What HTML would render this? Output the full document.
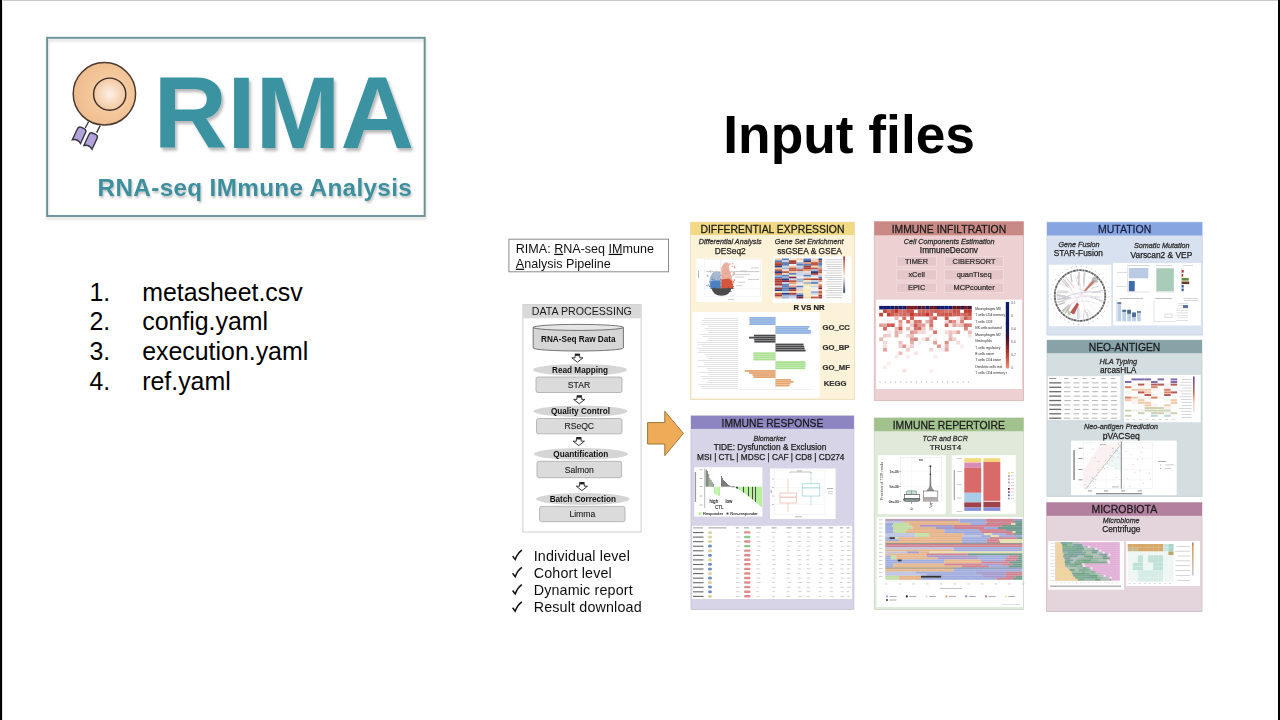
<!DOCTYPE html>
<html><head><meta charset="utf-8"><title>Input files</title>
<style>
html,body{margin:0;padding:0;background:#fff;width:1280px;height:720px;overflow:hidden}
svg{display:block;font-family:"Liberation Sans", sans-serif}
</style></head><body>
<svg width="1280" height="720" viewBox="0 0 1280 720">
<defs>
<filter id="soft" x="0" y="0" width="100%" height="100%"><feGaussianBlur stdDeviation="0.3"/></filter>
<radialGradient id="cellg" cx="0.6" cy="0.5" r="0.6"><stop offset="0" stop-color="#f8dcc0"/><stop offset="0.5" stop-color="#f4c89c"/><stop offset="1" stop-color="#eebb8c"/></radialGradient>
<radialGradient id="nucg" cx="0.5" cy="0.5" r="0.55"><stop offset="0" stop-color="#fdf0e6"/><stop offset="1" stop-color="#f2c49a"/></radialGradient>
<filter id="tsh" x="-10%" y="-10%" width="130%" height="140%"><feGaussianBlur in="SourceAlpha" stdDeviation="1.6"/><feOffset dx="1.5" dy="3" result="b"/><feFlood flood-color="#000" flood-opacity="0.28"/><feComposite in2="b" operator="in"/><feMerge><feMergeNode/><feMergeNode in="SourceGraphic"/></feMerge></filter>
<filter id="tsh2" x="-10%" y="-20%" width="130%" height="160%"><feGaussianBlur in="SourceAlpha" stdDeviation="0.9"/><feOffset dx="0.8" dy="1.8" result="b"/><feFlood flood-color="#000" flood-opacity="0.25"/><feComposite in2="b" operator="in"/><feMerge><feMergeNode/><feMergeNode in="SourceGraphic"/></feMerge></filter>
<filter id="bsh" x="-5%" y="-5%" width="110%" height="115%"><feGaussianBlur stdDeviation="1.6"/></filter>
</defs>
<rect x="0" y="0" width="1280" height="720" fill="#fff"/>
<rect x="0" y="0" width="1280" height="1" fill="#c9c9c9"/>
<rect x="0" y="0" width="2" height="720" fill="#000"/>
<rect x="2" y="0" width="1" height="720" fill="#e6e6e6"/>
<rect x="1278" y="0" width="2" height="720" fill="#000"/>
<rect x="47.1" y="37.8" width="377.6" height="178.2" fill="none" stroke="#000" stroke-opacity="0.13" stroke-width="2.5" filter="url(#bsh)" transform="translate(0.6,2.2)"/><rect x="47.1" y="37.8" width="377.6" height="178.2" fill="none" stroke="#6d9296" stroke-width="1.9"/>
<circle cx="104.4" cy="93.8" r="31.2" fill="url(#cellg)" stroke="#4a3a30" stroke-width="1.5"/>
<circle cx="109.7" cy="94.2" r="16.1" fill="url(#nucg)" stroke="#3e302a" stroke-width="1.4"/>
<line x1="88.6" y1="121.8" x2="85.2" y2="128" stroke="#333338" stroke-width="1.3"/>
<line x1="100.2" y1="125.6" x2="96.6" y2="132.6" stroke="#333338" stroke-width="1.3"/>
<path d="M-4.5,7.5 L-4.5,-4.3 Q-4.5,-7.5 -1.3,-7.5 L1.3,-7.5 Q4.5,-7.5 4.5,-4.3 L4.5,7.5 Q0,4.3 -4.5,7.5 Z" transform="translate(79.6,134.8) rotate(25)" fill="#b3a3dc" stroke="#37343f" stroke-width="1.4"/>
<path d="M-4.5,7.5 L-4.5,-4.3 Q-4.5,-7.5 -1.3,-7.5 L1.3,-7.5 Q4.5,-7.5 4.5,-4.3 L4.5,7.5 Q0,4.3 -4.5,7.5 Z" transform="translate(91.1,140.6) rotate(25)" fill="#b3a3dc" stroke="#37343f" stroke-width="1.4"/>
<text x="153.6" y="148" font-size="102" font-weight="700" fill="#3a93a2" filter="url(#tsh)">RIMA</text>
<text x="97.6" y="196" font-size="24.3" font-weight="700" fill="#3d8f9e" letter-spacing="0.33" filter="url(#tsh2)">RNA-seq IMmune Analysis</text>
<text x="89.50" y="300.60" font-size="24.9" fill="#000" text-anchor="start" >1.</text>
<text x="142.20" y="300.60" font-size="24.9" fill="#000" text-anchor="start" >metasheet.csv</text>
<text x="89.50" y="330.30" font-size="24.9" fill="#000" text-anchor="start" >2.</text>
<text x="142.20" y="330.30" font-size="24.9" fill="#000" text-anchor="start" >config.yaml</text>
<text x="89.50" y="360.00" font-size="24.9" fill="#000" text-anchor="start" >3.</text>
<text x="142.20" y="360.00" font-size="24.9" fill="#000" text-anchor="start" >execution.yaml</text>
<text x="89.50" y="389.70" font-size="24.9" fill="#000" text-anchor="start" >4.</text>
<text x="142.20" y="389.70" font-size="24.9" fill="#000" text-anchor="start" >ref.yaml</text>
<text x="723.30" y="152.70" font-size="53.3" fill="#000" font-weight="700" text-anchor="start" >Input files</text>
<g filter="url(#soft)">
<rect x="508.9" y="239.2" width="159.6" height="32.6" fill="#fff" stroke="#8a8a8a" stroke-width="1"/>
<text x="515.8" y="252.8" font-size="12.55" fill="#111">RIMA: <tspan text-decoration="underline">R</tspan>NA-seq <tspan text-decoration="underline">IM</tspan>mune</text>
<text x="515.8" y="267.7" font-size="12.55" fill="#111"><tspan text-decoration="underline">A</tspan>nalysis Pipeline</text>
<rect x="522.9" y="304.5" width="118.2" height="227.5" fill="#fff" stroke="#cfcfcf" stroke-width="1"/>
<rect x="522.9" y="304.5" width="118.2" height="13.8" fill="#d9d9d9"/>
<text x="581.80" y="315.10" font-size="10.65" fill="#1a1a1a" text-anchor="middle" >DATA PROCESSING</text>
<path d="M533.2,327.4 L533.2,348 A45.1,3 0 0 0 623.4,348 L623.4,327.4" fill="#d6d6d6" stroke="#555" stroke-width="0.8"/>
<ellipse cx="578.3" cy="327.4" rx="45.099999999999966" ry="3" fill="#e6e6e6" stroke="#555" stroke-width="0.8"/>
<text x="578.30" y="342.40" font-size="8.2" fill="#111" font-weight="700" text-anchor="middle" >RNA-Seq Raw Data</text>
<rect x="574.80" y="353.60" width="5.2" height="2" fill="#222"/>
<path d="M575.00,355.60 L579.80,355.60 L579.80,357.80 L583.00,357.80 L577.40,362.20 L571.80,357.80 L575.00,357.80 Z" fill="#fff" stroke="#222" stroke-width="0.9"/>
<ellipse cx="580.00" cy="369.80" rx="47.00" ry="5.80" fill="#d5d5d5"/>
<text x="580.00" y="372.70" font-size="8.2" fill="#111" font-weight="700" text-anchor="middle" >Read Mapping</text>
<rect x="536.00" y="377.00" width="86.00" height="15.50" rx="2" fill="#dbdbdb" stroke="#a9a9a9" stroke-width="0.8"/>
<text x="579.00" y="387.85" font-size="8.6" fill="#222" text-anchor="middle" stroke="#222" stroke-width="0.12">STAR</text>
<rect x="576.70" y="395.20" width="5.2" height="2" fill="#222"/>
<path d="M576.90,397.20 L581.70,397.20 L581.70,399.40 L584.90,399.40 L579.30,403.80 L573.70,399.40 L576.90,399.40 Z" fill="#fff" stroke="#222" stroke-width="0.9"/>
<ellipse cx="580.50" cy="411.25" rx="47.00" ry="5.65" fill="#d5d5d5"/>
<text x="580.50" y="414.15" font-size="8.2" fill="#111" font-weight="700" text-anchor="middle" >Quality Control</text>
<rect x="536.50" y="418.50" width="85.50" height="15.30" rx="2" fill="#dbdbdb" stroke="#a9a9a9" stroke-width="0.8"/>
<text x="579.25" y="429.25" font-size="8.6" fill="#222" text-anchor="middle" stroke="#222" stroke-width="0.12">RSeQC</text>
<rect x="576.20" y="437.00" width="5.2" height="2" fill="#222"/>
<path d="M576.40,439.00 L581.20,439.00 L581.20,441.20 L584.40,441.20 L578.80,445.60 L573.20,441.20 L576.40,441.20 Z" fill="#fff" stroke="#222" stroke-width="0.9"/>
<ellipse cx="580.85" cy="453.90" rx="47.15" ry="5.90" fill="#d5d5d5"/>
<text x="580.85" y="456.80" font-size="8.2" fill="#111" font-weight="700" text-anchor="middle" >Quantification</text>
<rect x="537.00" y="461.30" width="84.60" height="16.40" rx="2" fill="#dbdbdb" stroke="#a9a9a9" stroke-width="0.8"/>
<text x="579.30" y="472.60" font-size="8.6" fill="#222" text-anchor="middle" stroke="#222" stroke-width="0.12">Salmon</text>
<rect x="579.30" y="482.00" width="5.2" height="2" fill="#222"/>
<path d="M579.50,484.00 L584.30,484.00 L584.30,486.20 L587.50,486.20 L581.90,490.60 L576.30,486.20 L579.50,486.20 Z" fill="#fff" stroke="#222" stroke-width="0.9"/>
<ellipse cx="582.85" cy="498.95" rx="46.85" ry="5.95" fill="#d5d5d5"/>
<text x="582.85" y="501.85" font-size="8.2" fill="#111" font-weight="700" text-anchor="middle" >Batch Correction</text>
<rect x="539.60" y="506.40" width="85.40" height="15.30" rx="2" fill="#dbdbdb" stroke="#a9a9a9" stroke-width="0.8"/>
<text x="582.30" y="517.15" font-size="8.6" fill="#222" text-anchor="middle" stroke="#222" stroke-width="0.12">Limma</text>
<path d="M512.6,556.10 L515.2,559.50 Q517.5,553.20 521.9,550.20" fill="none" stroke="#111" stroke-width="1.5"/>
<text x="533.70" y="560.70" font-size="14.3" fill="#111" text-anchor="start" letter-spacing="0.16">Individual level</text>
<path d="M512.6,573.30 L515.2,576.70 Q517.5,570.40 521.9,567.40" fill="none" stroke="#111" stroke-width="1.5"/>
<text x="533.70" y="577.90" font-size="14.3" fill="#111" text-anchor="start" letter-spacing="0.16">Cohort level</text>
<path d="M512.6,590.50 L515.2,593.90 Q517.5,587.60 521.9,584.60" fill="none" stroke="#111" stroke-width="1.5"/>
<text x="533.70" y="595.10" font-size="14.3" fill="#111" text-anchor="start" letter-spacing="0.16">Dynamic report</text>
<path d="M512.6,607.70 L515.2,611.10 Q517.5,604.80 521.9,601.80" fill="none" stroke="#111" stroke-width="1.5"/>
<text x="533.70" y="612.30" font-size="14.3" fill="#111" text-anchor="start" letter-spacing="0.16">Result download</text>
<path d="M647.6,422.6 L664.8,422.6 L664.8,411.2 L683.4,433.4 L664.8,455.7 L664.8,444 L647.6,444 Z" fill="#eeac58" stroke="#9e7638" stroke-width="1"/>
<rect x="690.50" y="222.20" width="163.90" height="177.40" fill="#fcf1d9" stroke="#eadcb8" stroke-width="0.8"/>
<rect x="690.50" y="222.20" width="163.90" height="12.80" fill="#f1d984"/>
<text x="772.45" y="232.60" font-size="10.4" fill="#1c1c1c" stroke="#1c1c1c" stroke-width="0.26" text-anchor="middle" >DIFFERENTIAL EXPRESSION</text>
<text x="730.20" y="244.20" font-size="7.2" fill="#333" font-style="italic" stroke="#333" stroke-width="0.29" text-anchor="middle" >Differential Analysis</text>
<text x="730.20" y="253.90" font-size="8.3" fill="#222" stroke="#222" stroke-width="0.25" text-anchor="middle" >DESeq2</text>
<text x="809.20" y="244.10" font-size="7.2" fill="#333" font-style="italic" stroke="#333" stroke-width="0.29" text-anchor="middle" >Gene Set Enrichment</text>
<text x="809.50" y="253.90" font-size="8.4" fill="#222" stroke="#222" stroke-width="0.25" text-anchor="middle" >ssGSEA &amp; GSEA</text>
<rect x="696.40" y="258.70" width="65.30" height="43.30" fill="#fff"/>
<rect x="704.3" y="259.3" width="56.4" height="37.4" fill="none" stroke="#e6e6e6" stroke-width="0.4"/>
<line x1="704.3" y1="271.7" x2="760.7" y2="271.7" stroke="#d0d0d0" stroke-width="0.4" stroke-dasharray="1 1"/>
<line x1="704.3" y1="288.7" x2="760.7" y2="288.7" stroke="#d0d0d0" stroke-width="0.4" stroke-dasharray="1 1"/>
<line x1="720.8" y1="259.3" x2="720.8" y2="296.7" stroke="#c8c8c8" stroke-width="0.4"/>
<path d="M711,289 L709,282 L710.5,276 L713.5,272 L716.5,271 L720.5,272 L720.5,289 Z" fill="#a9bad0"/>
<path d="M710.5,289 L710.2,281.5 L715,280.5 L720.5,280.5 L720.5,289 Z" fill="#4c80c2"/>
<path d="M721.3,289 L721.3,268 L723.5,263.5 L726.5,262 L729,264 L729.5,271 L732,278 L733.5,284 L732,289 Z" fill="#eab0a2"/>
<path d="M721.3,289 L721.3,279.5 L729,278.5 L732,281 L733.5,289 Z" fill="#d4553a"/>
<path d="M711.5,288.3 L731.5,288.3 Q730,295.6 721.5,295.8 Q713,295.6 711.5,288.3 Z" fill="#4b4b4d"/>
<circle cx="734.3" cy="273.8" r="0.7" fill="#e8a090"/>
<circle cx="720.0" cy="278.1" r="0.7" fill="#93aacb"/>
<circle cx="729.2" cy="289.3" r="0.7" fill="#4b4b4d"/>
<circle cx="720.5" cy="275.0" r="0.7" fill="#93aacb"/>
<circle cx="717.6" cy="278.5" r="0.7" fill="#93aacb"/>
<circle cx="712.2" cy="279.5" r="0.7" fill="#4c80c2"/>
<circle cx="712.9" cy="273.9" r="0.7" fill="#93aacb"/>
<circle cx="720.3" cy="287.8" r="0.7" fill="#4c80c2"/>
<circle cx="726.9" cy="278.2" r="0.7" fill="#e8a090"/>
<circle cx="728.8" cy="282.5" r="0.7" fill="#d4553a"/>
<circle cx="712.9" cy="281.2" r="0.7" fill="#4c80c2"/>
<circle cx="722.4" cy="283.4" r="0.7" fill="#d4553a"/>
<circle cx="712.3" cy="276.9" r="0.7" fill="#93aacb"/>
<circle cx="731.9" cy="276.0" r="0.7" fill="#e8a090"/>
<circle cx="726.1" cy="269.5" r="0.7" fill="#e8a090"/>
<circle cx="728.4" cy="288.3" r="0.7" fill="#4b4b4d"/>
<circle cx="725.0" cy="291.4" r="0.7" fill="#4b4b4d"/>
<circle cx="723.1" cy="276.7" r="0.7" fill="#e8a090"/>
<circle cx="725.8" cy="272.5" r="0.7" fill="#e8a090"/>
<circle cx="729.1" cy="275.7" r="0.7" fill="#e8a090"/>
<circle cx="707.8" cy="276.2" r="0.7" fill="#93aacb"/>
<circle cx="720.2" cy="283.0" r="0.7" fill="#4c80c2"/>
<circle cx="725.0" cy="273.6" r="0.7" fill="#e8a090"/>
<circle cx="721.3" cy="275.9" r="0.7" fill="#e8a090"/>
<circle cx="712.4" cy="276.8" r="0.7" fill="#93aacb"/>
<circle cx="715.4" cy="289.5" r="0.7" fill="#4b4b4d"/>
<circle cx="722.1" cy="275.5" r="0.7" fill="#e8a090"/>
<circle cx="733.4" cy="286.6" r="0.7" fill="#d4553a"/>
<circle cx="730.9" cy="291.6" r="0.7" fill="#4b4b4d"/>
<circle cx="734.4" cy="266.5" r="0.7" fill="#e8a090"/>
<circle cx="718.9" cy="281.8" r="0.7" fill="#4c80c2"/>
<circle cx="714.2" cy="279.7" r="0.7" fill="#4c80c2"/>
<circle cx="724.9" cy="266.4" r="0.7" fill="#e8a090"/>
<circle cx="729.5" cy="271.6" r="0.7" fill="#e8a090"/>
<circle cx="711.3" cy="277.5" r="0.7" fill="#93aacb"/>
<circle cx="714.6" cy="288.1" r="0.7" fill="#4b4b4d"/>
<circle cx="726.6" cy="273.8" r="0.7" fill="#e8a090"/>
<circle cx="729.9" cy="263.9" r="0.7" fill="#e8a090"/>
<circle cx="707.2" cy="275.2" r="0.7" fill="#93aacb"/>
<circle cx="713.1" cy="278.1" r="0.7" fill="#93aacb"/>
<circle cx="729.6" cy="264.1" r="0.7" fill="#e8a090"/>
<circle cx="734.4" cy="280.1" r="0.7" fill="#d4553a"/>
<circle cx="722.7" cy="287.5" r="0.7" fill="#d4553a"/>
<circle cx="727.7" cy="271.4" r="0.7" fill="#e8a090"/>
<circle cx="719.6" cy="272.3" r="0.7" fill="#93aacb"/>
<circle cx="727.7" cy="282.8" r="0.7" fill="#d4553a"/>
<circle cx="718.1" cy="290.6" r="0.7" fill="#4b4b4d"/>
<circle cx="723.1" cy="278.3" r="0.7" fill="#e8a090"/>
<circle cx="710.4" cy="270.9" r="0.7" fill="#93aacb"/>
<circle cx="733.7" cy="272.7" r="0.7" fill="#e8a090"/>
<circle cx="713.5" cy="285.4" r="0.7" fill="#4c80c2"/>
<circle cx="729.9" cy="280.4" r="0.7" fill="#d4553a"/>
<circle cx="709.7" cy="286.5" r="0.7" fill="#4c80c2"/>
<circle cx="718.2" cy="276.8" r="0.7" fill="#93aacb"/>
<circle cx="707.1" cy="285.7" r="0.7" fill="#4c80c2"/>
<circle cx="724.6" cy="282.8" r="0.7" fill="#d4553a"/>
<circle cx="727.3" cy="290.1" r="0.7" fill="#4b4b4d"/>
<circle cx="734.4" cy="272.9" r="0.7" fill="#e8a090"/>
<circle cx="719.6" cy="276.1" r="0.7" fill="#93aacb"/>
<circle cx="723.9" cy="280.7" r="0.7" fill="#d4553a"/>
<circle cx="714.3" cy="281.6" r="0.7" fill="#4c80c2"/>
<circle cx="732.0" cy="284.5" r="0.7" fill="#d4553a"/>
<circle cx="733.4" cy="275.0" r="0.7" fill="#e8a090"/>
<circle cx="722.2" cy="290.4" r="0.7" fill="#4b4b4d"/>
<circle cx="727.5" cy="284.3" r="0.7" fill="#d4553a"/>
<circle cx="720.6" cy="279.7" r="0.7" fill="#4c80c2"/>
<circle cx="732.3" cy="266.4" r="0.7" fill="#e8a090"/>
<circle cx="730.2" cy="272.5" r="0.7" fill="#e8a090"/>
<circle cx="720.7" cy="286.0" r="0.7" fill="#4c80c2"/>
<circle cx="713.6" cy="290.0" r="0.7" fill="#4b4b4d"/>
<circle cx="734.8" cy="267.8" r="0.7" fill="#e8a090"/>
<circle cx="710.3" cy="271.8" r="0.7" fill="#93aacb"/>
<circle cx="732.7" cy="263.8" r="0.7" fill="#e8a090"/>
<circle cx="733.6" cy="281.9" r="0.7" fill="#d4553a"/>
<circle cx="732.6" cy="288.3" r="0.7" fill="#4b4b4d"/>
<circle cx="713.6" cy="277.7" r="0.7" fill="#93aacb"/>
<circle cx="708.8" cy="285.3" r="0.7" fill="#4c80c2"/>
<circle cx="714.4" cy="283.8" r="0.7" fill="#4c80c2"/>
<rect x="731.3" y="271.3" width="28" height="0.8" fill="#bdbdbd"/>
<rect x="751" y="267.5" width="8" height="0.8" fill="#c4c4c4"/>
<rect x="740" y="270.6" width="7" height="0.8" fill="#c4c4c4"/>
<rect x="732" y="274.2" width="18" height="0.8" fill="#c4c4c4"/>
<rect x="735" y="276.6" width="9" height="0.8" fill="#c4c4c4"/>
<rect x="748" y="279.2" width="11" height="0.8" fill="#c4c4c4"/>
<rect x="738" y="281.8" width="7" height="0.8" fill="#c4c4c4"/>
<rect x="736" y="285.3" width="6" height="0.8" fill="#c4c4c4"/>
<rect x="706" y="271" width="8" height="0.8" fill="#c4c4c4"/>
<rect x="706" y="285.3" width="4" height="0.8" fill="#c4c4c4"/>
<rect x="698" y="271" width="1" height="7" fill="#bbb"/>
<rect x="728" y="299.2" width="6" height="0.7" fill="#c4c4c4"/>
<rect x="773.00" y="256.50" width="78.30" height="46.50" fill="#fff"/>
<rect x="774.80" y="258.50" width="7.25" height="1.86" fill="#f2c6a6"/>
<rect x="774.80" y="260.31" width="7.25" height="1.86" fill="#5a7fb8"/>
<rect x="774.80" y="262.13" width="7.25" height="1.86" fill="#c05a42"/>
<rect x="774.80" y="263.94" width="7.25" height="1.86" fill="#a83a30"/>
<rect x="774.80" y="265.75" width="7.25" height="1.86" fill="#2b3f82"/>
<rect x="774.80" y="267.57" width="7.25" height="1.86" fill="#f2c6a6"/>
<rect x="774.80" y="269.38" width="7.25" height="1.86" fill="#c05a42"/>
<rect x="774.80" y="271.20" width="7.25" height="1.86" fill="#2b3f82"/>
<rect x="774.80" y="273.01" width="7.25" height="1.86" fill="#c05a42"/>
<rect x="774.80" y="274.82" width="7.25" height="1.86" fill="#9cb2d6"/>
<rect x="774.80" y="276.64" width="7.25" height="1.86" fill="#5a7fb8"/>
<rect x="774.80" y="278.45" width="7.25" height="1.86" fill="#a83a30"/>
<rect x="774.80" y="280.26" width="7.25" height="1.86" fill="#a83a30"/>
<rect x="774.80" y="282.08" width="7.25" height="1.86" fill="#c05a42"/>
<rect x="774.80" y="283.89" width="7.25" height="1.86" fill="#a83a30"/>
<rect x="774.80" y="285.70" width="7.25" height="1.86" fill="#c9d3e6"/>
<rect x="774.80" y="287.52" width="7.25" height="1.86" fill="#a83a30"/>
<rect x="774.80" y="289.33" width="7.25" height="1.86" fill="#2b3f82"/>
<rect x="774.80" y="291.15" width="7.25" height="1.86" fill="#f4e7c4"/>
<rect x="774.80" y="292.96" width="7.25" height="1.86" fill="#c05a42"/>
<rect x="774.80" y="294.77" width="7.25" height="1.86" fill="#a83a30"/>
<rect x="774.80" y="296.59" width="7.25" height="1.86" fill="#f2c6a6"/>
<rect x="782.00" y="258.50" width="7.05" height="1.86" fill="#5a7fb8"/>
<rect x="782.00" y="260.31" width="7.05" height="1.86" fill="#c9d3e6"/>
<rect x="782.00" y="262.13" width="7.05" height="1.86" fill="#5a7fb8"/>
<rect x="782.00" y="263.94" width="7.05" height="1.86" fill="#5a7fb8"/>
<rect x="782.00" y="265.75" width="7.05" height="1.86" fill="#c9d3e6"/>
<rect x="782.00" y="267.57" width="7.05" height="1.86" fill="#9cb2d6"/>
<rect x="782.00" y="269.38" width="7.05" height="1.86" fill="#eadbd0"/>
<rect x="782.00" y="271.20" width="7.05" height="1.86" fill="#c05a42"/>
<rect x="782.00" y="273.01" width="7.05" height="1.86" fill="#eadbd0"/>
<rect x="782.00" y="274.82" width="7.05" height="1.86" fill="#5a7fb8"/>
<rect x="782.00" y="276.64" width="7.05" height="1.86" fill="#9cb2d6"/>
<rect x="782.00" y="278.45" width="7.05" height="1.86" fill="#2b3f82"/>
<rect x="782.00" y="280.26" width="7.05" height="1.86" fill="#7f2444"/>
<rect x="782.00" y="282.08" width="7.05" height="1.86" fill="#c9d3e6"/>
<rect x="782.00" y="283.89" width="7.05" height="1.86" fill="#5a7fb8"/>
<rect x="782.00" y="285.70" width="7.05" height="1.86" fill="#5a7fb8"/>
<rect x="782.00" y="287.52" width="7.05" height="1.86" fill="#5a7fb8"/>
<rect x="782.00" y="289.33" width="7.05" height="1.86" fill="#5a7fb8"/>
<rect x="782.00" y="291.15" width="7.05" height="1.86" fill="#c9d3e6"/>
<rect x="782.00" y="292.96" width="7.05" height="1.86" fill="#2b3f82"/>
<rect x="782.00" y="294.77" width="7.05" height="1.86" fill="#9cb2d6"/>
<rect x="782.00" y="296.59" width="7.05" height="1.86" fill="#9cb2d6"/>
<rect x="789.00" y="258.50" width="7.55" height="1.86" fill="#f4e7c4"/>
<rect x="789.00" y="260.31" width="7.55" height="1.86" fill="#a83a30"/>
<rect x="789.00" y="262.13" width="7.55" height="1.86" fill="#a83a30"/>
<rect x="789.00" y="263.94" width="7.55" height="1.86" fill="#f5efe6"/>
<rect x="789.00" y="265.75" width="7.55" height="1.86" fill="#f2c6a6"/>
<rect x="789.00" y="267.57" width="7.55" height="1.86" fill="#c05a42"/>
<rect x="789.00" y="269.38" width="7.55" height="1.86" fill="#c05a42"/>
<rect x="789.00" y="271.20" width="7.55" height="1.86" fill="#f2c6a6"/>
<rect x="789.00" y="273.01" width="7.55" height="1.86" fill="#5a7fb8"/>
<rect x="789.00" y="274.82" width="7.55" height="1.86" fill="#f4e7c4"/>
<rect x="789.00" y="276.64" width="7.55" height="1.86" fill="#7f2444"/>
<rect x="789.00" y="278.45" width="7.55" height="1.86" fill="#c9d3e6"/>
<rect x="789.00" y="280.26" width="7.55" height="1.86" fill="#c05a42"/>
<rect x="789.00" y="282.08" width="7.55" height="1.86" fill="#e39a7a"/>
<rect x="789.00" y="283.89" width="7.55" height="1.86" fill="#eadbd0"/>
<rect x="789.00" y="285.70" width="7.55" height="1.86" fill="#e39a7a"/>
<rect x="789.00" y="287.52" width="7.55" height="1.86" fill="#2b3f82"/>
<rect x="789.00" y="289.33" width="7.55" height="1.86" fill="#a83a30"/>
<rect x="789.00" y="291.15" width="7.55" height="1.86" fill="#f2c6a6"/>
<rect x="789.00" y="292.96" width="7.55" height="1.86" fill="#a83a30"/>
<rect x="789.00" y="294.77" width="7.55" height="1.86" fill="#9cb2d6"/>
<rect x="789.00" y="296.59" width="7.55" height="1.86" fill="#c9d3e6"/>
<rect x="796.50" y="258.50" width="7.05" height="1.86" fill="#f2c6a6"/>
<rect x="796.50" y="260.31" width="7.05" height="1.86" fill="#f5efe6"/>
<rect x="796.50" y="262.13" width="7.05" height="1.86" fill="#9cb2d6"/>
<rect x="796.50" y="263.94" width="7.05" height="1.86" fill="#5a7fb8"/>
<rect x="796.50" y="265.75" width="7.05" height="1.86" fill="#c9d3e6"/>
<rect x="796.50" y="267.57" width="7.05" height="1.86" fill="#9cb2d6"/>
<rect x="796.50" y="269.38" width="7.05" height="1.86" fill="#c05a42"/>
<rect x="796.50" y="271.20" width="7.05" height="1.86" fill="#c9d3e6"/>
<rect x="796.50" y="273.01" width="7.05" height="1.86" fill="#c9d3e6"/>
<rect x="796.50" y="274.82" width="7.05" height="1.86" fill="#c9d3e6"/>
<rect x="796.50" y="276.64" width="7.05" height="1.86" fill="#f5efe6"/>
<rect x="796.50" y="278.45" width="7.05" height="1.86" fill="#9cb2d6"/>
<rect x="796.50" y="280.26" width="7.05" height="1.86" fill="#9cb2d6"/>
<rect x="796.50" y="282.08" width="7.05" height="1.86" fill="#eadbd0"/>
<rect x="796.50" y="283.89" width="7.05" height="1.86" fill="#f5efe6"/>
<rect x="796.50" y="285.70" width="7.05" height="1.86" fill="#5a7fb8"/>
<rect x="796.50" y="287.52" width="7.05" height="1.86" fill="#c9d3e6"/>
<rect x="796.50" y="289.33" width="7.05" height="1.86" fill="#f2c6a6"/>
<rect x="796.50" y="291.15" width="7.05" height="1.86" fill="#f4e7c4"/>
<rect x="796.50" y="292.96" width="7.05" height="1.86" fill="#9cb2d6"/>
<rect x="796.50" y="294.77" width="7.05" height="1.86" fill="#2b3f82"/>
<rect x="796.50" y="296.59" width="7.05" height="1.86" fill="#7f2444"/>
<rect x="803.50" y="258.50" width="7.55" height="1.86" fill="#5a7fb8"/>
<rect x="803.50" y="260.31" width="7.55" height="1.86" fill="#2b3f82"/>
<rect x="803.50" y="262.13" width="7.55" height="1.86" fill="#e39a7a"/>
<rect x="803.50" y="263.94" width="7.55" height="1.86" fill="#5a7fb8"/>
<rect x="803.50" y="265.75" width="7.55" height="1.86" fill="#a83a30"/>
<rect x="803.50" y="267.57" width="7.55" height="1.86" fill="#a83a30"/>
<rect x="803.50" y="269.38" width="7.55" height="1.86" fill="#e39a7a"/>
<rect x="803.50" y="271.20" width="7.55" height="1.86" fill="#eadbd0"/>
<rect x="803.50" y="273.01" width="7.55" height="1.86" fill="#c9d3e6"/>
<rect x="803.50" y="274.82" width="7.55" height="1.86" fill="#5a7fb8"/>
<rect x="803.50" y="276.64" width="7.55" height="1.86" fill="#eadbd0"/>
<rect x="803.50" y="278.45" width="7.55" height="1.86" fill="#c05a42"/>
<rect x="803.50" y="280.26" width="7.55" height="1.86" fill="#f4e7c4"/>
<rect x="803.50" y="282.08" width="7.55" height="1.86" fill="#9cb2d6"/>
<rect x="803.50" y="283.89" width="7.55" height="1.86" fill="#eedfa8"/>
<rect x="803.50" y="285.70" width="7.55" height="1.86" fill="#f6edc8"/>
<rect x="803.50" y="287.52" width="7.55" height="1.86" fill="#f6edc8"/>
<rect x="803.50" y="289.33" width="7.55" height="1.86" fill="#f4e7b8"/>
<rect x="803.50" y="291.15" width="7.55" height="1.86" fill="#f6edc8"/>
<rect x="803.50" y="292.96" width="7.55" height="1.86" fill="#f4e7b8"/>
<rect x="803.50" y="294.77" width="7.55" height="1.86" fill="#f6edc8"/>
<rect x="803.50" y="296.59" width="7.55" height="1.86" fill="#eedfa8"/>
<rect x="811.00" y="258.50" width="7.55" height="1.86" fill="#eadbd0"/>
<rect x="811.00" y="260.31" width="7.55" height="1.86" fill="#f2c6a6"/>
<rect x="811.00" y="262.13" width="7.55" height="1.86" fill="#c05a42"/>
<rect x="811.00" y="263.94" width="7.55" height="1.86" fill="#c05a42"/>
<rect x="811.00" y="265.75" width="7.55" height="1.86" fill="#eadbd0"/>
<rect x="811.00" y="267.57" width="7.55" height="1.86" fill="#c05a42"/>
<rect x="811.00" y="269.38" width="7.55" height="1.86" fill="#9cb2d6"/>
<rect x="811.00" y="271.20" width="7.55" height="1.86" fill="#2b3f82"/>
<rect x="811.00" y="273.01" width="7.55" height="1.86" fill="#a83a30"/>
<rect x="811.00" y="274.82" width="7.55" height="1.86" fill="#c9d3e6"/>
<rect x="811.00" y="276.64" width="7.55" height="1.86" fill="#f5efe6"/>
<rect x="811.00" y="278.45" width="7.55" height="1.86" fill="#a83a30"/>
<rect x="811.00" y="280.26" width="7.55" height="1.86" fill="#c9d3e6"/>
<rect x="811.00" y="282.08" width="7.55" height="1.86" fill="#5a7fb8"/>
<rect x="811.00" y="283.89" width="7.55" height="1.86" fill="#f4e7c4"/>
<rect x="811.00" y="285.70" width="7.55" height="1.86" fill="#c9d3e6"/>
<rect x="811.00" y="287.52" width="7.55" height="1.86" fill="#f5efe6"/>
<rect x="811.00" y="289.33" width="7.55" height="1.86" fill="#f5efe6"/>
<rect x="811.00" y="291.15" width="7.55" height="1.86" fill="#9cb2d6"/>
<rect x="811.00" y="292.96" width="7.55" height="1.86" fill="#c9d3e6"/>
<rect x="811.00" y="294.77" width="7.55" height="1.86" fill="#f5efe6"/>
<rect x="811.00" y="296.59" width="7.55" height="1.86" fill="#c05a42"/>
<rect x="818.50" y="258.50" width="3.55" height="1.86" fill="#2b3f82"/>
<rect x="818.50" y="260.31" width="3.55" height="1.86" fill="#c05a42"/>
<rect x="818.50" y="262.13" width="3.55" height="1.86" fill="#5a7fb8"/>
<rect x="818.50" y="263.94" width="3.55" height="1.86" fill="#5a7fb8"/>
<rect x="818.50" y="265.75" width="3.55" height="1.86" fill="#9cb2d6"/>
<rect x="818.50" y="267.57" width="3.55" height="1.86" fill="#e39a7a"/>
<rect x="818.50" y="269.38" width="3.55" height="1.86" fill="#c05a42"/>
<rect x="818.50" y="271.20" width="3.55" height="1.86" fill="#c05a42"/>
<rect x="818.50" y="273.01" width="3.55" height="1.86" fill="#f2c6a6"/>
<rect x="818.50" y="274.82" width="3.55" height="1.86" fill="#c9d3e6"/>
<rect x="818.50" y="276.64" width="3.55" height="1.86" fill="#5a7fb8"/>
<rect x="818.50" y="278.45" width="3.55" height="1.86" fill="#a83a30"/>
<rect x="818.50" y="280.26" width="3.55" height="1.86" fill="#e39a7a"/>
<rect x="818.50" y="282.08" width="3.55" height="1.86" fill="#f5efe6"/>
<rect x="818.50" y="283.89" width="3.55" height="1.86" fill="#e39a7a"/>
<rect x="818.50" y="285.70" width="3.55" height="1.86" fill="#c05a42"/>
<rect x="818.50" y="287.52" width="3.55" height="1.86" fill="#7f2444"/>
<rect x="818.50" y="289.33" width="3.55" height="1.86" fill="#f2c6a6"/>
<rect x="818.50" y="291.15" width="3.55" height="1.86" fill="#c05a42"/>
<rect x="818.50" y="292.96" width="3.55" height="1.86" fill="#e39a7a"/>
<rect x="818.50" y="294.77" width="3.55" height="1.86" fill="#a83a30"/>
<rect x="818.50" y="296.59" width="3.55" height="1.86" fill="#a83a30"/>
<rect x="826.17" y="259.50" width="15.83" height="0.6" fill="#b4b4b4"/>
<rect x="824.86" y="261.71" width="17.14" height="0.6" fill="#b4b4b4"/>
<rect x="825.95" y="263.91" width="16.05" height="0.6" fill="#b4b4b4"/>
<rect x="826.17" y="266.12" width="15.83" height="0.6" fill="#b4b4b4"/>
<rect x="827.47" y="268.32" width="14.53" height="0.6" fill="#b4b4b4"/>
<rect x="823.60" y="270.53" width="18.40" height="0.6" fill="#b4b4b4"/>
<rect x="826.19" y="272.74" width="15.81" height="0.6" fill="#b4b4b4"/>
<rect x="824.42" y="274.94" width="17.58" height="0.6" fill="#b4b4b4"/>
<rect x="824.58" y="277.15" width="17.42" height="0.6" fill="#b4b4b4"/>
<rect x="827.40" y="279.35" width="14.60" height="0.6" fill="#b4b4b4"/>
<rect x="825.89" y="281.56" width="16.11" height="0.6" fill="#b4b4b4"/>
<rect x="826.20" y="283.76" width="15.80" height="0.6" fill="#b4b4b4"/>
<rect x="827.33" y="285.97" width="14.67" height="0.6" fill="#b4b4b4"/>
<rect x="828.20" y="288.18" width="13.80" height="0.6" fill="#b4b4b4"/>
<rect x="825.53" y="290.38" width="16.47" height="0.6" fill="#b4b4b4"/>
<rect x="826.49" y="292.59" width="15.51" height="0.6" fill="#b4b4b4"/>
<rect x="825.88" y="294.79" width="16.12" height="0.6" fill="#b4b4b4"/>
<rect x="825.92" y="297.00" width="16.08" height="0.6" fill="#b4b4b4"/>
<defs><linearGradient id="cbar1" x1="0" y1="0" x2="0" y2="1"><stop offset="0" stop-color="#8e4a48"/><stop offset="0.35" stop-color="#e8b090"/><stop offset="0.55" stop-color="#f7f3ee"/><stop offset="1" stop-color="#2e3a66"/></linearGradient></defs>
<rect x="843.20" y="256.40" width="1.90" height="36.40" fill="url(#cbar1)" />
<text x="809.00" y="310.40" font-size="7.7" fill="#222" font-weight="700" stroke="#222" stroke-width="0.23" text-anchor="middle" >R VS NR</text>
<rect x="692.20" y="312.00" width="127.50" height="85.70" fill="#fff"/>
<rect x="704.73" y="318.00" width="33.27" height="0.5" fill="#c6c6c6"/>
<rect x="701.70" y="320.00" width="36.30" height="0.5" fill="#c6c6c6"/>
<rect x="702.72" y="322.00" width="35.28" height="0.5" fill="#c6c6c6"/>
<rect x="702.02" y="324.00" width="35.98" height="0.5" fill="#c6c6c6"/>
<rect x="707.86" y="326.00" width="30.14" height="0.5" fill="#c6c6c6"/>
<rect x="704.81" y="328.00" width="33.19" height="0.5" fill="#c6c6c6"/>
<rect x="707.04" y="330.00" width="30.96" height="0.5" fill="#c6c6c6"/>
<rect x="707.87" y="332.00" width="30.13" height="0.5" fill="#c6c6c6"/>
<rect x="699.27" y="334.00" width="38.73" height="0.5" fill="#c6c6c6"/>
<rect x="703.05" y="336.00" width="34.95" height="0.5" fill="#c6c6c6"/>
<rect x="707.89" y="338.00" width="30.11" height="0.5" fill="#c6c6c6"/>
<rect x="706.58" y="340.00" width="31.42" height="0.5" fill="#c6c6c6"/>
<rect x="697.73" y="342.00" width="40.27" height="0.5" fill="#c6c6c6"/>
<rect x="697.53" y="344.00" width="40.47" height="0.5" fill="#c6c6c6"/>
<rect x="701.57" y="346.00" width="36.43" height="0.5" fill="#c6c6c6"/>
<rect x="696.91" y="348.00" width="41.09" height="0.5" fill="#c6c6c6"/>
<rect x="699.03" y="350.00" width="38.97" height="0.5" fill="#c6c6c6"/>
<rect x="696.92" y="352.00" width="41.08" height="0.5" fill="#c6c6c6"/>
<rect x="704.44" y="354.00" width="33.56" height="0.5" fill="#c6c6c6"/>
<rect x="705.88" y="356.00" width="32.12" height="0.5" fill="#c6c6c6"/>
<rect x="707.30" y="358.00" width="30.70" height="0.5" fill="#c6c6c6"/>
<rect x="697.95" y="360.00" width="40.05" height="0.5" fill="#c6c6c6"/>
<rect x="705.02" y="362.00" width="32.98" height="0.5" fill="#c6c6c6"/>
<rect x="704.32" y="364.00" width="33.68" height="0.5" fill="#c6c6c6"/>
<rect x="697.80" y="366.00" width="40.20" height="0.5" fill="#c6c6c6"/>
<rect x="707.12" y="368.00" width="30.88" height="0.5" fill="#c6c6c6"/>
<rect x="708.19" y="370.00" width="29.81" height="0.5" fill="#c6c6c6"/>
<rect x="698.77" y="372.00" width="39.23" height="0.5" fill="#c6c6c6"/>
<rect x="708.00" y="374.00" width="30.00" height="0.5" fill="#c6c6c6"/>
<rect x="701.02" y="376.00" width="36.98" height="0.5" fill="#c6c6c6"/>
<rect x="702.14" y="378.00" width="35.86" height="0.5" fill="#c6c6c6"/>
<rect x="708.47" y="380.00" width="29.53" height="0.5" fill="#c6c6c6"/>
<rect x="706.49" y="382.00" width="31.51" height="0.5" fill="#c6c6c6"/>
<rect x="698.03" y="384.00" width="39.97" height="0.5" fill="#c6c6c6"/>
<rect x="701.44" y="386.00" width="36.56" height="0.5" fill="#c6c6c6"/>
<rect x="702.50" y="388.00" width="35.50" height="0.5" fill="#c6c6c6"/>
<line x1="775.5" y1="316" x2="775.5" y2="389" stroke="#ddd" stroke-width="0.4"/>
<rect x="749.50" y="317.00" width="26.00" height="1.84" fill="#8fb2e3"/>
<rect x="749.20" y="319.05" width="26.30" height="1.84" fill="#8fb2e3"/>
<rect x="749.60" y="321.10" width="25.90" height="1.84" fill="#8fb2e3"/>
<rect x="749.30" y="323.15" width="26.20" height="1.84" fill="#8fb2e3"/>
<rect x="775.50" y="326.00" width="34.00" height="1.80" fill="#8fb2e3"/>
<rect x="775.50" y="328.00" width="32.70" height="1.80" fill="#8fb2e3"/>
<rect x="775.50" y="330.00" width="35.70" height="1.80" fill="#8fb2e3"/>
<rect x="775.50" y="332.00" width="35.30" height="1.80" fill="#8fb2e3"/>
<rect x="753.90" y="334.70" width="21.60" height="1.82" fill="#4a4a4c"/>
<rect x="749.00" y="336.73" width="26.50" height="1.82" fill="#4a4a4c"/>
<rect x="754.20" y="338.75" width="21.30" height="1.82" fill="#4a4a4c"/>
<rect x="754.40" y="340.77" width="21.10" height="1.82" fill="#4a4a4c"/>
<rect x="775.50" y="343.60" width="28.00" height="1.82" fill="#4a4a4c"/>
<rect x="775.50" y="345.62" width="28.70" height="1.82" fill="#4a4a4c"/>
<rect x="775.50" y="347.65" width="29.10" height="1.82" fill="#4a4a4c"/>
<rect x="775.50" y="349.68" width="30.10" height="1.82" fill="#4a4a4c"/>
<rect x="753.20" y="352.40" width="22.30" height="1.85" fill="#a8e08f"/>
<rect x="753.30" y="354.45" width="22.20" height="1.85" fill="#a8e08f"/>
<rect x="753.60" y="356.50" width="21.90" height="1.85" fill="#a8e08f"/>
<rect x="753.40" y="358.55" width="22.10" height="1.85" fill="#a8e08f"/>
<rect x="775.50" y="361.20" width="29.90" height="1.84" fill="#a8e08f"/>
<rect x="775.50" y="363.25" width="30.10" height="1.84" fill="#a8e08f"/>
<rect x="775.50" y="365.30" width="30.00" height="1.84" fill="#a8e08f"/>
<rect x="775.50" y="367.35" width="29.80" height="1.84" fill="#a8e08f"/>
<rect x="744.70" y="370.00" width="30.80" height="1.84" fill="#e5a571"/>
<rect x="749.00" y="372.05" width="26.50" height="1.84" fill="#e5a571"/>
<rect x="752.50" y="374.10" width="23.00" height="1.84" fill="#e5a571"/>
<rect x="753.30" y="376.15" width="22.20" height="1.84" fill="#e5a571"/>
<rect x="775.50" y="379.00" width="15.50" height="1.73" fill="#e5a571"/>
<rect x="775.50" y="380.93" width="18.00" height="1.73" fill="#e5a571"/>
<rect x="775.50" y="382.85" width="15.00" height="1.73" fill="#e5a571"/>
<rect x="775.50" y="384.77" width="14.00" height="1.73" fill="#e5a571"/>
<rect x="740.00" y="389.50" width="75.00" height="0.4" fill="#ddd"/>
<text x="822.50" y="330.00" font-size="7.7" fill="#333" font-weight="700" stroke="#333" stroke-width="0.23" text-anchor="start" >GO_CC</text>
<text x="822.50" y="349.90" font-size="7.7" fill="#333" font-weight="700" stroke="#333" stroke-width="0.23" text-anchor="start" >GO_BP</text>
<text x="822.50" y="369.70" font-size="7.7" fill="#333" font-weight="700" stroke="#333" stroke-width="0.23" text-anchor="start" >GO_MF</text>
<text x="823.80" y="386.40" font-size="7.7" fill="#333" font-weight="700" stroke="#333" stroke-width="0.23" text-anchor="start" >KEGG</text>
<rect x="874.30" y="221.60" width="149.20" height="178.80" fill="#ecd0d2" stroke="#d9b4b6" stroke-width="0.8"/>
<rect x="874.30" y="221.60" width="149.20" height="13.70" fill="#c98a85"/>
<text x="948.90" y="232.90" font-size="10.4" fill="#1c1c1c" stroke="#1c1c1c" stroke-width="0.26" text-anchor="middle" >IMMUNE INFILTRATION</text>
<text x="949.20" y="243.50" font-size="7.2" fill="#333" font-style="italic" stroke="#333" stroke-width="0.29" text-anchor="middle" >Cell Components Estimation</text>
<text x="948.90" y="252.70" font-size="8.3" fill="#222" stroke="#222" stroke-width="0.25" text-anchor="middle" >ImmuneDeconv</text>
<rect x="896.8" y="256.3" width="39.60" height="10.00" fill="#e6c7c9" stroke="#f3e3e4" stroke-width="0.7"/>
<text x="916.60" y="263.90" font-size="7.4" fill="#2a2a2a" stroke="#2a2a2a" stroke-width="0.22" text-anchor="middle" >TIMER</text>
<rect x="944.7" y="256.3" width="58.80" height="10.00" fill="#e6c7c9" stroke="#f3e3e4" stroke-width="0.7"/>
<text x="974.10" y="263.90" font-size="7.4" fill="#2a2a2a" stroke="#2a2a2a" stroke-width="0.22" text-anchor="middle" >CIBERSORT</text>
<rect x="896.8" y="269.7" width="39.60" height="10.30" fill="#e6c7c9" stroke="#f3e3e4" stroke-width="0.7"/>
<text x="916.60" y="277.45" font-size="7.4" fill="#2a2a2a" stroke="#2a2a2a" stroke-width="0.22" text-anchor="middle" >xCell</text>
<rect x="944.7" y="269.7" width="58.80" height="10.30" fill="#e6c7c9" stroke="#f3e3e4" stroke-width="0.7"/>
<text x="974.10" y="277.45" font-size="7.4" fill="#2a2a2a" stroke="#2a2a2a" stroke-width="0.22" text-anchor="middle" >quanTIseq</text>
<rect x="896.8" y="283" width="39.60" height="9.70" fill="#e6c7c9" stroke="#f3e3e4" stroke-width="0.7"/>
<text x="916.60" y="290.45" font-size="7.4" fill="#2a2a2a" stroke="#2a2a2a" stroke-width="0.22" text-anchor="middle" >EPIC</text>
<rect x="944.7" y="283" width="58.80" height="9.70" fill="#e6c7c9" stroke="#f3e3e4" stroke-width="0.7"/>
<text x="974.10" y="290.45" font-size="7.4" fill="#2a2a2a" stroke="#2a2a2a" stroke-width="0.22" text-anchor="middle" >MCPcounter</text>
<rect x="876.10" y="299.60" width="146.00" height="89.40" fill="#fff"/>
<rect x="879.20" y="305.90" width="3.90" height="3.56" fill="#101d72"/>
<rect x="883.05" y="305.90" width="3.90" height="3.56" fill="#101d72"/>
<rect x="886.91" y="305.90" width="3.90" height="3.56" fill="#101d72"/>
<rect x="890.76" y="305.90" width="3.90" height="3.56" fill="#101d72"/>
<rect x="894.62" y="305.90" width="3.90" height="3.56" fill="#3a1440"/>
<rect x="898.47" y="305.90" width="3.90" height="3.56" fill="#101d72"/>
<rect x="902.33" y="305.90" width="3.90" height="3.56" fill="#101d72"/>
<rect x="906.18" y="305.90" width="3.90" height="3.56" fill="#7a1a28"/>
<rect x="910.03" y="305.90" width="3.90" height="3.56" fill="#7a1a28"/>
<rect x="913.89" y="305.90" width="3.90" height="3.56" fill="#7a1a28"/>
<rect x="917.74" y="305.90" width="3.90" height="3.56" fill="#3a1440"/>
<rect x="921.60" y="305.90" width="3.90" height="3.56" fill="#5e1424"/>
<rect x="925.45" y="305.90" width="3.90" height="3.56" fill="#101d72"/>
<rect x="929.30" y="305.90" width="3.90" height="3.56" fill="#5e1424"/>
<rect x="933.16" y="305.90" width="3.90" height="3.56" fill="#5e1424"/>
<rect x="937.01" y="305.90" width="3.90" height="3.56" fill="#101d72"/>
<rect x="940.87" y="305.90" width="3.90" height="3.56" fill="#101d72"/>
<rect x="944.72" y="305.90" width="3.90" height="3.56" fill="#101d72"/>
<rect x="948.58" y="305.90" width="3.90" height="3.56" fill="#101d72"/>
<rect x="952.43" y="305.90" width="3.90" height="3.56" fill="#5e1424"/>
<rect x="956.28" y="305.90" width="3.90" height="3.56" fill="#5e1424"/>
<rect x="960.14" y="305.90" width="3.90" height="3.56" fill="#3a1440"/>
<rect x="963.99" y="305.90" width="3.90" height="3.56" fill="#7a1a28"/>
<rect x="967.85" y="305.90" width="3.90" height="3.56" fill="#3a1440"/>
<rect x="883.05" y="309.40" width="3.90" height="3.56" fill="#c6453a"/>
<rect x="886.91" y="309.40" width="3.90" height="3.56" fill="#d4746c"/>
<rect x="890.76" y="309.40" width="3.90" height="3.56" fill="#cc5950"/>
<rect x="894.62" y="309.40" width="3.90" height="3.56" fill="#c13428"/>
<rect x="898.47" y="309.40" width="3.90" height="3.56" fill="#d4726a"/>
<rect x="902.33" y="309.40" width="3.90" height="3.56" fill="#d4736b"/>
<rect x="906.18" y="309.40" width="3.90" height="3.56" fill="#cc574d"/>
<rect x="910.03" y="309.40" width="3.90" height="3.56" fill="#c95046"/>
<rect x="917.74" y="309.40" width="3.90" height="3.56" fill="#d36f66"/>
<rect x="921.60" y="309.40" width="3.90" height="3.56" fill="#d0675e"/>
<rect x="925.45" y="309.40" width="3.90" height="3.56" fill="#d26c64"/>
<rect x="929.30" y="309.40" width="3.90" height="3.56" fill="#d16961"/>
<rect x="933.16" y="309.40" width="3.90" height="3.56" fill="#cf6259"/>
<rect x="937.01" y="309.40" width="3.90" height="3.56" fill="#cf635a"/>
<rect x="940.87" y="309.40" width="3.90" height="3.56" fill="#d26b63"/>
<rect x="944.72" y="309.40" width="3.90" height="3.56" fill="#d5776f"/>
<rect x="948.58" y="309.40" width="3.90" height="3.56" fill="#d5776f"/>
<rect x="952.43" y="309.40" width="3.90" height="3.56" fill="#c95046"/>
<rect x="956.28" y="309.40" width="3.90" height="3.56" fill="#cb564c"/>
<rect x="963.99" y="309.40" width="3.90" height="3.56" fill="#c33d31"/>
<rect x="967.85" y="309.40" width="3.90" height="3.56" fill="#c33b30"/>
<rect x="879.20" y="312.91" width="3.90" height="3.56" fill="#c6463b"/>
<rect x="886.91" y="312.91" width="3.90" height="3.56" fill="#c33c30"/>
<rect x="890.76" y="312.91" width="3.90" height="3.56" fill="#cd5b51"/>
<rect x="894.62" y="312.91" width="3.90" height="3.56" fill="#d4746c"/>
<rect x="898.47" y="312.91" width="3.90" height="3.56" fill="#d4736b"/>
<rect x="902.33" y="312.91" width="3.90" height="3.56" fill="#d0655d"/>
<rect x="906.18" y="312.91" width="3.90" height="3.56" fill="#d4726a"/>
<rect x="910.03" y="312.91" width="3.90" height="3.56" fill="#c2392d"/>
<rect x="913.89" y="312.91" width="3.90" height="3.56" fill="#d0665e"/>
<rect x="917.74" y="312.91" width="3.90" height="3.56" fill="#cb574d"/>
<rect x="921.60" y="312.91" width="3.90" height="3.56" fill="#cc584e"/>
<rect x="925.45" y="312.91" width="3.90" height="3.56" fill="#c03226"/>
<rect x="929.30" y="312.91" width="3.90" height="3.56" fill="#d0665d"/>
<rect x="937.01" y="312.91" width="3.90" height="3.56" fill="#ce5e55"/>
<rect x="940.87" y="312.91" width="3.90" height="3.56" fill="#cd5c53"/>
<rect x="944.72" y="312.91" width="3.90" height="3.56" fill="#ca544a"/>
<rect x="948.58" y="312.91" width="3.90" height="3.56" fill="#ca5349"/>
<rect x="952.43" y="312.91" width="3.90" height="3.56" fill="#d0655c"/>
<rect x="956.28" y="312.91" width="3.90" height="3.56" fill="#cd5b52"/>
<rect x="960.14" y="312.91" width="3.90" height="3.56" fill="#d5766e"/>
<rect x="963.99" y="312.91" width="3.90" height="3.56" fill="#d0675e"/>
<rect x="967.85" y="312.91" width="3.90" height="3.56" fill="#ca5248"/>
<rect x="894.62" y="316.41" width="3.90" height="3.56" fill="#e8b4b0"/>
<rect x="902.33" y="316.41" width="3.90" height="3.56" fill="#d36e66"/>
<rect x="910.03" y="316.41" width="3.90" height="3.56" fill="#cd5a51"/>
<rect x="929.30" y="316.41" width="3.90" height="3.56" fill="#dd918b"/>
<rect x="933.16" y="316.41" width="3.90" height="3.56" fill="#cd5a51"/>
<rect x="944.72" y="316.41" width="3.90" height="3.56" fill="#c95046"/>
<rect x="956.28" y="316.41" width="3.90" height="3.56" fill="#f8e9e7"/>
<rect x="960.14" y="316.41" width="3.90" height="3.56" fill="#e6aeaa"/>
<rect x="963.99" y="316.41" width="3.90" height="3.56" fill="#cc5a51"/>
<rect x="967.85" y="316.41" width="3.90" height="3.56" fill="#d87f78"/>
<rect x="886.91" y="319.92" width="3.90" height="3.56" fill="#f9eeed"/>
<rect x="898.47" y="319.92" width="3.90" height="3.56" fill="#df9690"/>
<rect x="906.18" y="319.92" width="3.90" height="3.56" fill="#d4746c"/>
<rect x="910.03" y="319.92" width="3.90" height="3.56" fill="#f6e3e1"/>
<rect x="913.89" y="319.92" width="3.90" height="3.56" fill="#d5756d"/>
<rect x="917.74" y="319.92" width="3.90" height="3.56" fill="#d4746b"/>
<rect x="925.45" y="319.92" width="3.90" height="3.56" fill="#e6afab"/>
<rect x="929.30" y="319.92" width="3.90" height="3.56" fill="#d77d75"/>
<rect x="944.72" y="319.92" width="3.90" height="3.56" fill="#f2d7d4"/>
<rect x="948.58" y="319.92" width="3.90" height="3.56" fill="#d4736b"/>
<rect x="952.43" y="319.92" width="3.90" height="3.56" fill="#dd908a"/>
<rect x="956.28" y="319.92" width="3.90" height="3.56" fill="#f7e5e4"/>
<rect x="960.14" y="319.92" width="3.90" height="3.56" fill="#d87f77"/>
<rect x="879.20" y="323.42" width="3.90" height="3.56" fill="#e19f99"/>
<rect x="883.05" y="323.42" width="3.90" height="3.56" fill="#e4a7a2"/>
<rect x="886.91" y="323.42" width="3.90" height="3.56" fill="#cf645b"/>
<rect x="890.76" y="323.42" width="3.90" height="3.56" fill="#cb564d"/>
<rect x="898.47" y="323.42" width="3.90" height="3.56" fill="#e4a8a3"/>
<rect x="910.03" y="323.42" width="3.90" height="3.56" fill="#edc6c3"/>
<rect x="913.89" y="323.42" width="3.90" height="3.56" fill="#cd5c52"/>
<rect x="917.74" y="323.42" width="3.90" height="3.56" fill="#de958f"/>
<rect x="921.60" y="323.42" width="3.90" height="3.56" fill="#e19e98"/>
<rect x="929.30" y="323.42" width="3.90" height="3.56" fill="#d36f67"/>
<rect x="944.72" y="323.42" width="3.90" height="3.56" fill="#cf635a"/>
<rect x="948.58" y="323.42" width="3.90" height="3.56" fill="#f9eceb"/>
<rect x="952.43" y="323.42" width="3.90" height="3.56" fill="#e3a39e"/>
<rect x="956.28" y="323.42" width="3.90" height="3.56" fill="#ecc1bd"/>
<rect x="960.14" y="323.42" width="3.90" height="3.56" fill="#eabab6"/>
<rect x="963.99" y="323.42" width="3.90" height="3.56" fill="#d26c64"/>
<rect x="967.85" y="323.42" width="3.90" height="3.56" fill="#d67a72"/>
<rect x="883.05" y="326.93" width="3.90" height="3.56" fill="#d16960"/>
<rect x="894.62" y="326.93" width="3.90" height="3.56" fill="#eabab6"/>
<rect x="898.47" y="326.93" width="3.90" height="3.56" fill="#ce5e55"/>
<rect x="906.18" y="326.93" width="3.90" height="3.56" fill="#e7b2ae"/>
<rect x="910.03" y="326.93" width="3.90" height="3.56" fill="#f8eae9"/>
<rect x="913.89" y="326.93" width="3.90" height="3.56" fill="#d5766e"/>
<rect x="917.74" y="326.93" width="3.90" height="3.56" fill="#d1675f"/>
<rect x="921.60" y="326.93" width="3.90" height="3.56" fill="#eecac7"/>
<rect x="929.30" y="326.93" width="3.90" height="3.56" fill="#eabab6"/>
<rect x="963.99" y="326.93" width="3.90" height="3.56" fill="#da857e"/>
<rect x="886.91" y="330.44" width="3.90" height="3.56" fill="#f9ebea"/>
<rect x="894.62" y="330.44" width="3.90" height="3.56" fill="#e7b1ad"/>
<rect x="898.47" y="330.44" width="3.90" height="3.56" fill="#eec9c6"/>
<rect x="910.03" y="330.44" width="3.90" height="3.56" fill="#df9892"/>
<rect x="913.89" y="330.44" width="3.90" height="3.56" fill="#e3a6a0"/>
<rect x="917.74" y="330.44" width="3.90" height="3.56" fill="#f4dbd9"/>
<rect x="921.60" y="330.44" width="3.90" height="3.56" fill="#f2d5d3"/>
<rect x="933.16" y="330.44" width="3.90" height="3.56" fill="#d5766e"/>
<rect x="944.72" y="330.44" width="3.90" height="3.56" fill="#f3d8d5"/>
<rect x="948.58" y="330.44" width="3.90" height="3.56" fill="#ecc3c0"/>
<rect x="952.43" y="330.44" width="3.90" height="3.56" fill="#f1d1ce"/>
<rect x="956.28" y="330.44" width="3.90" height="3.56" fill="#e3a49f"/>
<rect x="967.85" y="330.44" width="3.90" height="3.56" fill="#e9b9b5"/>
<rect x="883.05" y="333.94" width="3.90" height="3.56" fill="#eec8c5"/>
<rect x="886.91" y="333.94" width="3.90" height="3.56" fill="#f0d0cd"/>
<rect x="894.62" y="333.94" width="3.90" height="3.56" fill="#e7b3ae"/>
<rect x="906.18" y="333.94" width="3.90" height="3.56" fill="#f0d0ce"/>
<rect x="910.03" y="333.94" width="3.90" height="3.56" fill="#ebc0bc"/>
<rect x="929.30" y="333.94" width="3.90" height="3.56" fill="#f9eeed"/>
<rect x="948.58" y="333.94" width="3.90" height="3.56" fill="#ecc1be"/>
<rect x="967.85" y="333.94" width="3.90" height="3.56" fill="#f7e5e3"/>
<rect x="879.20" y="337.44" width="3.90" height="3.56" fill="#e9b7b2"/>
<rect x="910.03" y="337.44" width="3.90" height="3.56" fill="#df9892"/>
<rect x="913.89" y="337.44" width="3.90" height="3.56" fill="#da8881"/>
<rect x="921.60" y="337.44" width="3.90" height="3.56" fill="#f7e5e3"/>
<rect x="925.45" y="337.44" width="3.90" height="3.56" fill="#e5a9a4"/>
<rect x="933.16" y="337.44" width="3.90" height="3.56" fill="#f9ecea"/>
<rect x="948.58" y="337.44" width="3.90" height="3.56" fill="#e6ada9"/>
<rect x="952.43" y="337.44" width="3.90" height="3.56" fill="#f0d0ce"/>
<rect x="883.05" y="340.95" width="3.90" height="3.56" fill="#f3dad8"/>
<rect x="898.47" y="340.95" width="3.90" height="3.56" fill="#ebbfbc"/>
<rect x="910.03" y="340.95" width="3.90" height="3.56" fill="#e6ada9"/>
<rect x="917.74" y="340.95" width="3.90" height="3.56" fill="#f9eeed"/>
<rect x="933.16" y="340.95" width="3.90" height="3.56" fill="#e29f9a"/>
<rect x="944.72" y="340.95" width="3.90" height="3.56" fill="#dc8d86"/>
<rect x="956.28" y="340.95" width="3.90" height="3.56" fill="#f4dddb"/>
<rect x="883.05" y="344.45" width="3.90" height="3.56" fill="#f5e0de"/>
<rect x="898.47" y="344.45" width="3.90" height="3.56" fill="#f0cfcd"/>
<rect x="902.33" y="344.45" width="3.90" height="3.56" fill="#df9791"/>
<rect x="906.18" y="344.45" width="3.90" height="3.56" fill="#f9eeed"/>
<rect x="910.03" y="344.45" width="3.90" height="3.56" fill="#f0cfcd"/>
<rect x="937.01" y="344.45" width="3.90" height="3.56" fill="#e09b95"/>
<rect x="944.72" y="344.45" width="3.90" height="3.56" fill="#e8b5b1"/>
<rect x="960.14" y="344.45" width="3.90" height="3.56" fill="#f9eeed"/>
<rect x="883.05" y="347.96" width="3.90" height="3.56" fill="#e3a39d"/>
<rect x="906.18" y="347.96" width="3.90" height="3.56" fill="#f0cdca"/>
<rect x="929.30" y="347.96" width="3.90" height="3.56" fill="#f1d3d0"/>
<rect x="940.87" y="347.96" width="3.90" height="3.56" fill="#f9eeed"/>
<rect x="944.72" y="347.96" width="3.90" height="3.56" fill="#e4a6a1"/>
<rect x="898.47" y="351.46" width="3.90" height="3.56" fill="#ebbdb9"/>
<rect x="913.89" y="351.46" width="3.90" height="3.56" fill="#f7e5e4"/>
<rect x="894.62" y="354.97" width="3.90" height="3.56" fill="#f9ebea"/>
<rect x="906.18" y="354.97" width="3.90" height="3.56" fill="#f9eeed"/>
<rect x="933.16" y="354.97" width="3.90" height="3.56" fill="#f9eeed"/>
<rect x="886.91" y="361.98" width="3.90" height="3.56" fill="#f9eceb"/>
<rect x="883.05" y="365.49" width="3.90" height="3.56" fill="#f9eeed"/>
<rect x="902.33" y="368.99" width="3.90" height="3.56" fill="#f6e4e2"/>
<rect x="929.30" y="368.99" width="3.90" height="3.56" fill="#f9edec"/>
<text x="975.30" y="309.80" font-size="3.3" fill="#666" stroke="#666" stroke-width="0.10" text-anchor="start" >Macrophages M0</text>
<text x="975.30" y="316.25" font-size="3.3" fill="#666" stroke="#666" stroke-width="0.10" text-anchor="start" >T cells CD4 memory a</text>
<text x="975.30" y="322.70" font-size="3.3" fill="#666" stroke="#666" stroke-width="0.10" text-anchor="start" >T cells CD8</text>
<text x="975.30" y="329.15" font-size="3.3" fill="#666" stroke="#666" stroke-width="0.10" text-anchor="start" >NK cells activated</text>
<text x="975.30" y="335.60" font-size="3.3" fill="#666" stroke="#666" stroke-width="0.10" text-anchor="start" >Macrophages M2</text>
<text x="975.30" y="342.05" font-size="3.3" fill="#666" stroke="#666" stroke-width="0.10" text-anchor="start" >Neutrophils</text>
<text x="975.30" y="348.50" font-size="3.3" fill="#666" stroke="#666" stroke-width="0.10" text-anchor="start" >T cells regulatory</text>
<text x="975.30" y="354.95" font-size="3.3" fill="#666" stroke="#666" stroke-width="0.10" text-anchor="start" >B cells naive</text>
<text x="975.30" y="361.40" font-size="3.3" fill="#666" stroke="#666" stroke-width="0.10" text-anchor="start" >T cells CD4 naive</text>
<text x="975.30" y="367.85" font-size="3.3" fill="#666" stroke="#666" stroke-width="0.10" text-anchor="start" >Dendritic cells rest</text>
<text x="975.30" y="374.30" font-size="3.3" fill="#666" stroke="#666" stroke-width="0.10" text-anchor="start" >T cells CD4 memory r</text>
<text x="1011.50" y="304.00" font-size="3" fill="#888" stroke="#888" stroke-width="0.09" text-anchor="start" >0.1</text>
<text x="1011.50" y="317.00" font-size="3" fill="#888" stroke="#888" stroke-width="0.09" text-anchor="start" >0</text>
<text x="1011.50" y="330.00" font-size="3" fill="#888" stroke="#888" stroke-width="0.09" text-anchor="start" >0.4</text>
<text x="1011.50" y="343.00" font-size="3" fill="#888" stroke="#888" stroke-width="0.09" text-anchor="start" >0.6</text>
<text x="1011.50" y="356.00" font-size="3" fill="#888" stroke="#888" stroke-width="0.09" text-anchor="start" >0.2</text>
<text x="1011.50" y="369.00" font-size="3" fill="#888" stroke="#888" stroke-width="0.09" text-anchor="start" >0</text>
<defs><linearGradient id="cbar2" x1="0" y1="0" x2="0" y2="1"><stop offset="0" stop-color="#0b1a78"/><stop offset="0.4" stop-color="#0e1860"/><stop offset="0.55" stop-color="#4a1030"/><stop offset="0.75" stop-color="#b0302c"/><stop offset="1" stop-color="#f39070"/></linearGradient></defs>
<rect x="1005.80" y="302.00" width="3.30" height="66.40" fill="url(#cbar2)" />
<circle cx="880.0" cy="382" r="0.6" fill="#999"/>
<circle cx="885.2" cy="382" r="0.6" fill="#999"/>
<circle cx="890.4" cy="382" r="0.6" fill="#999"/>
<circle cx="895.6" cy="382" r="0.6" fill="#999"/>
<circle cx="900.8" cy="382" r="0.6" fill="#999"/>
<circle cx="906.0" cy="382" r="0.6" fill="#999"/>
<circle cx="911.2" cy="382" r="0.6" fill="#999"/>
<circle cx="916.4" cy="382" r="0.6" fill="#999"/>
<circle cx="921.6" cy="382" r="0.6" fill="#999"/>
<circle cx="926.8" cy="382" r="0.6" fill="#999"/>
<circle cx="932.0" cy="382" r="0.6" fill="#999"/>
<circle cx="937.2" cy="382" r="0.6" fill="#999"/>
<circle cx="942.4" cy="382" r="0.6" fill="#999"/>
<circle cx="947.6" cy="382" r="0.6" fill="#999"/>
<circle cx="952.8" cy="382" r="0.6" fill="#999"/>
<circle cx="958.0" cy="382" r="0.6" fill="#999"/>
<circle cx="963.2" cy="382" r="0.6" fill="#999"/>
<circle cx="968.4" cy="382" r="0.6" fill="#999"/>
<rect x="1047.00" y="222.20" width="155.20" height="112.80" fill="#d8e1f0" stroke="#c5cfe2" stroke-width="0.8"/>
<rect x="1047.00" y="222.20" width="155.20" height="13.30" fill="#87a5e0"/>
<text x="1124.60" y="233.10" font-size="10.5" fill="#1a2142" stroke="#1a2142" stroke-width="0.26" text-anchor="middle" >MUTATION</text>
<text x="1079.00" y="246.70" font-size="7.2" fill="#333" font-style="italic" stroke="#333" stroke-width="0.29" text-anchor="middle" >Gene Fusion</text>
<text x="1078.40" y="256.30" font-size="8.3" fill="#222" stroke="#222" stroke-width="0.25" text-anchor="middle" >STAR-Fusion</text>
<text x="1161.80" y="248.00" font-size="7.2" fill="#333" font-style="italic" stroke="#333" stroke-width="0.29" text-anchor="middle" >Somatic Mutation</text>
<text x="1161.40" y="258.00" font-size="8.4" fill="#222" stroke="#222" stroke-width="0.25" text-anchor="middle" >Varscan2 &amp; VEP</text>
<rect x="1048.80" y="264.70" width="62.50" height="61.60" fill="#fff"/>
<rect x="1108.5" y="296.5" width="1" height="0.8" fill="#b5b5b5"/>
<rect x="1107.8" y="301.6" width="1" height="0.8" fill="#b5b5b5"/>
<rect x="1106.2" y="306.4" width="1" height="0.8" fill="#b5b5b5"/>
<rect x="1103.9" y="310.8" width="1" height="0.8" fill="#b5b5b5"/>
<rect x="1100.8" y="314.8" width="1" height="0.8" fill="#b5b5b5"/>
<rect x="1097.0" y="318.2" width="1" height="0.8" fill="#b5b5b5"/>
<rect x="1092.7" y="320.9" width="1" height="0.8" fill="#b5b5b5"/>
<rect x="1088.0" y="322.8" width="1" height="0.8" fill="#b5b5b5"/>
<rect x="1083.1" y="323.9" width="1" height="0.8" fill="#b5b5b5"/>
<rect x="1078.1" y="324.1" width="1" height="0.8" fill="#b5b5b5"/>
<rect x="1073.0" y="323.4" width="1" height="0.8" fill="#b5b5b5"/>
<rect x="1068.2" y="321.8" width="1" height="0.8" fill="#b5b5b5"/>
<rect x="1063.8" y="319.5" width="1" height="0.8" fill="#b5b5b5"/>
<rect x="1059.8" y="316.4" width="1" height="0.8" fill="#b5b5b5"/>
<rect x="1056.4" y="312.6" width="1" height="0.8" fill="#b5b5b5"/>
<rect x="1053.7" y="308.3" width="1" height="0.8" fill="#b5b5b5"/>
<rect x="1051.8" y="303.6" width="1" height="0.8" fill="#b5b5b5"/>
<rect x="1050.7" y="298.7" width="1" height="0.8" fill="#b5b5b5"/>
<rect x="1050.5" y="293.7" width="1" height="0.8" fill="#b5b5b5"/>
<rect x="1051.2" y="288.6" width="1" height="0.8" fill="#b5b5b5"/>
<rect x="1052.8" y="283.8" width="1" height="0.8" fill="#b5b5b5"/>
<rect x="1055.1" y="279.4" width="1" height="0.8" fill="#b5b5b5"/>
<rect x="1058.2" y="275.4" width="1" height="0.8" fill="#b5b5b5"/>
<rect x="1062.0" y="272.0" width="1" height="0.8" fill="#b5b5b5"/>
<rect x="1066.3" y="269.3" width="1" height="0.8" fill="#b5b5b5"/>
<rect x="1071.0" y="267.4" width="1" height="0.8" fill="#b5b5b5"/>
<rect x="1075.9" y="266.3" width="1" height="0.8" fill="#b5b5b5"/>
<rect x="1080.9" y="266.1" width="1" height="0.8" fill="#b5b5b5"/>
<rect x="1086.0" y="266.8" width="1" height="0.8" fill="#b5b5b5"/>
<rect x="1090.8" y="268.4" width="1" height="0.8" fill="#b5b5b5"/>
<rect x="1095.2" y="270.7" width="1" height="0.8" fill="#b5b5b5"/>
<rect x="1099.2" y="273.8" width="1" height="0.8" fill="#b5b5b5"/>
<rect x="1102.6" y="277.6" width="1" height="0.8" fill="#b5b5b5"/>
<rect x="1105.3" y="281.9" width="1" height="0.8" fill="#b5b5b5"/>
<rect x="1107.2" y="286.6" width="1" height="0.8" fill="#b5b5b5"/>
<rect x="1108.3" y="291.5" width="1" height="0.8" fill="#b5b5b5"/>
<line x1="1056.6" y1="292.9" x2="1067.9" y2="291.9" stroke="#d0d0d0" stroke-width="1.2"/>
<line x1="1088.3" y1="317.5" x2="1084.6" y2="310.1" stroke="#d0d0d0" stroke-width="0.9"/>
<line x1="1057.4" y1="302.0" x2="1064.6" y2="301.0" stroke="#e6c8c8" stroke-width="0.7"/>
<line x1="1062.0" y1="310.6" x2="1071.0" y2="304.8" stroke="#bdbdbd" stroke-width="1.1"/>
<line x1="1056.6" y1="297.0" x2="1069.1" y2="296.4" stroke="#bdbdbd" stroke-width="0.7"/>
<line x1="1056.8" y1="299.4" x2="1070.4" y2="297.7" stroke="#c4c4c4" stroke-width="1.2"/>
<line x1="1056.5" y1="294.9" x2="1065.8" y2="297.5" stroke="#d0d0d0" stroke-width="1.2"/>
<line x1="1084.1" y1="272.4" x2="1083.5" y2="283.1" stroke="#d0d0d0" stroke-width="1.1"/>
<line x1="1085.0" y1="272.5" x2="1083.7" y2="286.7" stroke="#d0d0d0" stroke-width="1.2"/>
<line x1="1088.1" y1="317.5" x2="1087.2" y2="311.9" stroke="#d8d8e0" stroke-width="1.2"/>
<line x1="1070.8" y1="273.9" x2="1072.0" y2="282.3" stroke="#c4c4c4" stroke-width="1.2"/>
<line x1="1092.7" y1="315.2" x2="1086.5" y2="308.9" stroke="#e6c8c8" stroke-width="0.7"/>
<line x1="1102.9" y1="290.3" x2="1092.2" y2="292.7" stroke="#bdbdbd" stroke-width="0.8"/>
<line x1="1102.9" y1="300.9" x2="1090.0" y2="297.0" stroke="#c4c4c4" stroke-width="0.8"/>
<line x1="1063.2" y1="311.9" x2="1070.8" y2="306.1" stroke="#e6c8c8" stroke-width="1.1"/>
<line x1="1065.0" y1="313.6" x2="1069.7" y2="307.0" stroke="#bdbdbd" stroke-width="1.3"/>
<line x1="1079.7" y1="319.0" x2="1078.6" y2="308.8" stroke="#d8d8e0" stroke-width="0.8"/>
<line x1="1064.0" y1="312.7" x2="1072.3" y2="303.1" stroke="#e6c8c8" stroke-width="0.7"/>
<line x1="1079.1" y1="272.0" x2="1078.7" y2="286.1" stroke="#bdbdbd" stroke-width="1.4"/>
<line x1="1059.8" y1="283.4" x2="1068.5" y2="287.0" stroke="#e6c8c8" stroke-width="0.7"/>
<line x1="1074.0" y1="318.2" x2="1076.4" y2="308.3" stroke="#d8d8e0" stroke-width="0.6"/>
<line x1="1083.3" y1="318.8" x2="1084.5" y2="309.6" stroke="#d0d0d0" stroke-width="0.8"/>
<line x1="1056.7" y1="292.1" x2="1066.9" y2="293.1" stroke="#d8d8e0" stroke-width="0.7"/>
<line x1="1063.3" y1="279.0" x2="1069.3" y2="285.5" stroke="#c4c4c4" stroke-width="1.1"/>
<line x1="1057.6" y1="302.6" x2="1070.6" y2="297.4" stroke="#c4c4c4" stroke-width="0.9"/>
<line x1="1077.9" y1="318.9" x2="1077.8" y2="304.5" stroke="#bdbdbd" stroke-width="1.0"/>
<line x1="1061.2" y1="281.5" x2="1068.7" y2="286.1" stroke="#d8d8e0" stroke-width="0.5"/>
<line x1="1057.0" y1="290.9" x2="1067.8" y2="291.2" stroke="#c4c4c4" stroke-width="0.6"/>
<line x1="1062.1" y1="280.2" x2="1068.0" y2="287.6" stroke="#c4c4c4" stroke-width="1.0"/>
<line x1="1056.5" y1="294.5" x2="1065.9" y2="296.0" stroke="#bdbdbd" stroke-width="0.8"/>
<line x1="1102.4" y1="302.5" x2="1094.9" y2="297.2" stroke="#d8d8e0" stroke-width="1.3"/>
<line x1="1079.3" y1="272.0" x2="1078.0" y2="283.0" stroke="#d8d8e0" stroke-width="0.7"/>
<line x1="1065.5" y1="277.0" x2="1074.5" y2="288.3" stroke="#e6c8c8" stroke-width="1.0"/>
<line x1="1058.4" y1="304.7" x2="1065.0" y2="302.6" stroke="#bdbdbd" stroke-width="1.3"/>
<line x1="1098.5" y1="281.0" x2="1086.3" y2="288.8" stroke="#bdbdbd" stroke-width="0.7"/>
<line x1="1079.1" y1="272.0" x2="1077.3" y2="279.0" stroke="#e6c8c8" stroke-width="1.0"/>
<line x1="1062.9" y1="311.6" x2="1068.6" y2="304.7" stroke="#bdbdbd" stroke-width="1.1"/>
<line x1="1094.7" y1="277.2" x2="1088.1" y2="285.2" stroke="#c4c4c4" stroke-width="0.7"/>
<line x1="1063.1" y1="279.1" x2="1072.2" y2="290.2" stroke="#c4c4c4" stroke-width="0.6"/>
<line x1="1101.2" y1="285.4" x2="1091.0" y2="288.5" stroke="#c4c4c4" stroke-width="0.6"/>
<path d="M1066.4,278.2 Q1080,295.5 1101.7,291.7" fill="none" stroke="#e2d6e0" stroke-width="0.5"/>
<path d="M1100.0,304.6 Q1080,295.5 1062.4,308.7" fill="none" stroke="#e2d6e0" stroke-width="0.5"/>
<path d="M1093.6,278.2 Q1080,295.5 1066.3,312.7" fill="none" stroke="#e2d6e0" stroke-width="0.5"/>
<path d="M1086.9,316.4 Q1080,295.5 1079.4,273.5" fill="none" stroke="#e2d6e0" stroke-width="0.5"/>
<path d="M1058.5,290.9 Q1080,295.5 1101.9,297.0" fill="none" stroke="#e2d6e0" stroke-width="0.5"/>
<path d="M1096.0,280.4 Q1080,295.5 1064.1,310.7" fill="none" stroke="#e2d6e0" stroke-width="0.5"/>
<path d="M1074.7,274.1 Q1080,295.5 1095.9,310.7" fill="none" stroke="#e2d6e0" stroke-width="0.5"/>
<path d="M1080.5,317.5 Q1080,295.5 1063.4,281.1" fill="none" stroke="#e2d6e0" stroke-width="0.5"/>
<path d="M1059,299.5 Q1080,289.5 1101,292.5" fill="none" stroke="#b8bde0" stroke-width="0.6"/>
<path d="M1060,302.5 Q1080,293.5 1100,297.5" fill="none" stroke="#cfc8e6" stroke-width="0.5"/>
<path d="M1084,290.5 L1093.5,279.5 L1095.5,281.0 L1085.5,291.5 Z" fill="#c87464"/>
<circle cx="1095" cy="279.5" r="3" fill="#a8a8a8" opacity="0.7"/>
<path d="M1077,302.5 L1070,312.5 L1074,314.5 L1079,304.5 Z" fill="#bd5656"/>
<path d="M1067,307.5 L1071,314.5 L1068,315.5 Z" fill="#8fb89a" opacity="0.7"/>
<circle cx="1080" cy="295.5" r="25.3" fill="none" stroke="#a4a4a4" stroke-width="1.7"/>
<circle cx="1080" cy="295.5" r="25.3" fill="none" stroke="#5e5e5e" stroke-width="1.6" stroke-dasharray="2.2 1.4 1 1.6"/>
<rect x="1113.00" y="263.00" width="88.00" height="62.50" fill="#fff"/>
<text x="1138.00" y="266.50" font-size="2" fill="#000" stroke="#000" stroke-width="0.06" text-anchor="start" ></text>
<rect x="1127.00" y="265.20" width="23.00" height="0.6" fill="#bbb"/>
<rect x="1156.00" y="265.20" width="16.00" height="0.6" fill="#bbb"/>
<rect x="1183.00" y="265.20" width="10.00" height="0.6" fill="#bbb"/>
<rect x="1128.80" y="268.00" width="19.50" height="10.30" fill="#b8cbe2" />
<rect x="1128.80" y="281.00" width="5.90" height="10.30" fill="#3f6aa8" />
<rect x="1116.83" y="272.00" width="10.17" height="0.5" fill="#bbb"/>
<rect x="1116.10" y="286.00" width="10.90" height="0.5" fill="#bbb"/>
<line x1="1127.5" y1="267" x2="1127.5" y2="292" stroke="#bbb" stroke-width="0.4"/>
<line x1="1127.5" y1="292" x2="1150" y2="292" stroke="#bbb" stroke-width="0.4"/>
<rect x="1156.30" y="268.30" width="17.50" height="23.00" fill="#a9cbb9" />
<line x1="1155.5" y1="292" x2="1175" y2="292" stroke="#bbb" stroke-width="0.4"/>
<line x1="1181.5" y1="268" x2="1181.5" y2="292" stroke="#bbb" stroke-width="0.4"/>
<rect x="1181.70" y="270.00" width="2.00" height="2.60" fill="#c03030" />
<rect x="1181.70" y="274.00" width="1.50" height="2.60" fill="#c03030" />
<rect x="1181.70" y="278.00" width="7.00" height="2.60" fill="#5f8f3f" />
<rect x="1181.70" y="281.50" width="7.50" height="2.60" fill="#6b3e22" />
<rect x="1181.70" y="285.00" width="2.00" height="2.60" fill="#3060a0" />
<rect x="1181.70" y="288.50" width="2.00" height="2.60" fill="#3060a0" />
<line x1="1116.5" y1="300" x2="1116.5" y2="321.5" stroke="#bbb" stroke-width="0.4"/>
<rect x="1117.40" y="302.30" width="3.80" height="19.00" fill="#bdd0e8" />
<rect x="1117.40" y="302.30" width="3.80" height="1.50" fill="#4e6a90" />
<rect x="1122.30" y="309.80" width="3.80" height="11.50" fill="#bdd0e8" />
<rect x="1122.30" y="309.80" width="3.80" height="2.00" fill="#4e6a90" />
<rect x="1127.20" y="309.80" width="3.80" height="11.50" fill="#bdd0e8" />
<rect x="1127.20" y="309.80" width="3.80" height="4.00" fill="#4e6a90" />
<rect x="1132.10" y="312.50" width="3.80" height="8.80" fill="#bdd0e8" />
<rect x="1132.10" y="312.50" width="3.80" height="4.50" fill="#4e6a90" />
<rect x="1137.00" y="311.20" width="3.80" height="10.10" fill="#bdd0e8" />
<rect x="1137.00" y="311.20" width="3.80" height="1.50" fill="#4e6a90" />
<rect x="1120.06" y="298.50" width="22.94" height="0.5" fill="#aaa"/>
<rect x="1119.41" y="298.50" width="23.59" height="0.5" fill="#aaa"/>
<line x1="1154" y1="300" x2="1154" y2="321.5" stroke="#bbb" stroke-width="0.4"/>
<line x1="1154" y1="321.5" x2="1176" y2="321.5" stroke="#bbb" stroke-width="0.4"/>
<rect x="1165" y="314" width="7" height="3.5" fill="none" stroke="#aaa" stroke-width="0.4"/>
<rect x="1155.72" y="298.50" width="16.28" height="0.5" fill="#aaa"/>
<rect x="1154.48" y="298.50" width="17.52" height="0.5" fill="#aaa"/>
<rect x="1177.90" y="303.00" width="10.10" height="0.45" fill="#bbb"/>
<rect x="1177.55" y="305.43" width="10.45" height="0.45" fill="#bbb"/>
<rect x="1176.71" y="307.86" width="11.29" height="0.45" fill="#bbb"/>
<rect x="1176.81" y="310.29" width="11.19" height="0.45" fill="#bbb"/>
<rect x="1176.63" y="312.71" width="11.37" height="0.45" fill="#bbb"/>
<rect x="1176.84" y="315.14" width="11.16" height="0.45" fill="#bbb"/>
<rect x="1178.23" y="317.57" width="9.77" height="0.45" fill="#bbb"/>
<rect x="1176.12" y="320.00" width="11.88" height="0.45" fill="#bbb"/>
<rect x="1183.00" y="305.00" width="5.00" height="3.00" fill="#5a74a8" />
<rect x="1183.58" y="298.50" width="14.42" height="0.5" fill="#aaa"/>
<rect x="1184.10" y="300.00" width="13.90" height="0.5" fill="#aaa"/>
<rect x="1047.00" y="340.10" width="155.00" height="156.20" fill="#d4dee1" stroke="#c0cccf" stroke-width="0.8"/>
<rect x="1047.00" y="340.10" width="155.00" height="13.10" fill="#87a3a8"/>
<text x="1124.50" y="350.80" font-size="10.3" fill="#1c1c1c" stroke="#1c1c1c" stroke-width="0.26" text-anchor="middle" >NEO-ANTIGEN</text>
<text x="1118.30" y="363.70" font-size="7.4" fill="#333" font-style="italic" stroke="#333" stroke-width="0.30" text-anchor="middle" >HLA Typing</text>
<text x="1118.20" y="372.80" font-size="8.3" fill="#222" stroke="#222" stroke-width="0.25" text-anchor="middle" >arcasHLA</text>
<rect x="1047.80" y="376.20" width="72.60" height="43.80" fill="#fff"/>
<rect x="1049.2" y="378" width="7" height="1" fill="#999"/>
<rect x="1064" y="378.1" width="4.5" height="0.9" fill="#aaa"/>
<rect x="1073.4" y="378.1" width="4.2" height="0.9" fill="#aaa"/>
<rect x="1082.5" y="378.1" width="4.0" height="0.9" fill="#aaa"/>
<rect x="1091.8" y="378.1" width="3.6" height="0.9" fill="#aaa"/>
<rect x="1101.2" y="378.1" width="4.5" height="0.9" fill="#aaa"/>
<rect x="1110.6" y="378.1" width="4.6" height="0.9" fill="#aaa"/>
<rect x="1049.2" y="382.20" width="12" height="1.3" fill="#6a6a6a"/>
<rect x="1064.02" y="382.35" width="6.02" height="1" fill="#b4b4b4"/>
<rect x="1073.46" y="382.35" width="5.97" height="1" fill="#b4b4b4"/>
<rect x="1082.53" y="382.35" width="6.07" height="1" fill="#b4b4b4"/>
<rect x="1092.23" y="382.35" width="6.33" height="1" fill="#b4b4b4"/>
<rect x="1101.54" y="382.35" width="5.79" height="1" fill="#b4b4b4"/>
<rect x="1110.86" y="382.35" width="6.02" height="1" fill="#b4b4b4"/>
<rect x="1049.2" y="386.62" width="12" height="1.3" fill="#6a6a6a"/>
<rect x="1064.17" y="386.77" width="6.25" height="1" fill="#b4b4b4"/>
<rect x="1073.43" y="386.77" width="5.85" height="1" fill="#b4b4b4"/>
<rect x="1082.56" y="386.77" width="6.20" height="1" fill="#b4b4b4"/>
<rect x="1092.30" y="386.77" width="6.47" height="1" fill="#b4b4b4"/>
<rect x="1101.56" y="386.77" width="6.46" height="1" fill="#b4b4b4"/>
<rect x="1110.91" y="386.77" width="6.08" height="1" fill="#b4b4b4"/>
<rect x="1049.2" y="391.04" width="12" height="1.3" fill="#6a6a6a"/>
<rect x="1064.10" y="391.19" width="6.32" height="1" fill="#b4b4b4"/>
<rect x="1073.96" y="391.19" width="5.73" height="1" fill="#b4b4b4"/>
<rect x="1082.60" y="391.19" width="6.44" height="1" fill="#b4b4b4"/>
<rect x="1092.26" y="391.19" width="5.99" height="1" fill="#b4b4b4"/>
<rect x="1101.79" y="391.19" width="6.06" height="1" fill="#b4b4b4"/>
<rect x="1110.66" y="391.19" width="5.83" height="1" fill="#b4b4b4"/>
<rect x="1049.2" y="395.46" width="12" height="1.3" fill="#6a6a6a"/>
<rect x="1064.06" y="395.61" width="6.43" height="1" fill="#b4b4b4"/>
<rect x="1073.94" y="395.61" width="6.25" height="1" fill="#b4b4b4"/>
<rect x="1082.75" y="395.61" width="6.15" height="1" fill="#b4b4b4"/>
<rect x="1092.02" y="395.61" width="5.80" height="1" fill="#b4b4b4"/>
<rect x="1101.46" y="395.61" width="6.04" height="1" fill="#b4b4b4"/>
<rect x="1110.70" y="395.61" width="6.48" height="1" fill="#b4b4b4"/>
<rect x="1049.2" y="399.88" width="12" height="1.3" fill="#6a6a6a"/>
<rect x="1064.38" y="400.03" width="6.44" height="1" fill="#b4b4b4"/>
<rect x="1073.48" y="400.03" width="6.09" height="1" fill="#b4b4b4"/>
<rect x="1082.91" y="400.03" width="6.11" height="1" fill="#b4b4b4"/>
<rect x="1091.82" y="400.03" width="6.08" height="1" fill="#b4b4b4"/>
<rect x="1101.51" y="400.03" width="6.37" height="1" fill="#b4b4b4"/>
<rect x="1110.87" y="400.03" width="6.05" height="1" fill="#b4b4b4"/>
<rect x="1049.2" y="404.30" width="12" height="1.3" fill="#6a6a6a"/>
<rect x="1064.19" y="404.45" width="5.96" height="1" fill="#b4b4b4"/>
<rect x="1073.81" y="404.45" width="5.76" height="1" fill="#b4b4b4"/>
<rect x="1082.64" y="404.45" width="5.83" height="1" fill="#b4b4b4"/>
<rect x="1092.19" y="404.45" width="6.20" height="1" fill="#b4b4b4"/>
<rect x="1101.50" y="404.45" width="5.77" height="1" fill="#b4b4b4"/>
<rect x="1111.05" y="404.45" width="6.33" height="1" fill="#b4b4b4"/>
<rect x="1049.2" y="408.72" width="12" height="1.3" fill="#6a6a6a"/>
<rect x="1064.37" y="408.87" width="6.22" height="1" fill="#b4b4b4"/>
<rect x="1073.98" y="408.87" width="6.22" height="1" fill="#b4b4b4"/>
<rect x="1082.86" y="408.87" width="5.85" height="1" fill="#b4b4b4"/>
<rect x="1091.94" y="408.87" width="6.46" height="1" fill="#b4b4b4"/>
<rect x="1101.36" y="408.87" width="6.45" height="1" fill="#b4b4b4"/>
<rect x="1111.20" y="408.87" width="5.66" height="1" fill="#b4b4b4"/>
<rect x="1049.2" y="413.14" width="12" height="1.3" fill="#6a6a6a"/>
<rect x="1064.39" y="413.29" width="5.70" height="1" fill="#b4b4b4"/>
<rect x="1073.49" y="413.29" width="5.65" height="1" fill="#b4b4b4"/>
<rect x="1082.68" y="413.29" width="5.80" height="1" fill="#b4b4b4"/>
<rect x="1091.96" y="413.29" width="5.61" height="1" fill="#b4b4b4"/>
<rect x="1101.75" y="413.29" width="5.78" height="1" fill="#b4b4b4"/>
<rect x="1111.13" y="413.29" width="5.96" height="1" fill="#b4b4b4"/>
<rect x="1049.2" y="417.56" width="12" height="1.3" fill="#6a6a6a"/>
<rect x="1064.01" y="417.71" width="6.35" height="1" fill="#b4b4b4"/>
<rect x="1073.66" y="417.71" width="5.72" height="1" fill="#b4b4b4"/>
<rect x="1083.09" y="417.71" width="5.80" height="1" fill="#b4b4b4"/>
<rect x="1091.81" y="417.71" width="5.76" height="1" fill="#b4b4b4"/>
<rect x="1101.64" y="417.71" width="5.51" height="1" fill="#b4b4b4"/>
<rect x="1110.75" y="417.71" width="6.35" height="1" fill="#b4b4b4"/>
<rect x="1123.80" y="374.90" width="76.90" height="47.30" fill="#fff"/>
<rect x="1131.44" y="378.40" width="6.54" height="2.00" fill="#7d6cae"/>
<rect x="1137.98" y="378.40" width="6.54" height="2.00" fill="#7d6cae"/>
<rect x="1144.51" y="378.40" width="6.54" height="2.00" fill="#7d6cae"/>
<rect x="1157.59" y="378.40" width="6.54" height="2.00" fill="#7d6cae"/>
<rect x="1170.66" y="378.40" width="6.54" height="2.00" fill="#7d6cae"/>
<rect x="1124.90" y="381.00" width="6.54" height="2.00" fill="#7d6cae"/>
<rect x="1151.05" y="381.00" width="6.54" height="2.00" fill="#7d6cae"/>
<rect x="1170.66" y="381.00" width="6.54" height="2.00" fill="#7d6cae"/>
<rect x="1131.44" y="383.30" width="6.54" height="2.60" fill="#f6f2f0"/>
<rect x="1137.98" y="383.60" width="6.54" height="2.00" fill="#b65a55"/>
<rect x="1144.51" y="383.30" width="6.54" height="2.60" fill="#f6f2f0"/>
<rect x="1151.05" y="383.60" width="6.54" height="2.00" fill="#b65a55"/>
<rect x="1157.59" y="383.60" width="6.54" height="2.00" fill="#b65a55"/>
<rect x="1164.12" y="383.30" width="6.54" height="2.60" fill="#f6f2f0"/>
<rect x="1170.66" y="383.60" width="6.54" height="2.00" fill="#b65a55"/>
<rect x="1124.90" y="386.20" width="6.54" height="2.00" fill="#d9826a"/>
<rect x="1137.98" y="385.90" width="6.54" height="2.60" fill="#f6f2f0"/>
<rect x="1151.05" y="386.20" width="6.54" height="2.00" fill="#d9826a"/>
<rect x="1164.12" y="385.90" width="6.54" height="2.60" fill="#f6f2f0"/>
<rect x="1131.44" y="388.80" width="6.54" height="2.00" fill="#f3c6a6"/>
<rect x="1137.98" y="388.80" width="6.54" height="2.00" fill="#f3c6a6"/>
<rect x="1144.51" y="388.80" width="6.54" height="2.00" fill="#f3c6a6"/>
<rect x="1151.05" y="388.50" width="6.54" height="2.60" fill="#f6f2f0"/>
<rect x="1164.12" y="388.80" width="6.54" height="2.00" fill="#d9826a"/>
<rect x="1124.90" y="391.10" width="6.54" height="2.60" fill="#f6f2f0"/>
<rect x="1137.98" y="391.40" width="6.54" height="2.00" fill="#b65a55"/>
<rect x="1144.51" y="391.40" width="6.54" height="2.00" fill="#f3c6a6"/>
<rect x="1164.12" y="391.40" width="6.54" height="2.00" fill="#d9826a"/>
<rect x="1170.66" y="391.40" width="6.54" height="2.00" fill="#b65a55"/>
<rect x="1144.51" y="394.00" width="6.54" height="2.00" fill="#b65a55"/>
<rect x="1151.05" y="393.70" width="6.54" height="2.60" fill="#f6f2f0"/>
<rect x="1164.12" y="394.00" width="6.54" height="2.00" fill="#b65a55"/>
<rect x="1124.90" y="396.60" width="6.54" height="2.00" fill="#d9826a"/>
<rect x="1131.44" y="396.60" width="6.54" height="2.00" fill="#f3c6a6"/>
<rect x="1137.98" y="396.30" width="6.54" height="2.60" fill="#f6f2f0"/>
<rect x="1144.51" y="396.30" width="6.54" height="2.60" fill="#f6f2f0"/>
<rect x="1151.05" y="396.60" width="6.54" height="2.00" fill="#d9826a"/>
<rect x="1157.59" y="396.30" width="6.54" height="2.60" fill="#f6f2f0"/>
<rect x="1124.90" y="399.20" width="6.54" height="2.00" fill="#f3c6a6"/>
<rect x="1131.44" y="398.90" width="6.54" height="2.60" fill="#f6f2f0"/>
<rect x="1137.98" y="399.20" width="6.54" height="2.00" fill="#f3c6a6"/>
<rect x="1164.12" y="398.90" width="6.54" height="2.60" fill="#f6f2f0"/>
<rect x="1170.66" y="399.20" width="6.54" height="2.00" fill="#f3c6a6"/>
<rect x="1131.44" y="401.50" width="6.54" height="2.60" fill="#f6f2f0"/>
<rect x="1137.98" y="401.80" width="6.54" height="2.00" fill="#f3c6a6"/>
<rect x="1144.51" y="401.80" width="6.54" height="2.00" fill="#f3c6a6"/>
<rect x="1170.66" y="401.80" width="6.54" height="2.00" fill="#f3c6a6"/>
<rect x="1144.51" y="404.40" width="6.54" height="2.00" fill="#f3c6a6"/>
<rect x="1151.05" y="404.10" width="6.54" height="2.60" fill="#f6f2f0"/>
<rect x="1164.12" y="404.40" width="6.54" height="2.00" fill="#f3c6a6"/>
<rect x="1144.51" y="407.00" width="6.54" height="2.00" fill="#cdd2b2"/>
<rect x="1151.05" y="407.00" width="6.54" height="2.00" fill="#cdd2b2"/>
<rect x="1157.59" y="407.00" width="6.54" height="2.00" fill="#cdd2b2"/>
<rect x="1164.12" y="406.70" width="6.54" height="2.60" fill="#f6f2f0"/>
<rect x="1124.90" y="409.60" width="6.54" height="2.00" fill="#cdd2b2"/>
<rect x="1131.44" y="409.30" width="6.54" height="2.60" fill="#f6f2f0"/>
<rect x="1137.98" y="409.30" width="6.54" height="2.60" fill="#f6f2f0"/>
<rect x="1144.51" y="409.60" width="6.54" height="2.00" fill="#cdd2b2"/>
<rect x="1151.05" y="409.60" width="6.54" height="2.00" fill="#cdd2b2"/>
<rect x="1157.59" y="409.60" width="6.54" height="2.00" fill="#cdd2b2"/>
<rect x="1164.12" y="409.60" width="6.54" height="2.00" fill="#cdd2b2"/>
<rect x="1137.98" y="412.20" width="6.54" height="2.00" fill="#cdd2b2"/>
<rect x="1151.05" y="412.20" width="6.54" height="2.00" fill="#cdd2b2"/>
<rect x="1157.59" y="412.20" width="6.54" height="2.00" fill="#cdd2b2"/>
<rect x="1164.12" y="411.90" width="6.54" height="2.60" fill="#f6f2f0"/>
<rect x="1170.66" y="412.20" width="6.54" height="2.00" fill="#cdd2b2"/>
<rect x="1124.90" y="414.80" width="6.54" height="2.00" fill="#cdd2b2"/>
<rect x="1151.05" y="414.80" width="6.54" height="2.00" fill="#b6d9d2"/>
<rect x="1164.12" y="414.80" width="6.54" height="2.00" fill="#b6d9d2"/>
<rect x="1126.00" y="419.20" width="3.00" height="0.60" fill="#bbb" />
<rect x="1132.50" y="419.20" width="3.00" height="0.60" fill="#bbb" />
<rect x="1139.00" y="419.20" width="3.00" height="0.60" fill="#bbb" />
<rect x="1145.50" y="419.20" width="3.00" height="0.60" fill="#bbb" />
<rect x="1152.00" y="419.20" width="3.00" height="0.60" fill="#bbb" />
<rect x="1158.50" y="419.20" width="3.00" height="0.60" fill="#bbb" />
<rect x="1165.00" y="419.20" width="3.00" height="0.60" fill="#bbb" />
<rect x="1171.50" y="419.20" width="3.00" height="0.60" fill="#bbb" />
<rect x="1182.00" y="379.00" width="9.50" height="0.55" fill="#b5b5b5"/>
<rect x="1180.44" y="381.92" width="11.06" height="0.55" fill="#b5b5b5"/>
<rect x="1179.51" y="384.85" width="11.99" height="0.55" fill="#b5b5b5"/>
<rect x="1181.90" y="387.77" width="9.60" height="0.55" fill="#b5b5b5"/>
<rect x="1179.22" y="390.69" width="12.28" height="0.55" fill="#b5b5b5"/>
<rect x="1181.49" y="393.62" width="10.01" height="0.55" fill="#b5b5b5"/>
<rect x="1179.60" y="396.54" width="11.90" height="0.55" fill="#b5b5b5"/>
<rect x="1181.01" y="399.46" width="10.49" height="0.55" fill="#b5b5b5"/>
<rect x="1181.25" y="402.38" width="10.25" height="0.55" fill="#b5b5b5"/>
<rect x="1181.55" y="405.31" width="9.95" height="0.55" fill="#b5b5b5"/>
<rect x="1179.46" y="408.23" width="12.04" height="0.55" fill="#b5b5b5"/>
<rect x="1181.08" y="411.15" width="10.42" height="0.55" fill="#b5b5b5"/>
<rect x="1181.60" y="414.08" width="9.90" height="0.55" fill="#b5b5b5"/>
<rect x="1181.49" y="417.00" width="10.01" height="0.55" fill="#b5b5b5"/>
<defs><linearGradient id="cbar3" x1="0" y1="0" x2="0" y2="1"><stop offset="0" stop-color="#5a4a90"/><stop offset="0.45" stop-color="#d06a5a"/><stop offset="0.75" stop-color="#f0d8cc"/><stop offset="1" stop-color="#e8e8e8"/></linearGradient></defs>
<rect x="1193.00" y="376.50" width="1.60" height="36.00" fill="url(#cbar3)" />
<text x="1121.00" y="429.40" font-size="7.3" fill="#333" font-style="italic" stroke="#333" stroke-width="0.30" text-anchor="middle" >Neo-antigen Prediction</text>
<text x="1121.30" y="438.50" font-size="8.6" fill="#222" stroke="#222" stroke-width="0.26" text-anchor="middle" >pVACSeq</text>
<rect x="1071.00" y="440.60" width="105.70" height="54.50" fill="#fff"/>
<path d="M1086,488.7 L1120.8,444.4 L1100,444.4 L1084,470 L1084,488.7 Z" fill="#fcf1f1"/>
<path d="M1105,465 L1120.8,444.4 L1121.3,470 Z" fill="#edf7f6"/>
<rect x="1083.5" y="442.7" width="68.7" height="46" fill="none" stroke="#e6e6e6" stroke-width="0.4"/>
<line x1="1083.5" y1="448.3" x2="1152.2" y2="448.3" stroke="#eee" stroke-width="0.4"/>
<rect x="1078.5" y="447.8" width="4" height="1" fill="#999"/>
<line x1="1083.5" y1="458.5" x2="1152.2" y2="458.5" stroke="#eee" stroke-width="0.4"/>
<rect x="1078.5" y="458.0" width="4" height="1" fill="#999"/>
<line x1="1083.5" y1="469.5" x2="1152.2" y2="469.5" stroke="#eee" stroke-width="0.4"/>
<rect x="1078.5" y="469.0" width="4" height="1" fill="#999"/>
<line x1="1083.5" y1="479.8" x2="1152.2" y2="479.8" stroke="#eee" stroke-width="0.4"/>
<rect x="1078.5" y="479.3" width="4" height="1" fill="#999"/>
<line x1="1090" y1="442.7" x2="1090" y2="488.7" stroke="#eee" stroke-width="0.4"/>
<rect x="1088" y="490.4" width="4" height="1" fill="#999"/>
<line x1="1106" y1="442.7" x2="1106" y2="488.7" stroke="#eee" stroke-width="0.4"/>
<rect x="1104" y="490.4" width="4" height="1" fill="#999"/>
<line x1="1123" y1="442.7" x2="1123" y2="488.7" stroke="#eee" stroke-width="0.4"/>
<rect x="1121" y="490.4" width="4" height="1" fill="#999"/>
<line x1="1140" y1="442.7" x2="1140" y2="488.7" stroke="#eee" stroke-width="0.4"/>
<rect x="1138" y="490.4" width="4" height="1" fill="#999"/>
<line x1="1086" y1="488.7" x2="1120.8" y2="444.4" stroke="#666" stroke-width="0.5" stroke-dasharray="1.2 0.8"/>
<line x1="1121.3" y1="441.2" x2="1121.3" y2="488.7" stroke="#555" stroke-width="0.7"/>
<rect x="1073.4" y="450" width="1.3" height="30" fill="#777"/>
<rect x="1096" y="493.2" width="46" height="1.1" fill="#777"/>
<rect x="1134.4" y="471.9" width="0.9" height="0.5" fill="#9a9a9a"/>
<rect x="1114.0" y="452.1" width="0.9" height="0.5" fill="#9a9a9a"/>
<rect x="1148.9" y="473.2" width="0.9" height="0.5" fill="#9a9a9a"/>
<rect x="1136.9" y="459.4" width="0.9" height="0.5" fill="#9a9a9a"/>
<rect x="1105.1" y="459.9" width="0.9" height="0.5" fill="#9a9a9a"/>
<rect x="1094.9" y="457.0" width="0.9" height="0.5" fill="#9a9a9a"/>
<rect x="1097.7" y="469.8" width="0.9" height="0.5" fill="#9a9a9a"/>
<rect x="1116.8" y="450.7" width="0.9" height="0.5" fill="#9a9a9a"/>
<rect x="1111.6" y="460.5" width="0.9" height="0.5" fill="#9a9a9a"/>
<rect x="1108.8" y="459.9" width="0.9" height="0.5" fill="#9a9a9a"/>
<rect x="1098.6" y="461.3" width="0.9" height="0.5" fill="#9a9a9a"/>
<rect x="1129.7" y="486.0" width="0.9" height="0.5" fill="#9a9a9a"/>
<rect x="1120.7" y="471.4" width="0.9" height="0.5" fill="#9a9a9a"/>
<rect x="1097.4" y="475.7" width="0.9" height="0.5" fill="#9a9a9a"/>
<rect x="1092.6" y="449.1" width="0.9" height="0.5" fill="#9a9a9a"/>
<rect x="1115.8" y="468.0" width="0.9" height="0.5" fill="#9a9a9a"/>
<rect x="1130.5" y="454.6" width="0.9" height="0.5" fill="#9a9a9a"/>
<rect x="1092.4" y="478.3" width="0.9" height="0.5" fill="#9a9a9a"/>
<rect x="1117.3" y="456.8" width="0.9" height="0.5" fill="#9a9a9a"/>
<rect x="1107.3" y="467.4" width="0.9" height="0.5" fill="#9a9a9a"/>
<rect x="1092.8" y="478.9" width="0.9" height="0.5" fill="#9a9a9a"/>
<rect x="1149.9" y="478.8" width="0.9" height="0.5" fill="#9a9a9a"/>
<rect x="1090.3" y="481.4" width="0.9" height="0.5" fill="#9a9a9a"/>
<rect x="1095.2" y="479.0" width="0.9" height="0.5" fill="#9a9a9a"/>
<rect x="1110.1" y="455.6" width="0.9" height="0.5" fill="#9a9a9a"/>
<rect x="1116.8" y="450.6" width="0.9" height="0.5" fill="#9a9a9a"/>
<rect x="1086.6" y="487.5" width="0.9" height="0.5" fill="#9a9a9a"/>
<rect x="1141.7" y="458.8" width="0.9" height="0.5" fill="#9a9a9a"/>
<rect x="1095.4" y="479.8" width="0.9" height="0.5" fill="#9a9a9a"/>
<rect x="1112.5" y="456.8" width="0.9" height="0.5" fill="#9a9a9a"/>
<rect x="1118.0" y="444.1" width="0.9" height="0.5" fill="#9a9a9a"/>
<rect x="1107.2" y="463.5" width="0.9" height="0.5" fill="#9a9a9a"/>
<rect x="1115.1" y="451.4" width="0.9" height="0.5" fill="#9a9a9a"/>
<rect x="1102.8" y="467.2" width="0.9" height="0.5" fill="#9a9a9a"/>
<rect x="1142.0" y="447.6" width="0.9" height="0.5" fill="#9a9a9a"/>
<rect x="1125.6" y="451.5" width="0.9" height="0.5" fill="#9a9a9a"/>
<rect x="1112.4" y="448.3" width="0.9" height="0.5" fill="#9a9a9a"/>
<rect x="1119.8" y="446.7" width="0.9" height="0.5" fill="#9a9a9a"/>
<rect x="1141.1" y="451.9" width="0.9" height="0.5" fill="#9a9a9a"/>
<rect x="1084.6" y="484.0" width="0.9" height="0.5" fill="#9a9a9a"/>
<rect x="1112.5" y="447.8" width="0.9" height="0.5" fill="#9a9a9a"/>
<rect x="1112.3" y="451.6" width="0.9" height="0.5" fill="#9a9a9a"/>
<rect x="1123.6" y="486.7" width="0.9" height="0.5" fill="#9a9a9a"/>
<rect x="1109.9" y="455.5" width="0.9" height="0.5" fill="#9a9a9a"/>
<rect x="1093.2" y="481.0" width="0.9" height="0.5" fill="#9a9a9a"/>
<rect x="1097.2" y="461.4" width="0.9" height="0.5" fill="#9a9a9a"/>
<rect x="1118.6" y="453.3" width="0.9" height="0.5" fill="#9a9a9a"/>
<rect x="1091.6" y="476.9" width="0.9" height="0.5" fill="#9a9a9a"/>
<rect x="1118.3" y="443.6" width="0.9" height="0.5" fill="#9a9a9a"/>
<rect x="1104.1" y="468.0" width="0.9" height="0.5" fill="#9a9a9a"/>
<rect x="1142.9" y="483.3" width="0.9" height="0.5" fill="#9a9a9a"/>
<rect x="1094.6" y="487.1" width="0.9" height="0.5" fill="#9a9a9a"/>
<rect x="1110.3" y="457.4" width="0.9" height="0.5" fill="#9a9a9a"/>
<rect x="1139.3" y="470.2" width="0.9" height="0.5" fill="#9a9a9a"/>
<rect x="1132.3" y="464.2" width="0.9" height="0.5" fill="#9a9a9a"/>
<rect x="1092.6" y="485.0" width="0.9" height="0.5" fill="#9a9a9a"/>
<rect x="1116.0" y="477.5" width="0.9" height="0.5" fill="#9a9a9a"/>
<rect x="1102.5" y="465.3" width="0.9" height="0.5" fill="#9a9a9a"/>
<rect x="1127.3" y="478.5" width="0.9" height="0.5" fill="#9a9a9a"/>
<rect x="1132.2" y="444.7" width="0.9" height="0.5" fill="#9a9a9a"/>
<rect x="1100.00" y="444.00" width="6.00" height="0.80" fill="#aaa" />
<rect x="1112.00" y="486.50" width="7.00" height="0.80" fill="#aaa" />
<rect x="1158.00" y="461.00" width="8.00" height="0.80" fill="#999" />
<rect x="1160.00" y="464.50" width="1.00" height="1.00" fill="#aaa" />
<rect x="1165.00" y="464.50" width="9.00" height="0.70" fill="#bbb" />
<rect x="1160.00" y="468.00" width="1.00" height="1.00" fill="#aaa" />
<rect x="1165.00" y="468.00" width="6.00" height="0.70" fill="#bbb" />
<rect x="1046.60" y="502.50" width="155.40" height="109.00" fill="#e4d5dd" stroke="#cdbcc6" stroke-width="0.8"/>
<rect x="1046.60" y="502.50" width="155.40" height="13.30" fill="#b3819f"/>
<text x="1124.30" y="513.40" font-size="10.5" fill="#1c1c1c" stroke="#1c1c1c" stroke-width="0.26" text-anchor="middle" >MICROBIOTA</text>
<text x="1121.20" y="522.60" font-size="7.1" fill="#333" font-style="italic" stroke="#333" stroke-width="0.29" text-anchor="middle" >Microbiome</text>
<text x="1121.30" y="531.60" font-size="8.3" fill="#222" stroke="#222" stroke-width="0.25" text-anchor="middle" >Centrifuge</text>
<rect x="1048.20" y="541.00" width="75.80" height="48.70" fill="#fff"/>
<rect x="1055.40" y="542.10" width="64.40" height="38.60" fill="#e2b0d7" />
<rect x="1055.40" y="542.10" width="5.44" height="1.98" fill="#efd49e"/>
<rect x="1060.84" y="542.10" width="6.00" height="1.98" fill="#79a5a0"/>
<rect x="1066.84" y="542.10" width="5.64" height="1.98" fill="#7cae8e"/>
<rect x="1072.48" y="542.10" width="6.85" height="1.98" fill="#adc2b6"/>
<rect x="1055.4" y="543.73" width="64.4" height="0.3" fill="#fff" opacity="0.3"/>
<rect x="1055.40" y="544.03" width="6.84" height="1.98" fill="#efd49e"/>
<rect x="1062.24" y="544.03" width="5.25" height="1.98" fill="#6fa583"/>
<rect x="1067.49" y="544.03" width="5.96" height="1.98" fill="#93bba0"/>
<rect x="1073.45" y="544.03" width="8.68" height="1.98" fill="#79a5a0"/>
<rect x="1055.4" y="545.66" width="64.4" height="0.3" fill="#fff" opacity="0.3"/>
<rect x="1055.40" y="545.96" width="7.15" height="1.98" fill="#efd49e"/>
<rect x="1062.55" y="545.96" width="8.68" height="1.98" fill="#7cae8e"/>
<rect x="1071.24" y="545.96" width="4.03" height="1.98" fill="#79a5a0"/>
<rect x="1075.26" y="545.96" width="7.79" height="1.98" fill="#79a5a0"/>
<rect x="1083.06" y="545.96" width="4.10" height="1.98" fill="#adc2b6"/>
<rect x="1088.15" y="545.96" width="2" height="1.93" fill="#eee"/>
<rect x="1055.4" y="547.59" width="64.4" height="0.3" fill="#fff" opacity="0.3"/>
<rect x="1055.40" y="547.89" width="7.14" height="1.98" fill="#efd49e"/>
<rect x="1062.54" y="547.89" width="8.51" height="1.98" fill="#7cae8e"/>
<rect x="1071.05" y="547.89" width="5.17" height="1.98" fill="#7cae8e"/>
<rect x="1076.22" y="547.89" width="7.74" height="1.98" fill="#6fa583"/>
<rect x="1083.96" y="547.89" width="7.96" height="1.98" fill="#adc2b6"/>
<rect x="1091.92" y="547.89" width="2.27" height="1.98" fill="#93bba0"/>
<rect x="1095.19" y="547.89" width="2" height="1.93" fill="#eee"/>
<rect x="1055.4" y="549.52" width="64.4" height="0.3" fill="#fff" opacity="0.3"/>
<rect x="1055.40" y="549.82" width="7.22" height="1.98" fill="#efd49e"/>
<rect x="1062.62" y="549.82" width="8.65" height="1.98" fill="#79a5a0"/>
<rect x="1071.26" y="549.82" width="4.63" height="1.98" fill="#6fa583"/>
<rect x="1075.89" y="549.82" width="6.65" height="1.98" fill="#79a5a0"/>
<rect x="1082.54" y="549.82" width="9.20" height="1.98" fill="#93bba0"/>
<rect x="1091.73" y="549.82" width="5.25" height="1.98" fill="#79a5a0"/>
<rect x="1096.98" y="549.82" width="1.18" height="1.98" fill="#79a5a0"/>
<rect x="1099.16" y="549.82" width="2" height="1.93" fill="#eee"/>
<rect x="1055.4" y="551.45" width="64.4" height="0.3" fill="#fff" opacity="0.3"/>
<rect x="1055.40" y="551.75" width="7.26" height="1.98" fill="#efd49e"/>
<rect x="1062.66" y="551.75" width="5.54" height="1.98" fill="#93bba0"/>
<rect x="1068.20" y="551.75" width="5.51" height="1.98" fill="#79a5a0"/>
<rect x="1073.71" y="551.75" width="9.00" height="1.98" fill="#79a5a0"/>
<rect x="1082.71" y="551.75" width="3.31" height="1.98" fill="#7cae8e"/>
<rect x="1086.02" y="551.75" width="5.62" height="1.98" fill="#adc2b6"/>
<rect x="1091.64" y="551.75" width="5.60" height="1.98" fill="#6fa583"/>
<rect x="1097.24" y="551.75" width="4.48" height="1.98" fill="#adc2b6"/>
<rect x="1102.72" y="551.75" width="2" height="1.93" fill="#eee"/>
<rect x="1055.4" y="553.38" width="64.4" height="0.3" fill="#fff" opacity="0.3"/>
<rect x="1055.40" y="553.68" width="8.26" height="1.98" fill="#efd49e"/>
<rect x="1063.66" y="553.68" width="7.25" height="1.98" fill="#79a5a0"/>
<rect x="1070.91" y="553.68" width="3.24" height="1.98" fill="#6fa583"/>
<rect x="1074.14" y="553.68" width="6.40" height="1.98" fill="#79a5a0"/>
<rect x="1080.54" y="553.68" width="4.50" height="1.98" fill="#79a5a0"/>
<rect x="1085.04" y="553.68" width="5.98" height="1.98" fill="#93bba0"/>
<rect x="1091.02" y="553.68" width="8.37" height="1.98" fill="#adc2b6"/>
<rect x="1099.39" y="553.68" width="7.99" height="1.98" fill="#79a5a0"/>
<rect x="1108.38" y="553.68" width="2" height="1.93" fill="#eee"/>
<rect x="1055.4" y="555.31" width="64.4" height="0.3" fill="#fff" opacity="0.3"/>
<rect x="1055.40" y="555.61" width="7.71" height="1.98" fill="#efd49e"/>
<rect x="1063.11" y="555.61" width="5.65" height="1.98" fill="#7cae8e"/>
<rect x="1068.76" y="555.61" width="3.36" height="1.98" fill="#6fa583"/>
<rect x="1072.11" y="555.61" width="5.59" height="1.98" fill="#79a5a0"/>
<rect x="1077.70" y="555.61" width="6.41" height="1.98" fill="#adc2b6"/>
<rect x="1084.11" y="555.61" width="9.04" height="1.98" fill="#6fa583"/>
<rect x="1093.15" y="555.61" width="9.46" height="1.98" fill="#adc2b6"/>
<rect x="1102.61" y="555.61" width="4.20" height="1.98" fill="#6fa583"/>
<rect x="1055.4" y="557.24" width="64.4" height="0.3" fill="#fff" opacity="0.3"/>
<rect x="1055.40" y="557.54" width="9.03" height="1.98" fill="#efd49e"/>
<rect x="1064.43" y="557.54" width="5.75" height="1.98" fill="#79a5a0"/>
<rect x="1070.18" y="557.54" width="8.95" height="1.98" fill="#adc2b6"/>
<rect x="1079.12" y="557.54" width="9.76" height="1.98" fill="#93bba0"/>
<rect x="1088.89" y="557.54" width="4.20" height="1.98" fill="#7cae8e"/>
<rect x="1093.09" y="557.54" width="9.59" height="1.98" fill="#93bba0"/>
<rect x="1102.68" y="557.54" width="7.15" height="1.98" fill="#6fa583"/>
<rect x="1055.4" y="559.17" width="64.4" height="0.3" fill="#fff" opacity="0.3"/>
<rect x="1055.40" y="559.47" width="9.69" height="1.98" fill="#efd49e"/>
<rect x="1065.09" y="559.47" width="7.97" height="1.98" fill="#79a5a0"/>
<rect x="1073.06" y="559.47" width="3.39" height="1.98" fill="#adc2b6"/>
<rect x="1076.45" y="559.47" width="5.22" height="1.98" fill="#7cae8e"/>
<rect x="1081.67" y="559.47" width="9.58" height="1.98" fill="#6fa583"/>
<rect x="1091.25" y="559.47" width="7.13" height="1.98" fill="#93bba0"/>
<rect x="1098.38" y="559.47" width="7.81" height="1.98" fill="#adc2b6"/>
<rect x="1107.19" y="559.47" width="2" height="1.93" fill="#eee"/>
<rect x="1055.4" y="561.10" width="64.4" height="0.3" fill="#fff" opacity="0.3"/>
<rect x="1055.40" y="561.40" width="9.22" height="1.98" fill="#efd49e"/>
<rect x="1064.62" y="561.40" width="5.62" height="1.98" fill="#6fa583"/>
<rect x="1070.24" y="561.40" width="4.18" height="1.98" fill="#adc2b6"/>
<rect x="1074.42" y="561.40" width="8.65" height="1.98" fill="#7cae8e"/>
<rect x="1083.08" y="561.40" width="6.28" height="1.98" fill="#6fa583"/>
<rect x="1089.35" y="561.40" width="8.59" height="1.98" fill="#7cae8e"/>
<rect x="1097.94" y="561.40" width="9.08" height="1.98" fill="#7cae8e"/>
<rect x="1108.03" y="561.40" width="2" height="1.93" fill="#eee"/>
<rect x="1055.4" y="563.03" width="64.4" height="0.3" fill="#fff" opacity="0.3"/>
<rect x="1055.40" y="563.33" width="9.69" height="1.98" fill="#efd49e"/>
<rect x="1065.09" y="563.33" width="8.45" height="1.98" fill="#7cae8e"/>
<rect x="1073.54" y="563.33" width="7.92" height="1.98" fill="#6fa583"/>
<rect x="1082.47" y="563.33" width="2" height="1.93" fill="#eee"/>
<rect x="1055.4" y="564.96" width="64.4" height="0.3" fill="#fff" opacity="0.3"/>
<rect x="1055.40" y="565.26" width="9.83" height="1.98" fill="#efd49e"/>
<rect x="1065.23" y="565.26" width="5.26" height="1.98" fill="#93bba0"/>
<rect x="1070.49" y="565.26" width="6.34" height="1.98" fill="#7cae8e"/>
<rect x="1076.84" y="565.26" width="4.00" height="1.98" fill="#93bba0"/>
<rect x="1080.83" y="565.26" width="1.47" height="1.98" fill="#7cae8e"/>
<rect x="1083.30" y="565.26" width="2" height="1.93" fill="#eee"/>
<rect x="1055.4" y="566.89" width="64.4" height="0.3" fill="#fff" opacity="0.3"/>
<rect x="1055.40" y="567.19" width="12.12" height="1.98" fill="#efd49e"/>
<rect x="1067.52" y="567.19" width="9.10" height="1.98" fill="#adc2b6"/>
<rect x="1076.62" y="567.19" width="5.93" height="1.98" fill="#93bba0"/>
<rect x="1082.55" y="567.19" width="4.09" height="1.98" fill="#7cae8e"/>
<rect x="1086.63" y="567.19" width="2.92" height="1.98" fill="#93bba0"/>
<rect x="1090.56" y="567.19" width="2" height="1.93" fill="#eee"/>
<rect x="1055.4" y="568.82" width="64.4" height="0.3" fill="#fff" opacity="0.3"/>
<rect x="1055.40" y="569.12" width="14.29" height="1.98" fill="#efd49e"/>
<rect x="1069.69" y="569.12" width="5.23" height="1.98" fill="#6fa583"/>
<rect x="1074.91" y="569.12" width="3.80" height="1.98" fill="#adc2b6"/>
<rect x="1078.71" y="569.12" width="3.40" height="1.98" fill="#79a5a0"/>
<rect x="1082.11" y="569.12" width="6.92" height="1.98" fill="#7cae8e"/>
<rect x="1089.03" y="569.12" width="2.01" height="1.98" fill="#93bba0"/>
<rect x="1055.4" y="570.75" width="64.4" height="0.3" fill="#fff" opacity="0.3"/>
<rect x="1055.40" y="571.05" width="16.15" height="1.98" fill="#efd49e"/>
<rect x="1071.55" y="571.05" width="9.99" height="1.98" fill="#93bba0"/>
<rect x="1081.54" y="571.05" width="3.68" height="1.98" fill="#7cae8e"/>
<rect x="1085.22" y="571.05" width="5.91" height="1.98" fill="#93bba0"/>
<rect x="1091.13" y="571.05" width="3.40" height="1.98" fill="#7cae8e"/>
<rect x="1094.53" y="571.05" width="1.19" height="1.98" fill="#93bba0"/>
<rect x="1055.4" y="572.68" width="64.4" height="0.3" fill="#fff" opacity="0.3"/>
<rect x="1055.40" y="572.98" width="16.91" height="1.98" fill="#efd49e"/>
<rect x="1072.31" y="572.98" width="3.98" height="1.98" fill="#79a5a0"/>
<rect x="1076.29" y="572.98" width="8.53" height="1.98" fill="#6fa583"/>
<rect x="1084.82" y="572.98" width="5.00" height="1.98" fill="#79a5a0"/>
<rect x="1089.82" y="572.98" width="6.05" height="1.98" fill="#93bba0"/>
<rect x="1095.87" y="572.98" width="4.16" height="1.98" fill="#adc2b6"/>
<rect x="1055.4" y="574.61" width="64.4" height="0.3" fill="#fff" opacity="0.3"/>
<rect x="1055.40" y="574.91" width="18.02" height="1.98" fill="#efd49e"/>
<rect x="1073.42" y="574.91" width="7.98" height="1.98" fill="#7cae8e"/>
<rect x="1081.40" y="574.91" width="7.20" height="1.98" fill="#7cae8e"/>
<rect x="1088.61" y="574.91" width="9.23" height="1.98" fill="#6fa583"/>
<rect x="1097.83" y="574.91" width="4.89" height="1.98" fill="#adc2b6"/>
<rect x="1103.72" y="574.91" width="2" height="1.93" fill="#eee"/>
<rect x="1055.4" y="576.54" width="64.4" height="0.3" fill="#fff" opacity="0.3"/>
<rect x="1055.40" y="576.84" width="19.62" height="1.98" fill="#efd49e"/>
<rect x="1075.02" y="576.84" width="7.08" height="1.98" fill="#7cae8e"/>
<rect x="1082.10" y="576.84" width="3.07" height="1.98" fill="#7cae8e"/>
<rect x="1085.17" y="576.84" width="5.86" height="1.98" fill="#79a5a0"/>
<rect x="1091.03" y="576.84" width="6.63" height="1.98" fill="#6fa583"/>
<rect x="1097.66" y="576.84" width="5.35" height="1.98" fill="#93bba0"/>
<rect x="1103.00" y="576.84" width="3.63" height="1.98" fill="#adc2b6"/>
<rect x="1106.63" y="576.84" width="2.04" height="1.98" fill="#adc2b6"/>
<rect x="1109.68" y="576.84" width="2" height="1.93" fill="#eee"/>
<rect x="1055.4" y="578.47" width="64.4" height="0.3" fill="#fff" opacity="0.3"/>
<rect x="1055.40" y="578.77" width="22.40" height="1.98" fill="#efd49e"/>
<rect x="1077.80" y="578.77" width="6.94" height="1.98" fill="#7cae8e"/>
<rect x="1084.74" y="578.77" width="3.26" height="1.98" fill="#93bba0"/>
<rect x="1087.99" y="578.77" width="7.02" height="1.98" fill="#93bba0"/>
<rect x="1095.02" y="578.77" width="5.49" height="1.98" fill="#6fa583"/>
<rect x="1100.51" y="578.77" width="9.78" height="1.98" fill="#adc2b6"/>
<rect x="1110.29" y="578.77" width="0.77" height="1.98" fill="#6fa583"/>
<rect x="1055.4" y="580.40" width="64.4" height="0.3" fill="#fff" opacity="0.3"/>
<rect x="1050.73" y="543.00" width="3.77" height="0.45" fill="#bbb"/>
<rect x="1050.78" y="546.36" width="3.72" height="0.45" fill="#bbb"/>
<rect x="1050.29" y="549.73" width="4.21" height="0.45" fill="#bbb"/>
<rect x="1050.64" y="553.09" width="3.86" height="0.45" fill="#bbb"/>
<rect x="1050.34" y="556.45" width="4.16" height="0.45" fill="#bbb"/>
<rect x="1050.68" y="559.82" width="3.82" height="0.45" fill="#bbb"/>
<rect x="1050.06" y="563.18" width="4.44" height="0.45" fill="#bbb"/>
<rect x="1050.79" y="566.55" width="3.71" height="0.45" fill="#bbb"/>
<rect x="1050.86" y="569.91" width="3.64" height="0.45" fill="#bbb"/>
<rect x="1050.45" y="573.27" width="4.05" height="0.45" fill="#bbb"/>
<rect x="1050.46" y="576.64" width="4.04" height="0.45" fill="#bbb"/>
<rect x="1050.48" y="580.00" width="4.02" height="0.45" fill="#bbb"/>
<rect x="1056.00" y="582.50" width="1.60" height="0.60" fill="#ccc" />
<rect x="1060.00" y="582.50" width="1.60" height="0.60" fill="#ccc" />
<rect x="1064.00" y="582.50" width="1.60" height="0.60" fill="#ccc" />
<rect x="1068.00" y="582.50" width="1.60" height="0.60" fill="#ccc" />
<rect x="1072.00" y="582.50" width="1.60" height="0.60" fill="#ccc" />
<rect x="1076.00" y="582.50" width="1.60" height="0.60" fill="#ccc" />
<rect x="1080.00" y="582.50" width="1.60" height="0.60" fill="#ccc" />
<rect x="1084.00" y="582.50" width="1.60" height="0.60" fill="#ccc" />
<rect x="1088.00" y="582.50" width="1.60" height="0.60" fill="#ccc" />
<rect x="1092.00" y="582.50" width="1.60" height="0.60" fill="#ccc" />
<rect x="1096.00" y="582.50" width="1.60" height="0.60" fill="#ccc" />
<rect x="1100.00" y="582.50" width="1.60" height="0.60" fill="#ccc" />
<rect x="1104.00" y="582.50" width="1.60" height="0.60" fill="#ccc" />
<rect x="1108.00" y="582.50" width="1.60" height="0.60" fill="#ccc" />
<rect x="1112.00" y="582.50" width="1.60" height="0.60" fill="#ccc" />
<rect x="1116.00" y="582.50" width="1.60" height="0.60" fill="#ccc" />
<rect x="1050.00" y="585.60" width="71.00" height="1.20" fill="#a0a0a0" />
<rect x="1126.20" y="541.00" width="73.80" height="45.00" fill="#fff"/>
<rect x="1127.70" y="544.00" width="5.14" height="3.80" fill="#d6a86b"/>
<rect x="1132.79" y="544.00" width="5.14" height="3.80" fill="#d6a86b"/>
<rect x="1137.88" y="544.00" width="5.14" height="3.80" fill="#d6a86b"/>
<rect x="1142.97" y="544.00" width="5.14" height="3.80" fill="#d6a86b"/>
<rect x="1148.06" y="544.00" width="5.14" height="3.80" fill="#d6a86b"/>
<rect x="1153.14" y="544.00" width="5.14" height="3.80" fill="#d6a86b"/>
<rect x="1158.23" y="544.00" width="5.14" height="3.80" fill="#d6a86b"/>
<rect x="1163.32" y="544.00" width="5.14" height="3.80" fill="#c9e5df"/>
<rect x="1168.41" y="544.00" width="5.14" height="3.80" fill="#aad5cb"/>
<rect x="1127.70" y="547.75" width="5.14" height="3.80" fill="#c8b98a"/>
<rect x="1132.79" y="547.75" width="5.14" height="3.80" fill="#c8b98a"/>
<rect x="1137.88" y="547.75" width="5.14" height="3.80" fill="#d6a86b"/>
<rect x="1142.97" y="547.75" width="5.14" height="3.80" fill="#d6a86b"/>
<rect x="1148.06" y="547.75" width="5.14" height="3.80" fill="#d6a86b"/>
<rect x="1153.14" y="547.75" width="5.14" height="3.80" fill="#d6a86b"/>
<rect x="1158.23" y="547.75" width="5.14" height="3.80" fill="#d6a86b"/>
<rect x="1163.32" y="547.75" width="5.14" height="3.80" fill="#c9e5df"/>
<rect x="1168.41" y="547.75" width="5.14" height="3.80" fill="#aad5cb"/>
<rect x="1127.70" y="551.50" width="5.14" height="3.80" fill="#eef6f3"/>
<rect x="1132.79" y="551.50" width="5.14" height="3.80" fill="#eef6f3"/>
<rect x="1137.88" y="551.50" width="5.14" height="3.80" fill="#eef6f3"/>
<rect x="1142.97" y="551.50" width="5.14" height="3.80" fill="#eef6f3"/>
<rect x="1148.06" y="551.50" width="5.14" height="3.80" fill="#eef6f3"/>
<rect x="1153.14" y="551.50" width="5.14" height="3.80" fill="#eef6f3"/>
<rect x="1158.23" y="551.50" width="5.14" height="3.80" fill="#eef6f3"/>
<rect x="1163.32" y="551.50" width="5.14" height="3.80" fill="#eef6f3"/>
<rect x="1168.41" y="551.50" width="5.14" height="3.80" fill="#b9a76a"/>
<rect x="1127.70" y="555.25" width="5.14" height="3.80" fill="#eef6f3"/>
<rect x="1132.79" y="555.25" width="5.14" height="3.80" fill="#eef6f3"/>
<rect x="1137.88" y="555.25" width="5.14" height="3.80" fill="#c2e2d9"/>
<rect x="1142.97" y="555.25" width="5.14" height="3.80" fill="#eef6f3"/>
<rect x="1148.06" y="555.25" width="5.14" height="3.80" fill="#c2e2d9"/>
<rect x="1153.14" y="555.25" width="5.14" height="3.80" fill="#c2e2d9"/>
<rect x="1158.23" y="555.25" width="5.14" height="3.80" fill="#c2e2d9"/>
<rect x="1163.32" y="555.25" width="5.14" height="3.80" fill="#eef6f3"/>
<rect x="1168.41" y="555.25" width="5.14" height="3.80" fill="#eef6f3"/>
<rect x="1127.70" y="559.00" width="5.14" height="3.80" fill="#eef6f3"/>
<rect x="1132.79" y="559.00" width="5.14" height="3.80" fill="#eef6f3"/>
<rect x="1137.88" y="559.00" width="5.14" height="3.80" fill="#c2e2d9"/>
<rect x="1142.97" y="559.00" width="5.14" height="3.80" fill="#eef6f3"/>
<rect x="1148.06" y="559.00" width="5.14" height="3.80" fill="#c2e2d9"/>
<rect x="1153.14" y="559.00" width="5.14" height="3.80" fill="#c2e2d9"/>
<rect x="1158.23" y="559.00" width="5.14" height="3.80" fill="#c2e2d9"/>
<rect x="1163.32" y="559.00" width="5.14" height="3.80" fill="#eef6f3"/>
<rect x="1168.41" y="559.00" width="5.14" height="3.80" fill="#eef6f3"/>
<rect x="1127.70" y="562.75" width="5.14" height="3.80" fill="#eef6f3"/>
<rect x="1132.79" y="562.75" width="5.14" height="3.80" fill="#bfe1d7"/>
<rect x="1137.88" y="562.75" width="5.14" height="3.80" fill="#bfe1d7"/>
<rect x="1142.97" y="562.75" width="5.14" height="3.80" fill="#eef6f3"/>
<rect x="1148.06" y="562.75" width="5.14" height="3.80" fill="#eef6f3"/>
<rect x="1153.14" y="562.75" width="5.14" height="3.80" fill="#bfe1d7"/>
<rect x="1158.23" y="562.75" width="5.14" height="3.80" fill="#bfe1d7"/>
<rect x="1163.32" y="562.75" width="5.14" height="3.80" fill="#eef6f3"/>
<rect x="1168.41" y="562.75" width="5.14" height="3.80" fill="#eef6f3"/>
<rect x="1127.70" y="566.50" width="5.14" height="3.80" fill="#eef6f3"/>
<rect x="1132.79" y="566.50" width="5.14" height="3.80" fill="#bfe1d7"/>
<rect x="1137.88" y="566.50" width="5.14" height="3.80" fill="#bfe1d7"/>
<rect x="1142.97" y="566.50" width="5.14" height="3.80" fill="#eef6f3"/>
<rect x="1148.06" y="566.50" width="5.14" height="3.80" fill="#eef6f3"/>
<rect x="1153.14" y="566.50" width="5.14" height="3.80" fill="#bfe1d7"/>
<rect x="1158.23" y="566.50" width="5.14" height="3.80" fill="#bfe1d7"/>
<rect x="1163.32" y="566.50" width="5.14" height="3.80" fill="#eef6f3"/>
<rect x="1168.41" y="566.50" width="5.14" height="3.80" fill="#eef6f3"/>
<rect x="1127.70" y="570.25" width="5.14" height="3.80" fill="#eef6f3"/>
<rect x="1132.79" y="570.25" width="5.14" height="3.80" fill="#eef6f3"/>
<rect x="1137.88" y="570.25" width="5.14" height="3.80" fill="#d6ece6"/>
<rect x="1142.97" y="570.25" width="5.14" height="3.80" fill="#d6ece6"/>
<rect x="1148.06" y="570.25" width="5.14" height="3.80" fill="#d6ece6"/>
<rect x="1153.14" y="570.25" width="5.14" height="3.80" fill="#d6ece6"/>
<rect x="1158.23" y="570.25" width="5.14" height="3.80" fill="#d6ece6"/>
<rect x="1163.32" y="570.25" width="5.14" height="3.80" fill="#eef6f3"/>
<rect x="1168.41" y="570.25" width="5.14" height="3.80" fill="#eef6f3"/>
<rect x="1127.70" y="574.00" width="5.14" height="3.80" fill="#eef6f3"/>
<rect x="1132.79" y="574.00" width="5.14" height="3.80" fill="#eef6f3"/>
<rect x="1137.88" y="574.00" width="5.14" height="3.80" fill="#d6ece6"/>
<rect x="1142.97" y="574.00" width="5.14" height="3.80" fill="#d6ece6"/>
<rect x="1148.06" y="574.00" width="5.14" height="3.80" fill="#d6ece6"/>
<rect x="1153.14" y="574.00" width="5.14" height="3.80" fill="#d6ece6"/>
<rect x="1158.23" y="574.00" width="5.14" height="3.80" fill="#d6ece6"/>
<rect x="1163.32" y="574.00" width="5.14" height="3.80" fill="#eef6f3"/>
<rect x="1168.41" y="574.00" width="5.14" height="3.80" fill="#eef6f3"/>
<rect x="1127.70" y="577.75" width="5.14" height="3.80" fill="#eef6f3"/>
<rect x="1132.79" y="577.75" width="5.14" height="3.80" fill="#eef6f3"/>
<rect x="1137.88" y="577.75" width="5.14" height="3.80" fill="#d6ece6"/>
<rect x="1142.97" y="577.75" width="5.14" height="3.80" fill="#d6ece6"/>
<rect x="1148.06" y="577.75" width="5.14" height="3.80" fill="#d6ece6"/>
<rect x="1153.14" y="577.75" width="5.14" height="3.80" fill="#d6ece6"/>
<rect x="1158.23" y="577.75" width="5.14" height="3.80" fill="#d6ece6"/>
<rect x="1163.32" y="577.75" width="5.14" height="3.80" fill="#eef6f3"/>
<rect x="1168.41" y="577.75" width="5.14" height="3.80" fill="#eef6f3"/>
<rect x="1176.61" y="546.00" width="13.39" height="0.6" fill="#b9b9b9"/>
<rect x="1175.06" y="550.86" width="14.94" height="0.6" fill="#b9b9b9"/>
<rect x="1177.90" y="555.71" width="12.10" height="0.6" fill="#b9b9b9"/>
<rect x="1175.67" y="560.57" width="14.33" height="0.6" fill="#b9b9b9"/>
<rect x="1175.55" y="565.43" width="14.45" height="0.6" fill="#b9b9b9"/>
<rect x="1175.31" y="570.29" width="14.69" height="0.6" fill="#b9b9b9"/>
<rect x="1175.75" y="575.14" width="14.25" height="0.6" fill="#b9b9b9"/>
<rect x="1177.45" y="580.00" width="12.55" height="0.6" fill="#b9b9b9"/>
<defs><linearGradient id="cbar4" x1="0" y1="0" x2="0" y2="1"><stop offset="0" stop-color="#9a8070"/><stop offset="0.15" stop-color="#e0a060"/><stop offset="1" stop-color="#b8cfc8"/></linearGradient></defs>
<rect x="1192.00" y="542.50" width="1.60" height="33.00" fill="url(#cbar4)" />
<rect x="1128.50" y="583.00" width="1.80" height="0.60" fill="#bbb" />
<rect x="1133.60" y="583.00" width="1.80" height="0.60" fill="#bbb" />
<rect x="1138.70" y="583.00" width="1.80" height="0.60" fill="#bbb" />
<rect x="1143.80" y="583.00" width="1.80" height="0.60" fill="#bbb" />
<rect x="1148.90" y="583.00" width="1.80" height="0.60" fill="#bbb" />
<rect x="1154.00" y="583.00" width="1.80" height="0.60" fill="#bbb" />
<rect x="1159.10" y="583.00" width="1.80" height="0.60" fill="#bbb" />
<rect x="1164.20" y="583.00" width="1.80" height="0.60" fill="#bbb" />
<rect x="1169.30" y="583.00" width="1.80" height="0.60" fill="#bbb" />
<rect x="691.00" y="415.80" width="162.90" height="193.60" fill="#d7d4e7" stroke="#c3c0d8" stroke-width="0.8"/>
<rect x="691.00" y="415.80" width="162.90" height="13.10" fill="#8c85c2"/>
<text x="772.45" y="426.50" font-size="10.3" fill="#1c1c1c" stroke="#1c1c1c" stroke-width="0.26" text-anchor="middle" >IMMUNE RESPONSE</text>
<text x="769.60" y="440.70" font-size="7.1" fill="#333" font-style="italic" stroke="#333" stroke-width="0.29" text-anchor="middle" >Biomarker</text>
<text x="770.00" y="449.90" font-size="8.3" fill="#222" stroke="#222" stroke-width="0.25" text-anchor="middle" >TIDE: Dysfunction &amp; Exclusion</text>
<text x="770.80" y="459.70" font-size="8.3" fill="#222" stroke="#222" stroke-width="0.25" text-anchor="middle" >MSI | CTL | MDSC | CAF | CD8 | CD274</text>
<rect x="694.90" y="467.80" width="67.20" height="48.10" fill="#fff"/>
<rect x="694.30" y="467.30" width="68.00" height="49.30" fill="#fff"/>
<rect x="694.8" y="472" width="1.3" height="30" fill="#9a9a9a"/>
<rect x="699.5" y="469.3" width="3" height="0.8" fill="#aaa"/>
<rect x="699.5" y="478.1" width="3" height="0.8" fill="#aaa"/>
<rect x="699.5" y="486.3" width="3" height="0.8" fill="#aaa"/>
<rect x="699.5" y="495.6" width="3" height="0.8" fill="#aaa"/>
<rect x="699.5" y="504.6" width="3" height="0.8" fill="#aaa"/>
<line x1="704.7" y1="468.5" x2="704.7" y2="508" stroke="#777" stroke-width="0.5"/>
<rect x="705.60" y="469.70" width="1.2" height="17.00" fill="#777"/>
<rect x="706.80" y="471.00" width="1.2" height="15.70" fill="#7a8a74"/>
<rect x="708.00" y="474.00" width="1.2" height="12.70" fill="#8ea886"/>
<rect x="709.20" y="478.00" width="1.2" height="8.70" fill="#8ea886"/>
<rect x="710.40" y="480.00" width="1.2" height="6.70" fill="#888"/>
<rect x="711.60" y="482.00" width="1.2" height="4.70" fill="#8a9a84"/>
<rect x="712.80" y="484.00" width="1.2" height="2.70" fill="#888"/>
<rect x="714.00" y="486.7" width="1.2" height="7.00" fill="#b6f09a"/>
<rect x="715.20" y="486.7" width="1.2" height="7.60" fill="#b6f09a"/>
<rect x="716.40" y="486.7" width="1.2" height="8.20" fill="#b6f09a"/>
<rect x="717.60" y="486.7" width="1.2" height="8.80" fill="#b6f09a"/>
<rect x="718.80" y="486.7" width="1.2" height="9.40" fill="#b6f09a"/>
<rect x="721.00" y="476.00" width="1" height="10.70" fill="#7c7c7c"/>
<rect x="722.00" y="478.00" width="1" height="8.70" fill="#7c7c7c"/>
<rect x="723.00" y="480.00" width="1" height="6.70" fill="#7c7c7c"/>
<rect x="724.00" y="481.00" width="1" height="5.70" fill="#7c7c7c"/>
<rect x="725.00" y="482.00" width="1" height="4.70" fill="#7c7c7c"/>
<rect x="726.00" y="483.00" width="1" height="3.70" fill="#7c7c7c"/>
<rect x="727.00" y="484.00" width="1" height="2.70" fill="#7c7c7c"/>
<rect x="728.00" y="485.00" width="1" height="1.70" fill="#7c7c7c"/>
<rect x="729.00" y="485.50" width="1" height="1.20" fill="#7c7c7c"/>
<rect x="730.00" y="486.00" width="1" height="0.70" fill="#7c7c7c"/>
<rect x="731.00" y="486.4" width="4" height="0.8" fill="#666"/>
<rect x="735.00" y="486.70" width="1" height="1.30" fill="#b6f09a"/>
<rect x="736.00" y="486.70" width="1" height="1.68" fill="#4a4a4a"/>
<rect x="737.00" y="486.70" width="1" height="2.18" fill="#4a4a4a"/>
<rect x="738.00" y="486.70" width="1" height="2.72" fill="#b6f09a"/>
<rect x="739.00" y="486.70" width="1" height="3.31" fill="#b6f09a"/>
<rect x="740.00" y="486.70" width="1" height="3.93" fill="#b6f09a"/>
<rect x="741.00" y="486.70" width="1" height="4.57" fill="#b6f09a"/>
<rect x="742.00" y="486.70" width="1" height="5.23" fill="#b6f09a"/>
<rect x="743.00" y="486.70" width="1" height="5.92" fill="#4a4a4a"/>
<rect x="744.00" y="486.70" width="1" height="6.62" fill="#b6f09a"/>
<rect x="745.00" y="486.70" width="1" height="7.34" fill="#b6f09a"/>
<rect x="746.00" y="486.70" width="1" height="8.07" fill="#b6f09a"/>
<rect x="747.00" y="486.70" width="1" height="8.81" fill="#b6f09a"/>
<rect x="748.00" y="486.70" width="1" height="9.57" fill="#4a4a4a"/>
<rect x="749.00" y="486.70" width="1" height="10.34" fill="#b6f09a"/>
<rect x="750.00" y="486.70" width="1" height="11.12" fill="#b6f09a"/>
<rect x="751.00" y="486.70" width="1" height="11.91" fill="#b6f09a"/>
<rect x="752.00" y="486.70" width="1" height="12.71" fill="#4a4a4a"/>
<rect x="753.00" y="486.70" width="1" height="13.52" fill="#b6f09a"/>
<rect x="754.00" y="486.70" width="1" height="14.34" fill="#b6f09a"/>
<rect x="755.00" y="486.70" width="1" height="15.17" fill="#4a4a4a"/>
<rect x="756.00" y="486.70" width="1" height="16.00" fill="#b6f09a"/>
<rect x="757.00" y="486.70" width="1" height="16.85" fill="#b6f09a"/>
<rect x="758.00" y="486.70" width="1" height="17.70" fill="#b6f09a"/>
<rect x="759.00" y="486.70" width="1" height="18.56" fill="#b6f09a"/>
<rect x="760.00" y="486.70" width="1" height="19.43" fill="#b6f09a"/>
<rect x="761.00" y="486.70" width="1" height="20.30" fill="#b6f09a"/>
<text x="709.50" y="503.20" font-size="4.6" fill="#333" stroke="#333" stroke-width="0.14" text-anchor="start" >high</text>
<text x="725.50" y="503.20" font-size="4.6" fill="#333" stroke="#333" stroke-width="0.14" text-anchor="start" >low</text>
<text x="715.00" y="509.00" font-size="4.6" fill="#333" stroke="#333" stroke-width="0.14" text-anchor="start" >CTL</text>
<rect x="698.50" y="512.30" width="3.00" height="2.60" fill="#b6f09a" />
<text x="703.00" y="514.80" font-size="4.1" fill="#333" stroke="#333" stroke-width="0.12" text-anchor="start" >Responder</text>
<rect x="726.50" y="512.60" width="2.00" height="2.00" fill="#444" />
<text x="730.30" y="514.80" font-size="4.1" fill="#333" stroke="#333" stroke-width="0.12" text-anchor="start" >Non-responder</text>
<rect x="770.00" y="468.50" width="65.60" height="50.50" fill="#fff"/>
<rect x="774.6" y="470" width="50.4" height="44.5" fill="none" stroke="#e4e4e4" stroke-width="0.4"/>
<line x1="774.6" y1="479" x2="825" y2="479" stroke="#f0f0f0" stroke-width="0.4"/>
<line x1="774.6" y1="487.5" x2="825" y2="487.5" stroke="#f0f0f0" stroke-width="0.4"/>
<line x1="774.6" y1="496" x2="825" y2="496" stroke="#f0f0f0" stroke-width="0.4"/>
<line x1="774.6" y1="504.5" x2="825" y2="504.5" stroke="#f0f0f0" stroke-width="0.4"/>
<line x1="788" y1="479" x2="788" y2="512" stroke="#e8a595" stroke-width="0.5"/>
<rect x="780" y="493" width="16.3" height="10" fill="#fff" stroke="#e8a595" stroke-width="0.6"/>
<line x1="780" y1="497.2" x2="796.3" y2="497.2" stroke="#e8a595" stroke-width="0.8"/>
<line x1="811" y1="472" x2="811" y2="505" stroke="#86cccc" stroke-width="0.5"/>
<rect x="802.2" y="483.8" width="17.6" height="12.2" fill="#fff" stroke="#86cccc" stroke-width="0.6"/>
<line x1="802.2" y1="487.9" x2="819.8" y2="487.9" stroke="#86cccc" stroke-width="0.8"/>
<path d="M790,473 L790,472 L811,472 L811,473" fill="none" stroke="#666" stroke-width="0.4"/>
<rect x="797" y="470.6" width="5" height="0.7" fill="#999"/>
<rect x="772" y="478.65" width="2" height="0.7" fill="#aaa"/>
<rect x="772" y="487.15" width="2" height="0.7" fill="#aaa"/>
<rect x="772" y="495.65" width="2" height="0.7" fill="#aaa"/>
<rect x="772" y="504.15" width="2" height="0.7" fill="#aaa"/>
<rect x="770.8" y="490" width="0.8" height="3" fill="#888"/>
<rect x="795" y="516.5" width="7" height="0.7" fill="#999"/>
<rect x="827.00" y="488.00" width="6.00" height="0.70" fill="#999" />
<rect x="828.00" y="491.00" width="5.00" height="0.60" fill="#bbb" />
<rect x="828.00" y="493.50" width="5.00" height="0.60" fill="#bbb" />
<rect x="692.20" y="525.80" width="159.70" height="73.20" fill="#fff"/>
<rect x="693" y="527.5" width="10" height="0.8" fill="#888"/>
<rect x="708.5" y="527.5" width="18" height="0.8" fill="#888"/>
<rect x="735.8" y="527.5" width="3" height="0.8" fill="#888"/>
<rect x="744" y="527.5" width="5" height="0.8" fill="#888"/>
<rect x="756" y="527.5" width="5" height="0.8" fill="#888"/>
<rect x="771.5" y="527.5" width="5" height="0.8" fill="#888"/>
<rect x="786.5" y="527.5" width="5" height="0.8" fill="#888"/>
<rect x="797.5" y="527.5" width="4" height="0.8" fill="#888"/>
<rect x="806" y="527.5" width="5" height="0.8" fill="#888"/>
<rect x="818.5" y="527.5" width="4" height="0.8" fill="#888"/>
<rect x="829" y="527.5" width="4" height="0.8" fill="#888"/>
<rect x="840" y="527.5" width="3" height="0.8" fill="#888"/>
<rect x="846.5" y="527.5" width="3" height="0.8" fill="#888"/>
<rect x="693" y="532.00" width="10.5" height="1.1" fill="#666"/>
<ellipse cx="710" cy="532.40" rx="2" ry="1.5" fill="#d9d29a"/>
<rect x="744" y="531.20" width="6.5" height="2.4" rx="1.2" fill="#e08c8c"/>
<rect x="735.83" y="532.10" width="2.64" height="0.7" fill="#c0c0c0"/>
<rect x="756.70" y="532.10" width="2.79" height="0.7" fill="#c0c0c0"/>
<rect x="771.52" y="532.10" width="3.40" height="0.7" fill="#c0c0c0"/>
<rect x="787.08" y="532.10" width="3.28" height="0.7" fill="#c0c0c0"/>
<rect x="798.20" y="532.10" width="2.65" height="0.7" fill="#c0c0c0"/>
<rect x="806.87" y="532.10" width="3.58" height="0.7" fill="#c0c0c0"/>
<rect x="818.55" y="532.10" width="2.68" height="0.7" fill="#c0c0c0"/>
<rect x="829.49" y="532.10" width="3.25" height="0.7" fill="#c0c0c0"/>
<rect x="840.28" y="532.10" width="2.68" height="0.7" fill="#c0c0c0"/>
<rect x="846.91" y="532.10" width="2.71" height="0.7" fill="#c0c0c0"/>
<rect x="693" y="536.56" width="10.5" height="1.1" fill="#666"/>
<ellipse cx="710" cy="536.96" rx="2" ry="1.5" fill="#d9d29a"/>
<rect x="744" y="535.76" width="6.5" height="2.4" rx="1.2" fill="#8cc88c"/>
<rect x="736.39" y="536.66" width="3.79" height="0.7" fill="#c0c0c0"/>
<rect x="756.15" y="536.66" width="3.36" height="0.7" fill="#c0c0c0"/>
<rect x="772.25" y="536.66" width="2.75" height="0.7" fill="#c0c0c0"/>
<rect x="787.33" y="536.66" width="3.91" height="0.7" fill="#c0c0c0"/>
<rect x="797.89" y="536.66" width="3.13" height="0.7" fill="#c0c0c0"/>
<rect x="806.84" y="536.66" width="3.29" height="0.7" fill="#c0c0c0"/>
<rect x="818.90" y="536.66" width="3.91" height="0.7" fill="#c0c0c0"/>
<rect x="829.78" y="536.66" width="3.01" height="0.7" fill="#c0c0c0"/>
<rect x="840.24" y="536.66" width="3.00" height="0.7" fill="#c0c0c0"/>
<rect x="846.94" y="536.66" width="3.97" height="0.7" fill="#c0c0c0"/>
<rect x="693" y="541.12" width="10.5" height="1.1" fill="#666"/>
<ellipse cx="710" cy="541.52" rx="2" ry="1.5" fill="#d9d29a"/>
<rect x="744" y="540.32" width="6.5" height="2.4" rx="1.2" fill="#e08c8c"/>
<rect x="736.60" y="541.22" width="3.87" height="0.7" fill="#c0c0c0"/>
<rect x="756.82" y="541.22" width="3.77" height="0.7" fill="#c0c0c0"/>
<rect x="771.55" y="541.22" width="3.28" height="0.7" fill="#c0c0c0"/>
<rect x="787.46" y="541.22" width="3.90" height="0.7" fill="#c0c0c0"/>
<rect x="797.75" y="541.22" width="3.13" height="0.7" fill="#c0c0c0"/>
<rect x="806.63" y="541.22" width="3.05" height="0.7" fill="#c0c0c0"/>
<rect x="819.03" y="541.22" width="2.60" height="0.7" fill="#c0c0c0"/>
<rect x="829.43" y="541.22" width="3.26" height="0.7" fill="#c0c0c0"/>
<rect x="840.02" y="541.22" width="2.71" height="0.7" fill="#c0c0c0"/>
<rect x="847.47" y="541.22" width="3.66" height="0.7" fill="#c0c0c0"/>
<rect x="693" y="545.68" width="10.5" height="1.1" fill="#666"/>
<ellipse cx="710" cy="546.08" rx="2" ry="1.5" fill="#6a8cc8"/>
<rect x="744" y="544.88" width="6.5" height="2.4" rx="1.2" fill="#8cc88c"/>
<rect x="736.74" y="545.78" width="3.45" height="0.7" fill="#c0c0c0"/>
<rect x="756.81" y="545.78" width="3.83" height="0.7" fill="#c0c0c0"/>
<rect x="772.38" y="545.78" width="2.55" height="0.7" fill="#c0c0c0"/>
<rect x="787.14" y="545.78" width="2.90" height="0.7" fill="#c0c0c0"/>
<rect x="798.18" y="545.78" width="2.91" height="0.7" fill="#c0c0c0"/>
<rect x="806.54" y="545.78" width="3.89" height="0.7" fill="#c0c0c0"/>
<rect x="819.12" y="545.78" width="2.88" height="0.7" fill="#c0c0c0"/>
<rect x="829.52" y="545.78" width="3.15" height="0.7" fill="#c0c0c0"/>
<rect x="840.95" y="545.78" width="2.93" height="0.7" fill="#c0c0c0"/>
<rect x="846.81" y="545.78" width="3.47" height="0.7" fill="#c0c0c0"/>
<rect x="693" y="550.24" width="10.5" height="1.1" fill="#666"/>
<ellipse cx="710" cy="550.64" rx="2" ry="1.5" fill="#d9d29a"/>
<rect x="744" y="549.44" width="6.5" height="2.4" rx="1.2" fill="#e08c8c"/>
<rect x="735.92" y="550.34" width="3.39" height="0.7" fill="#c0c0c0"/>
<rect x="756.96" y="550.34" width="3.27" height="0.7" fill="#c0c0c0"/>
<rect x="771.77" y="550.34" width="3.20" height="0.7" fill="#c0c0c0"/>
<rect x="787.03" y="550.34" width="2.72" height="0.7" fill="#c0c0c0"/>
<rect x="797.62" y="550.34" width="2.70" height="0.7" fill="#c0c0c0"/>
<rect x="806.29" y="550.34" width="3.11" height="0.7" fill="#c0c0c0"/>
<rect x="818.79" y="550.34" width="2.87" height="0.7" fill="#c0c0c0"/>
<rect x="829.09" y="550.34" width="3.32" height="0.7" fill="#c0c0c0"/>
<rect x="840.84" y="550.34" width="3.41" height="0.7" fill="#c0c0c0"/>
<rect x="847.07" y="550.34" width="3.48" height="0.7" fill="#c0c0c0"/>
<rect x="693" y="554.80" width="10.5" height="1.1" fill="#666"/>
<ellipse cx="710" cy="555.20" rx="2" ry="1.5" fill="#6a8cc8"/>
<rect x="744" y="554.00" width="6.5" height="2.4" rx="1.2" fill="#e08c8c"/>
<rect x="736.00" y="554.90" width="3.57" height="0.7" fill="#c0c0c0"/>
<rect x="756.46" y="554.90" width="3.32" height="0.7" fill="#c0c0c0"/>
<rect x="772.11" y="554.90" width="3.20" height="0.7" fill="#c0c0c0"/>
<rect x="786.81" y="554.90" width="2.86" height="0.7" fill="#c0c0c0"/>
<rect x="797.72" y="554.90" width="3.27" height="0.7" fill="#c0c0c0"/>
<rect x="806.38" y="554.90" width="3.38" height="0.7" fill="#c0c0c0"/>
<rect x="818.51" y="554.90" width="3.03" height="0.7" fill="#c0c0c0"/>
<rect x="829.86" y="554.90" width="2.86" height="0.7" fill="#c0c0c0"/>
<rect x="840.56" y="554.90" width="3.24" height="0.7" fill="#c0c0c0"/>
<rect x="846.78" y="554.90" width="3.98" height="0.7" fill="#c0c0c0"/>
<rect x="693" y="559.36" width="10.5" height="1.1" fill="#666"/>
<ellipse cx="710" cy="559.76" rx="2" ry="1.5" fill="#d9d29a"/>
<rect x="744" y="558.56" width="6.5" height="2.4" rx="1.2" fill="#e08c8c"/>
<rect x="736.10" y="559.46" width="3.66" height="0.7" fill="#c0c0c0"/>
<rect x="756.16" y="559.46" width="2.60" height="0.7" fill="#c0c0c0"/>
<rect x="772.37" y="559.46" width="3.16" height="0.7" fill="#c0c0c0"/>
<rect x="786.56" y="559.46" width="3.08" height="0.7" fill="#c0c0c0"/>
<rect x="797.94" y="559.46" width="3.60" height="0.7" fill="#c0c0c0"/>
<rect x="806.11" y="559.46" width="2.84" height="0.7" fill="#c0c0c0"/>
<rect x="819.46" y="559.46" width="3.61" height="0.7" fill="#c0c0c0"/>
<rect x="829.15" y="559.46" width="3.01" height="0.7" fill="#c0c0c0"/>
<rect x="840.35" y="559.46" width="3.51" height="0.7" fill="#c0c0c0"/>
<rect x="847.12" y="559.46" width="3.77" height="0.7" fill="#c0c0c0"/>
<rect x="693" y="563.92" width="10.5" height="1.1" fill="#666"/>
<ellipse cx="710" cy="564.32" rx="2" ry="1.5" fill="#6a8cc8"/>
<rect x="744" y="563.12" width="6.5" height="2.4" rx="1.2" fill="#e08c8c"/>
<rect x="736.62" y="564.02" width="3.28" height="0.7" fill="#c0c0c0"/>
<rect x="756.74" y="564.02" width="3.61" height="0.7" fill="#c0c0c0"/>
<rect x="772.26" y="564.02" width="3.21" height="0.7" fill="#c0c0c0"/>
<rect x="787.28" y="564.02" width="3.56" height="0.7" fill="#c0c0c0"/>
<rect x="798.41" y="564.02" width="2.69" height="0.7" fill="#c0c0c0"/>
<rect x="806.87" y="564.02" width="2.51" height="0.7" fill="#c0c0c0"/>
<rect x="819.27" y="564.02" width="3.38" height="0.7" fill="#c0c0c0"/>
<rect x="829.50" y="564.02" width="3.94" height="0.7" fill="#c0c0c0"/>
<rect x="840.57" y="564.02" width="3.13" height="0.7" fill="#c0c0c0"/>
<rect x="847.28" y="564.02" width="3.81" height="0.7" fill="#c0c0c0"/>
<rect x="693" y="568.48" width="10.5" height="1.1" fill="#666"/>
<ellipse cx="710" cy="568.88" rx="2" ry="1.5" fill="#6a8cc8"/>
<rect x="744" y="567.68" width="6.5" height="2.4" rx="1.2" fill="#e08c8c"/>
<rect x="736.41" y="568.58" width="3.07" height="0.7" fill="#c0c0c0"/>
<rect x="756.45" y="568.58" width="3.19" height="0.7" fill="#c0c0c0"/>
<rect x="772.22" y="568.58" width="2.94" height="0.7" fill="#c0c0c0"/>
<rect x="786.89" y="568.58" width="3.33" height="0.7" fill="#c0c0c0"/>
<rect x="797.88" y="568.58" width="2.98" height="0.7" fill="#c0c0c0"/>
<rect x="806.79" y="568.58" width="3.77" height="0.7" fill="#c0c0c0"/>
<rect x="819.00" y="568.58" width="3.17" height="0.7" fill="#c0c0c0"/>
<rect x="829.18" y="568.58" width="2.96" height="0.7" fill="#c0c0c0"/>
<rect x="840.14" y="568.58" width="3.36" height="0.7" fill="#c0c0c0"/>
<rect x="847.08" y="568.58" width="2.63" height="0.7" fill="#c0c0c0"/>
<rect x="693" y="573.04" width="10.5" height="1.1" fill="#666"/>
<ellipse cx="710" cy="573.44" rx="2" ry="1.5" fill="#d9d29a"/>
<rect x="744" y="572.24" width="6.5" height="2.4" rx="1.2" fill="#e08c8c"/>
<rect x="736.72" y="573.14" width="2.99" height="0.7" fill="#c0c0c0"/>
<rect x="756.84" y="573.14" width="3.76" height="0.7" fill="#c0c0c0"/>
<rect x="772.46" y="573.14" width="2.81" height="0.7" fill="#c0c0c0"/>
<rect x="786.93" y="573.14" width="3.87" height="0.7" fill="#c0c0c0"/>
<rect x="797.51" y="573.14" width="2.57" height="0.7" fill="#c0c0c0"/>
<rect x="806.56" y="573.14" width="3.25" height="0.7" fill="#c0c0c0"/>
<rect x="819.42" y="573.14" width="3.66" height="0.7" fill="#c0c0c0"/>
<rect x="829.54" y="573.14" width="4.00" height="0.7" fill="#c0c0c0"/>
<rect x="840.52" y="573.14" width="3.28" height="0.7" fill="#c0c0c0"/>
<rect x="847.19" y="573.14" width="3.08" height="0.7" fill="#c0c0c0"/>
<rect x="693" y="577.60" width="10.5" height="1.1" fill="#666"/>
<ellipse cx="710" cy="578.00" rx="2" ry="1.5" fill="#6a8cc8"/>
<rect x="744" y="576.80" width="6.5" height="2.4" rx="1.2" fill="#e08c8c"/>
<rect x="736.16" y="577.70" width="3.39" height="0.7" fill="#c0c0c0"/>
<rect x="756.35" y="577.70" width="3.92" height="0.7" fill="#c0c0c0"/>
<rect x="772.18" y="577.70" width="3.29" height="0.7" fill="#c0c0c0"/>
<rect x="786.60" y="577.70" width="3.06" height="0.7" fill="#c0c0c0"/>
<rect x="797.90" y="577.70" width="3.34" height="0.7" fill="#c0c0c0"/>
<rect x="806.57" y="577.70" width="3.82" height="0.7" fill="#c0c0c0"/>
<rect x="819.46" y="577.70" width="3.23" height="0.7" fill="#c0c0c0"/>
<rect x="829.44" y="577.70" width="3.44" height="0.7" fill="#c0c0c0"/>
<rect x="841.00" y="577.70" width="3.01" height="0.7" fill="#c0c0c0"/>
<rect x="847.03" y="577.70" width="3.72" height="0.7" fill="#c0c0c0"/>
<rect x="693" y="582.16" width="10.5" height="1.1" fill="#666"/>
<ellipse cx="710" cy="582.56" rx="2" ry="1.5" fill="#d9d29a"/>
<rect x="744" y="581.36" width="6.5" height="2.4" rx="1.2" fill="#e08c8c"/>
<rect x="735.97" y="582.26" width="2.98" height="0.7" fill="#c0c0c0"/>
<rect x="756.98" y="582.26" width="3.74" height="0.7" fill="#c0c0c0"/>
<rect x="772.01" y="582.26" width="2.67" height="0.7" fill="#c0c0c0"/>
<rect x="787.39" y="582.26" width="3.53" height="0.7" fill="#c0c0c0"/>
<rect x="798.32" y="582.26" width="3.99" height="0.7" fill="#c0c0c0"/>
<rect x="806.89" y="582.26" width="3.13" height="0.7" fill="#c0c0c0"/>
<rect x="818.66" y="582.26" width="2.93" height="0.7" fill="#c0c0c0"/>
<rect x="829.51" y="582.26" width="3.26" height="0.7" fill="#c0c0c0"/>
<rect x="840.19" y="582.26" width="2.77" height="0.7" fill="#c0c0c0"/>
<rect x="847.13" y="582.26" width="3.40" height="0.7" fill="#c0c0c0"/>
<rect x="693" y="586.72" width="10.5" height="1.1" fill="#666"/>
<ellipse cx="710" cy="587.12" rx="2" ry="1.5" fill="#6a8cc8"/>
<rect x="744" y="585.92" width="6.5" height="2.4" rx="1.2" fill="#e08c8c"/>
<rect x="736.15" y="586.82" width="3.99" height="0.7" fill="#c0c0c0"/>
<rect x="756.64" y="586.82" width="2.56" height="0.7" fill="#c0c0c0"/>
<rect x="771.91" y="586.82" width="3.68" height="0.7" fill="#c0c0c0"/>
<rect x="786.81" y="586.82" width="3.54" height="0.7" fill="#c0c0c0"/>
<rect x="797.50" y="586.82" width="2.96" height="0.7" fill="#c0c0c0"/>
<rect x="806.84" y="586.82" width="3.38" height="0.7" fill="#c0c0c0"/>
<rect x="819.17" y="586.82" width="2.79" height="0.7" fill="#c0c0c0"/>
<rect x="829.50" y="586.82" width="3.33" height="0.7" fill="#c0c0c0"/>
<rect x="840.27" y="586.82" width="3.47" height="0.7" fill="#c0c0c0"/>
<rect x="847.03" y="586.82" width="4.00" height="0.7" fill="#c0c0c0"/>
<rect x="693" y="591.28" width="10.5" height="1.1" fill="#666"/>
<ellipse cx="710" cy="591.68" rx="2" ry="1.5" fill="#6a8cc8"/>
<rect x="744" y="590.48" width="6.5" height="2.4" rx="1.2" fill="#e08c8c"/>
<rect x="736.37" y="591.38" width="3.12" height="0.7" fill="#c0c0c0"/>
<rect x="756.12" y="591.38" width="2.74" height="0.7" fill="#c0c0c0"/>
<rect x="772.26" y="591.38" width="2.66" height="0.7" fill="#c0c0c0"/>
<rect x="786.60" y="591.38" width="2.76" height="0.7" fill="#c0c0c0"/>
<rect x="798.02" y="591.38" width="3.73" height="0.7" fill="#c0c0c0"/>
<rect x="806.61" y="591.38" width="3.71" height="0.7" fill="#c0c0c0"/>
<rect x="818.56" y="591.38" width="2.52" height="0.7" fill="#c0c0c0"/>
<rect x="829.77" y="591.38" width="2.98" height="0.7" fill="#c0c0c0"/>
<rect x="840.72" y="591.38" width="3.03" height="0.7" fill="#c0c0c0"/>
<rect x="846.67" y="591.38" width="2.90" height="0.7" fill="#c0c0c0"/>
<rect x="693" y="595.84" width="10.5" height="1.1" fill="#666"/>
<ellipse cx="710" cy="596.24" rx="2" ry="1.5" fill="#d9d29a"/>
<rect x="744" y="595.04" width="6.5" height="2.4" rx="1.2" fill="#e08c8c"/>
<rect x="735.90" y="595.94" width="3.86" height="0.7" fill="#c0c0c0"/>
<rect x="756.58" y="595.94" width="3.02" height="0.7" fill="#c0c0c0"/>
<rect x="771.95" y="595.94" width="3.08" height="0.7" fill="#c0c0c0"/>
<rect x="786.55" y="595.94" width="3.84" height="0.7" fill="#c0c0c0"/>
<rect x="798.08" y="595.94" width="3.94" height="0.7" fill="#c0c0c0"/>
<rect x="806.44" y="595.94" width="3.43" height="0.7" fill="#c0c0c0"/>
<rect x="818.75" y="595.94" width="2.57" height="0.7" fill="#c0c0c0"/>
<rect x="829.93" y="595.94" width="3.78" height="0.7" fill="#c0c0c0"/>
<rect x="840.31" y="595.94" width="3.85" height="0.7" fill="#c0c0c0"/>
<rect x="847.32" y="595.94" width="2.96" height="0.7" fill="#c0c0c0"/>
<rect x="874.20" y="417.90" width="149.30" height="191.70" fill="#e0e9da" stroke="#ccd8c4" stroke-width="0.8"/>
<rect x="874.20" y="417.90" width="149.30" height="13.30" fill="#a1c28c"/>
<text x="948.85" y="428.80" font-size="10.4" fill="#1c1c1c" stroke="#1c1c1c" stroke-width="0.26" text-anchor="middle" >IMMUNE REPERTOIRE</text>
<text x="945.20" y="441.00" font-size="7.1" fill="#333" font-style="italic" stroke="#333" stroke-width="0.29" text-anchor="middle" >TCR and BCR</text>
<text x="945.40" y="450.10" font-size="8.1" fill="#222" stroke="#222" stroke-width="0.24" text-anchor="middle" >TRUST4</text>
<rect x="878.10" y="455.20" width="67.70" height="58.90" fill="#fff"/>
<rect x="900.7" y="457.4" width="40.5" height="44" fill="none" stroke="#dcdcdc" stroke-width="0.4"/>
<line x1="900.7" y1="471.2" x2="941.2" y2="471.2" stroke="#ececec" stroke-width="0.4"/>
<line x1="900.7" y1="486.6" x2="941.2" y2="486.6" stroke="#ececec" stroke-width="0.4"/>
<line x1="911.5" y1="457.4" x2="911.5" y2="501.4" stroke="#f0f0f0" stroke-width="0.4"/>
<line x1="930.4" y1="457.4" x2="930.4" y2="501.4" stroke="#f0f0f0" stroke-width="0.4"/>
<text x="0" y="0" font-size="3.9" fill="#444" transform="translate(883.3,500) rotate(-90)">Fraction of TCR reads</text>
<text x="898.80" y="472.50" font-size="3.6" fill="#444" stroke="#444" stroke-width="0.11" text-anchor="end" >1e-05</text>
<rect x="899.3" y="470.9" width="1.4" height="0.6" fill="#777"/>
<text x="898.80" y="487.90" font-size="3.6" fill="#444" stroke="#444" stroke-width="0.11" text-anchor="end" >5e-06</text>
<rect x="899.3" y="486.3" width="1.4" height="0.6" fill="#777"/>
<text x="898.80" y="502.70" font-size="3.6" fill="#444" stroke="#444" stroke-width="0.11" text-anchor="end" >0e+00</text>
<rect x="899.3" y="501.09999999999997" width="1.4" height="0.6" fill="#777"/>
<text x="920.80" y="461.00" font-size="3.6" fill="#444" stroke="#444" stroke-width="0.11" text-anchor="middle" >ns</text>
<path d="M906.5,494.5 L906.5,492 Q906.5,490.8 908,490.8 L915,490.8 Q916.5,490.8 916.5,492 L916.5,494.5 Z" fill="#c9ddd1" stroke="#5d8070" stroke-width="0.55"/>
<line x1="911.5" y1="490.8" x2="911.5" y2="494.5" stroke="#5d8070" stroke-width="0.5"/>
<rect x="904.6" y="494.5" width="15" height="4.2" fill="#fff" stroke="#444" stroke-width="0.6"/>
<path d="M903.4,499 Q903.4,501.3 906,501.3 L917.5,501.3 Q920,501.3 920,499 Z" fill="#9aa" stroke="#333" stroke-width="0.6"/>
<line x1="911.5" y1="501.5" x2="911.5" y2="504" stroke="#555" stroke-width="0.5"/>
<path d="M930.4,466 L930.9,486 Q931.5,489 934,490.5 L926.8,490.5 Q929.3,489 929.9,486 Z" fill="#9d8e8e" stroke="#555" stroke-width="0.5"/>
<circle cx="930.4" cy="466.2" r="0.9" fill="#222"/>
<circle cx="930.4" cy="474.2" r="0.8" fill="#333"/>
<rect x="923.6" y="491" width="14.2" height="10" fill="#fff" stroke="#555" stroke-width="0.55"/>
<rect x="923.9" y="497" width="13.6" height="3.7" fill="#b3aaaa"/>
<line x1="930.4" y1="501.5" x2="930.4" y2="504" stroke="#555" stroke-width="0.5"/>
<text x="0" y="0" font-size="3.8" fill="#444" transform="translate(912.8,510.5) rotate(-75)">R</text>
<text x="0" y="0" font-size="3.8" fill="#444" transform="translate(931.5,508.5) rotate(-75)">NR</text>
<rect x="951.70" y="455.20" width="64.10" height="58.80" fill="#fff"/>
<rect x="964.3" y="458.20" width="16.9" height="4.40" fill="#f4d97a"/>
<rect x="964.3" y="462.60" width="16.9" height="5.20" fill="#d88cb8"/>
<rect x="964.3" y="467.80" width="16.9" height="25.00" fill="#d96a6a"/>
<rect x="964.3" y="492.80" width="16.9" height="9.60" fill="#a9cde8"/>
<rect x="964.3" y="502.40" width="16.9" height="5.10" fill="#a0424a"/>
<rect x="964.3" y="507.50" width="16.9" height="3.40" fill="#8890d8"/>
<rect x="983.4" y="458.20" width="16.9" height="3.70" fill="#f4d97a"/>
<rect x="983.4" y="461.90" width="16.9" height="39.00" fill="#d96a6a"/>
<rect x="983.4" y="500.90" width="16.9" height="1.00" fill="#f0e0e0"/>
<rect x="983.4" y="501.90" width="16.9" height="5.60" fill="#a0424a"/>
<rect x="983.4" y="507.50" width="16.9" height="3.40" fill="#8890d8"/>
<rect x="956.83" y="458.00" width="5.17" height="0.6" fill="#aaa"/>
<rect x="957.03" y="471.25" width="4.97" height="0.6" fill="#aaa"/>
<rect x="956.77" y="484.50" width="5.23" height="0.6" fill="#aaa"/>
<rect x="957.02" y="497.75" width="4.98" height="0.6" fill="#aaa"/>
<rect x="956.63" y="511.00" width="5.37" height="0.6" fill="#aaa"/>
<rect x="953.8" y="470" width="0.9" height="30" fill="#888"/>
<rect x="1008.00" y="472.00" width="1.80" height="1.80" fill="#f4d97a" />
<rect x="1011.00" y="472.40" width="3.00" height="0.60" fill="#bbb" />
<rect x="1008.00" y="475.20" width="1.80" height="1.80" fill="#aaa" />
<rect x="1011.00" y="475.60" width="3.00" height="0.60" fill="#bbb" />
<rect x="1008.00" y="478.40" width="1.80" height="1.80" fill="#c0a0c0" />
<rect x="1011.00" y="478.80" width="3.00" height="0.60" fill="#bbb" />
<rect x="1008.00" y="481.60" width="1.80" height="1.80" fill="#d88cb8" />
<rect x="1011.00" y="482.00" width="3.00" height="0.60" fill="#bbb" />
<rect x="1008.00" y="484.80" width="1.80" height="1.80" fill="#f0d0d0" />
<rect x="1011.00" y="485.20" width="3.00" height="0.60" fill="#bbb" />
<rect x="1008.00" y="488.00" width="1.80" height="1.80" fill="#802040" />
<rect x="1011.00" y="488.40" width="3.00" height="0.60" fill="#bbb" />
<rect x="1008.00" y="491.20" width="1.80" height="1.80" fill="#a05080" />
<rect x="1011.00" y="491.60" width="3.00" height="0.60" fill="#bbb" />
<rect x="1008.00" y="494.40" width="1.80" height="1.80" fill="#6070c0" />
<rect x="1011.00" y="494.80" width="3.00" height="0.60" fill="#bbb" />
<rect x="1008.00" y="497.60" width="1.80" height="1.80" fill="#90a0e0" />
<rect x="1011.00" y="498.00" width="3.00" height="0.60" fill="#bbb" />
<rect x="876.60" y="517.00" width="146.40" height="90.00" fill="#fff"/>
<rect x="885.30" y="518.90" width="74.03" height="2.08" fill="#bb9db5"/>
<rect x="959.28" y="518.90" width="26.08" height="2.08" fill="#9fabdc"/>
<rect x="985.31" y="518.90" width="28.82" height="2.08" fill="#cf8290"/>
<rect x="1014.08" y="518.90" width="8.27" height="2.08" fill="#a399cc"/>
<rect x="885.30" y="520.93" width="17.86" height="2.08" fill="#bcc3e3"/>
<rect x="903.11" y="520.93" width="56.22" height="2.08" fill="#e6b48a"/>
<rect x="959.28" y="520.93" width="27.45" height="2.08" fill="#9fabdc"/>
<rect x="986.68" y="520.93" width="27.45" height="2.08" fill="#cf8290"/>
<rect x="1014.08" y="520.93" width="8.27" height="2.08" fill="#6f9c90"/>
<rect x="885.3" y="522.61" width="137.00" height="0.35" fill="#fff" opacity="0.35"/>
<rect x="885.30" y="522.96" width="8.27" height="2.08" fill="#9fabdc"/>
<rect x="893.52" y="522.96" width="15.12" height="2.08" fill="#c2dea4"/>
<rect x="908.59" y="522.96" width="61.70" height="2.08" fill="#e6b48a"/>
<rect x="970.24" y="522.96" width="15.12" height="2.08" fill="#9fabdc"/>
<rect x="985.31" y="522.96" width="26.08" height="2.08" fill="#cf8290"/>
<rect x="1011.34" y="522.96" width="4.16" height="2.08" fill="#e6deae"/>
<rect x="1015.45" y="522.96" width="6.90" height="2.08" fill="#6f9c90"/>
<rect x="885.30" y="524.99" width="6.90" height="2.08" fill="#9fabdc"/>
<rect x="892.15" y="524.99" width="19.23" height="2.08" fill="#c2dea4"/>
<rect x="911.33" y="524.99" width="8.27" height="2.08" fill="#e6b48a"/>
<rect x="919.55" y="524.99" width="34.30" height="2.08" fill="#a399cc"/>
<rect x="953.80" y="524.99" width="48.00" height="2.08" fill="#cf8290"/>
<rect x="1001.75" y="524.99" width="20.60" height="2.08" fill="#6f9c90"/>
<rect x="885.3" y="526.67" width="137.00" height="0.35" fill="#fff" opacity="0.35"/>
<rect x="885.30" y="527.02" width="8.27" height="2.08" fill="#9fabdc"/>
<rect x="893.52" y="527.02" width="19.23" height="2.08" fill="#c2dea4"/>
<rect x="912.70" y="527.02" width="23.34" height="2.08" fill="#e6b48a"/>
<rect x="935.99" y="527.02" width="17.86" height="2.08" fill="#a399cc"/>
<rect x="953.80" y="527.02" width="30.19" height="2.08" fill="#cf8290"/>
<rect x="983.94" y="527.02" width="13.75" height="2.08" fill="#9fabdc"/>
<rect x="997.64" y="527.02" width="24.71" height="2.08" fill="#6f9c90"/>
<rect x="885.30" y="529.05" width="8.27" height="2.08" fill="#9fabdc"/>
<rect x="893.52" y="529.05" width="13.75" height="2.08" fill="#c2dea4"/>
<rect x="907.22" y="529.05" width="37.04" height="2.08" fill="#e6b48a"/>
<rect x="944.21" y="529.05" width="34.30" height="2.08" fill="#9fabdc"/>
<rect x="978.46" y="529.05" width="27.45" height="2.08" fill="#cf8290"/>
<rect x="1005.86" y="529.05" width="16.49" height="2.08" fill="#6f9c90"/>
<rect x="885.3" y="530.73" width="137.00" height="0.35" fill="#fff" opacity="0.35"/>
<rect x="885.30" y="531.08" width="8.27" height="2.08" fill="#9fabdc"/>
<rect x="893.52" y="531.08" width="12.38" height="2.08" fill="#c2dea4"/>
<rect x="905.85" y="531.08" width="38.41" height="2.08" fill="#e6b48a"/>
<rect x="944.21" y="531.08" width="37.04" height="2.08" fill="#9fabdc"/>
<rect x="981.20" y="531.08" width="31.56" height="2.08" fill="#cf8290"/>
<rect x="1012.71" y="531.08" width="2.79" height="2.08" fill="#e6deae"/>
<rect x="1015.45" y="531.08" width="6.90" height="2.08" fill="#6f9c90"/>
<rect x="885.30" y="533.11" width="30.19" height="2.08" fill="#bcc3e3"/>
<rect x="915.44" y="533.11" width="13.75" height="2.08" fill="#c2dea4"/>
<rect x="929.14" y="533.11" width="34.30" height="2.08" fill="#e6b48a"/>
<rect x="963.39" y="533.11" width="20.60" height="2.08" fill="#9fabdc"/>
<rect x="983.94" y="533.11" width="8.27" height="2.08" fill="#e6deae"/>
<rect x="992.16" y="533.11" width="13.75" height="2.08" fill="#9fabdc"/>
<rect x="1005.86" y="533.11" width="8.27" height="2.08" fill="#cf8290"/>
<rect x="1014.08" y="533.11" width="8.27" height="2.08" fill="#6f9c90"/>
<rect x="885.3" y="534.79" width="137.00" height="0.35" fill="#fff" opacity="0.35"/>
<rect x="885.30" y="535.14" width="30.19" height="2.08" fill="#bcc3e3"/>
<rect x="915.44" y="535.14" width="13.75" height="2.08" fill="#c2dea4"/>
<rect x="929.14" y="535.14" width="34.30" height="2.08" fill="#e6b48a"/>
<rect x="963.39" y="535.14" width="17.86" height="2.08" fill="#bcc3e3"/>
<rect x="981.20" y="535.14" width="9.64" height="2.08" fill="#9fabdc"/>
<rect x="990.79" y="535.14" width="8.27" height="2.08" fill="#e6deae"/>
<rect x="999.01" y="535.14" width="23.34" height="2.08" fill="#9fabdc"/>
<rect x="885.30" y="537.17" width="4.16" height="2.08" fill="#9fabdc"/>
<rect x="889.41" y="537.17" width="5.53" height="2.08" fill="#333333"/>
<rect x="894.89" y="537.17" width="4.16" height="2.08" fill="#c2dea4"/>
<rect x="899.00" y="537.17" width="63.07" height="2.08" fill="#e6b48a"/>
<rect x="962.02" y="537.17" width="27.45" height="2.08" fill="#9fabdc"/>
<rect x="989.42" y="537.17" width="27.45" height="2.08" fill="#cf8290"/>
<rect x="1016.82" y="537.17" width="5.53" height="2.08" fill="#6f9c90"/>
<rect x="885.3" y="538.85" width="137.00" height="0.35" fill="#fff" opacity="0.35"/>
<rect x="885.30" y="539.20" width="13.75" height="2.08" fill="#9fabdc"/>
<rect x="899.00" y="539.20" width="63.07" height="2.08" fill="#e6b48a"/>
<rect x="962.02" y="539.20" width="24.71" height="2.08" fill="#9fabdc"/>
<rect x="986.68" y="539.20" width="12.38" height="2.08" fill="#cf8290"/>
<rect x="999.01" y="539.20" width="23.34" height="2.08" fill="#e6deae"/>
<rect x="885.30" y="541.23" width="76.77" height="2.08" fill="#e6b48a"/>
<rect x="962.02" y="541.23" width="24.71" height="2.08" fill="#9fabdc"/>
<rect x="986.68" y="541.23" width="13.75" height="2.08" fill="#cf8290"/>
<rect x="1000.38" y="541.23" width="21.97" height="2.08" fill="#e6deae"/>
<rect x="885.3" y="542.91" width="137.00" height="0.35" fill="#fff" opacity="0.35"/>
<rect x="885.30" y="543.26" width="137.05" height="2.08" fill="#cf8290"/>
<rect x="885.30" y="545.29" width="137.05" height="2.08" fill="#cf8290"/>
<rect x="885.3" y="546.97" width="137.00" height="0.35" fill="#fff" opacity="0.35"/>
<rect x="885.30" y="547.32" width="68.55" height="2.08" fill="#bcc3e3"/>
<rect x="953.80" y="547.32" width="68.55" height="2.08" fill="#9fabdc"/>
<rect x="885.30" y="549.35" width="68.55" height="2.08" fill="#e6b48a"/>
<rect x="953.80" y="549.35" width="68.55" height="2.08" fill="#9fabdc"/>
<rect x="885.3" y="551.03" width="137.00" height="0.35" fill="#fff" opacity="0.35"/>
<rect x="885.30" y="551.38" width="21.97" height="2.08" fill="#bcc3e3"/>
<rect x="907.22" y="551.38" width="12.38" height="2.08" fill="#a399cc"/>
<rect x="919.55" y="551.38" width="9.64" height="2.08" fill="#e6b48a"/>
<rect x="929.14" y="551.38" width="93.21" height="2.08" fill="#e6deae"/>
<rect x="885.30" y="553.41" width="41.15" height="2.08" fill="#e6b48a"/>
<rect x="926.40" y="553.41" width="41.15" height="2.08" fill="#cf8290"/>
<rect x="967.50" y="553.41" width="54.85" height="2.08" fill="#6f9c90"/>
<rect x="885.3" y="555.09" width="137.00" height="0.35" fill="#fff" opacity="0.35"/>
<rect x="885.30" y="555.44" width="5.53" height="2.08" fill="#9fabdc"/>
<rect x="890.78" y="555.44" width="5.53" height="2.08" fill="#c2dea4"/>
<rect x="896.26" y="555.44" width="30.19" height="2.08" fill="#e6b48a"/>
<rect x="926.40" y="555.44" width="50.74" height="2.08" fill="#a399cc"/>
<rect x="977.09" y="555.44" width="31.56" height="2.08" fill="#9fabdc"/>
<rect x="1008.60" y="555.44" width="9.64" height="2.08" fill="#cf8290"/>
<rect x="1018.19" y="555.44" width="4.16" height="2.08" fill="#6f9c90"/>
<rect x="885.30" y="557.47" width="5.53" height="2.08" fill="#9fabdc"/>
<rect x="890.78" y="557.47" width="5.53" height="2.08" fill="#c2dea4"/>
<rect x="896.26" y="557.47" width="41.15" height="2.08" fill="#e6b48a"/>
<rect x="937.36" y="557.47" width="41.15" height="2.08" fill="#a399cc"/>
<rect x="978.46" y="557.47" width="27.45" height="2.08" fill="#9fabdc"/>
<rect x="1005.86" y="557.47" width="12.38" height="2.08" fill="#cf8290"/>
<rect x="1018.19" y="557.47" width="4.16" height="2.08" fill="#6f9c90"/>
<rect x="885.3" y="559.15" width="137.00" height="0.35" fill="#fff" opacity="0.35"/>
<rect x="885.30" y="559.50" width="12.38" height="2.08" fill="#9fabdc"/>
<rect x="897.63" y="559.50" width="4.16" height="2.08" fill="#333333"/>
<rect x="901.74" y="559.50" width="42.52" height="2.08" fill="#9fabdc"/>
<rect x="944.21" y="559.50" width="37.04" height="2.08" fill="#e6b48a"/>
<rect x="981.20" y="559.50" width="23.34" height="2.08" fill="#9fabdc"/>
<rect x="1004.49" y="559.50" width="11.01" height="2.08" fill="#cf8290"/>
<rect x="1015.45" y="559.50" width="6.90" height="2.08" fill="#6f9c90"/>
<rect x="885.30" y="561.53" width="58.96" height="2.08" fill="#9fabdc"/>
<rect x="944.21" y="561.53" width="37.04" height="2.08" fill="#e6b48a"/>
<rect x="981.20" y="561.53" width="27.45" height="2.08" fill="#cf8290"/>
<rect x="1008.60" y="561.53" width="13.75" height="2.08" fill="#6f9c90"/>
<rect x="885.3" y="563.21" width="137.00" height="0.35" fill="#fff" opacity="0.35"/>
<rect x="885.30" y="563.56" width="8.27" height="2.08" fill="#9fabdc"/>
<rect x="893.52" y="563.56" width="50.74" height="2.08" fill="#e6b48a"/>
<rect x="944.21" y="563.56" width="38.41" height="2.08" fill="#cf8290"/>
<rect x="982.57" y="563.56" width="19.23" height="2.08" fill="#a399cc"/>
<rect x="1001.75" y="563.56" width="11.01" height="2.08" fill="#cf8290"/>
<rect x="1012.71" y="563.56" width="9.64" height="2.08" fill="#6f9c90"/>
<rect x="885.30" y="565.59" width="8.27" height="2.08" fill="#9fabdc"/>
<rect x="893.52" y="565.59" width="68.55" height="2.08" fill="#e6b48a"/>
<rect x="962.02" y="565.59" width="27.45" height="2.08" fill="#cf8290"/>
<rect x="989.42" y="565.59" width="19.23" height="2.08" fill="#9fabdc"/>
<rect x="1008.60" y="565.59" width="13.75" height="2.08" fill="#6f9c90"/>
<rect x="885.3" y="567.27" width="137.00" height="0.35" fill="#fff" opacity="0.35"/>
<rect x="885.30" y="567.62" width="68.55" height="2.08" fill="#e6b48a"/>
<rect x="953.80" y="567.62" width="68.55" height="2.08" fill="#9fabdc"/>
<rect x="885.30" y="569.65" width="68.55" height="2.08" fill="#e6b48a"/>
<rect x="953.80" y="569.65" width="68.55" height="2.08" fill="#9fabdc"/>
<rect x="885.3" y="571.33" width="137.00" height="0.35" fill="#fff" opacity="0.35"/>
<rect x="885.30" y="571.68" width="30.19" height="2.08" fill="#bcc3e3"/>
<rect x="915.44" y="571.68" width="60.33" height="2.08" fill="#9fabdc"/>
<rect x="975.72" y="571.68" width="30.19" height="2.08" fill="#a399cc"/>
<rect x="1005.86" y="571.68" width="16.49" height="2.08" fill="#cf8290"/>
<rect x="885.30" y="573.71" width="41.15" height="2.08" fill="#bcc3e3"/>
<rect x="926.40" y="573.71" width="54.85" height="2.08" fill="#9fabdc"/>
<rect x="981.20" y="573.71" width="24.71" height="2.08" fill="#a399cc"/>
<rect x="1005.86" y="573.71" width="16.49" height="2.08" fill="#cf8290"/>
<rect x="885.3" y="575.39" width="137.00" height="0.35" fill="#fff" opacity="0.35"/>
<rect x="885.30" y="575.74" width="13.75" height="2.08" fill="#c2dea4"/>
<rect x="899.00" y="575.74" width="21.97" height="2.08" fill="#e6b48a"/>
<rect x="920.92" y="575.74" width="20.60" height="2.08" fill="#333333"/>
<rect x="941.47" y="575.74" width="42.52" height="2.08" fill="#9fabdc"/>
<rect x="983.94" y="575.74" width="21.97" height="2.08" fill="#a399cc"/>
<rect x="1005.86" y="575.74" width="9.64" height="2.08" fill="#cf8290"/>
<rect x="1015.45" y="575.74" width="6.90" height="2.08" fill="#6f9c90"/>
<rect x="885.30" y="577.77" width="13.75" height="2.08" fill="#c2dea4"/>
<rect x="899.00" y="577.77" width="21.97" height="2.08" fill="#e6b48a"/>
<rect x="920.92" y="577.77" width="75.40" height="2.08" fill="#9fabdc"/>
<rect x="996.27" y="577.77" width="16.49" height="2.08" fill="#cf8290"/>
<rect x="1012.71" y="577.77" width="9.64" height="2.08" fill="#6f9c90"/>
<rect x="885.3" y="579.45" width="137.00" height="0.35" fill="#fff" opacity="0.35"/>
<rect x="885.3" y="543.26" width="137.00" height="0.8" fill="#7f978c"/>
<rect x="885.3" y="567.62" width="137.00" height="0.8" fill="#7f978c"/>
<rect x="879.00" y="519.50" width="3.50" height="0.70" fill="#bbb" />
<rect x="879.00" y="523.56" width="3.50" height="0.70" fill="#bbb" />
<rect x="879.00" y="527.62" width="3.50" height="0.70" fill="#bbb" />
<rect x="879.00" y="531.68" width="3.50" height="0.70" fill="#bbb" />
<rect x="879.00" y="535.74" width="3.50" height="0.70" fill="#bbb" />
<rect x="879.00" y="539.80" width="3.50" height="0.70" fill="#bbb" />
<rect x="879.00" y="543.86" width="3.50" height="0.70" fill="#bbb" />
<rect x="879.00" y="547.92" width="3.50" height="0.70" fill="#bbb" />
<rect x="879.00" y="551.98" width="3.50" height="0.70" fill="#bbb" />
<rect x="879.00" y="556.04" width="3.50" height="0.70" fill="#bbb" />
<rect x="879.00" y="560.10" width="3.50" height="0.70" fill="#bbb" />
<rect x="879.00" y="564.16" width="3.50" height="0.70" fill="#bbb" />
<rect x="879.00" y="568.22" width="3.50" height="0.70" fill="#bbb" />
<rect x="879.00" y="572.28" width="3.50" height="0.70" fill="#bbb" />
<rect x="879.00" y="576.34" width="3.50" height="0.70" fill="#bbb" />
<rect x="885.00" y="583.60" width="2.50" height="0.70" fill="#bbb" />
<rect x="898.70" y="583.60" width="2.50" height="0.70" fill="#bbb" />
<rect x="912.40" y="583.60" width="2.50" height="0.70" fill="#bbb" />
<rect x="926.10" y="583.60" width="2.50" height="0.70" fill="#bbb" />
<rect x="939.80" y="583.60" width="2.50" height="0.70" fill="#bbb" />
<rect x="953.50" y="583.60" width="2.50" height="0.70" fill="#bbb" />
<rect x="967.20" y="583.60" width="2.50" height="0.70" fill="#bbb" />
<rect x="980.90" y="583.60" width="2.50" height="0.70" fill="#bbb" />
<rect x="994.60" y="583.60" width="2.50" height="0.70" fill="#bbb" />
<rect x="1008.30" y="583.60" width="2.50" height="0.70" fill="#bbb" />
<rect x="1022.00" y="583.60" width="2.50" height="0.70" fill="#bbb" />
<rect x="940.00" y="588.20" width="22.00" height="0.70" fill="#aaa" />
<circle cx="887.0" cy="596.4" r="1.1" fill="#8ea4e2"/>
<rect x="889.50" y="596.00" width="7.00" height="0.80" fill="#999" />
<circle cx="906.8" cy="596.4" r="1.1" fill="#222"/>
<rect x="909.30" y="596.00" width="7.00" height="0.80" fill="#999" />
<circle cx="926.6" cy="596.4" r="1.1" fill="#cfe8c0"/>
<rect x="929.10" y="596.00" width="7.00" height="0.80" fill="#999" />
<circle cx="946.4" cy="596.4" r="1.1" fill="#eaa97b"/>
<rect x="948.90" y="596.00" width="7.00" height="0.80" fill="#999" />
<circle cx="966.2" cy="596.4" r="1.1" fill="#8985c9"/>
<rect x="968.70" y="596.00" width="7.00" height="0.80" fill="#999" />
<circle cx="986.0" cy="596.4" r="1.1" fill="#da6b6b"/>
<rect x="988.50" y="596.00" width="7.00" height="0.80" fill="#999" />
<circle cx="1005.8" cy="596.4" r="1.1" fill="#eae3a5"/>
<rect x="1008.30" y="596.00" width="7.00" height="0.80" fill="#999" />
<circle cx="887" cy="600" r="1.1" fill="#444"/>
<rect x="889.50" y="599.60" width="7.00" height="0.80" fill="#999" />
<rect x="1002.00" y="604.00" width="18.00" height="0.60" fill="#ccc" />
</g>
</svg>
</body></html>
